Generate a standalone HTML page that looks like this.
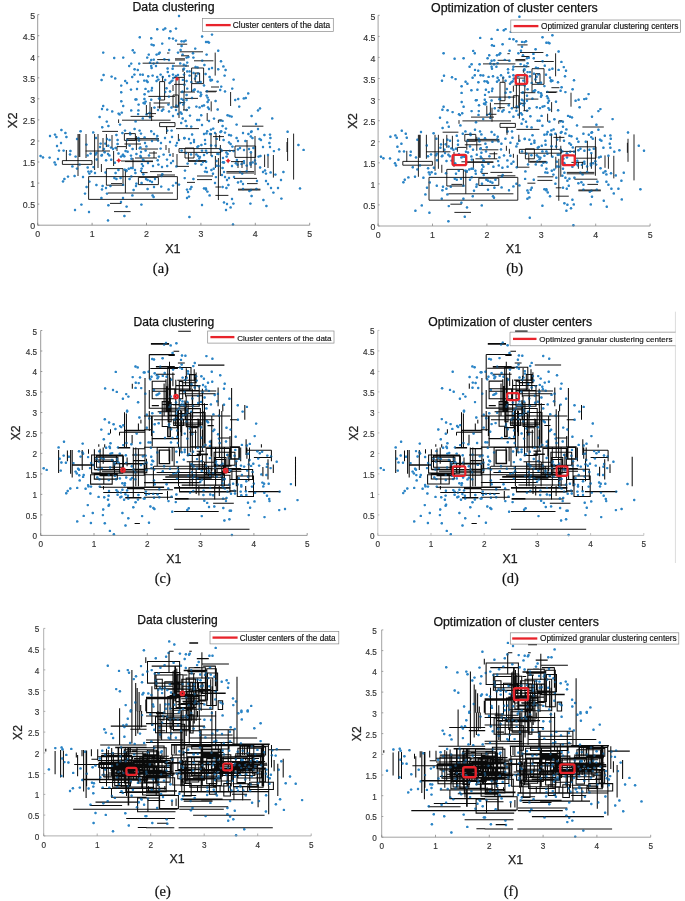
<!DOCTYPE html>
<html lang="en"><head><meta charset="utf-8"><title>Granular clustering figure</title>
<style>
html,body{margin:0;padding:0;background:#fff}
body{width:685px;height:901px;overflow:hidden}
svg{display:block}
.tk{font:8.8px "Liberation Sans",Arial,sans-serif;fill:#333;stroke:#333;stroke-width:.15}
.ti{font:12.3px "Liberation Sans",Arial,sans-serif;fill:#111;stroke:#111;stroke-width:.25}
.al{font:12.8px "Liberation Sans",Arial,sans-serif;fill:#222;stroke:#222;stroke-width:.25}
.lg{font:8.25px "Liberation Sans",Arial,sans-serif;fill:#111;stroke:#111;stroke-width:.15}
.cp{font:14.5px "Liberation Serif","Times New Roman",serif;fill:#111;stroke:#111;stroke-width:.2}
.ax{stroke:#8a8a8a;stroke-width:.8;fill:none}
.g{stroke:#0a0a0a;stroke-width:1.05;fill:none}
.d{fill:#2a84c6}
.r{stroke:#e8232b;fill:none}
</style></head><body>
<svg width="685" height="901" viewBox="0 0 685 901">
<rect width="685" height="901" fill="#fff"/>
<path d="M675.4 311.7V563" stroke="#dcdcdc" stroke-width="1" fill="none"/>
<g id="panel-a">
<g class="d" id="dots-a"><circle cx="157.2" cy="29.2" r="1.2"/><circle cx="163.4" cy="29.6" r="1.2"/><circle cx="165.2" cy="28.4" r="1.2"/><circle cx="170.4" cy="31.2" r="1.2"/><circle cx="139.8" cy="37.2" r="1.2"/><circle cx="151.2" cy="38.2" r="1.2"/><circle cx="169.2" cy="38.2" r="1.2"/><circle cx="173" cy="38.6" r="1.2"/><circle cx="151.6" cy="44.6" r="1.2"/><circle cx="153.6" cy="45.2" r="1.2"/><circle cx="162.2" cy="43.6" r="1.2"/><circle cx="132.8" cy="50.2" r="1.2"/><circle cx="134.4" cy="52.6" r="1.2"/><circle cx="103.2" cy="52.6" r="1.2"/><circle cx="169.2" cy="50" r="1.2"/><circle cx="159.8" cy="52.6" r="1.2"/><circle cx="156.6" cy="54.6" r="1.2"/><circle cx="158.8" cy="53.8" r="1.2"/><circle cx="148.8" cy="54.6" r="1.2"/><circle cx="147.2" cy="57.6" r="1.2"/><circle cx="114.2" cy="58" r="1.2"/><circle cx="123.2" cy="57.6" r="1.2"/><circle cx="151.2" cy="60" r="1.2"/><circle cx="153.8" cy="59.6" r="1.2"/><circle cx="164.4" cy="59.2" r="1.2"/><circle cx="169" cy="60" r="1.2"/><circle cx="131.2" cy="63.6" r="1.2"/><circle cx="129.2" cy="66" r="1.2"/><circle cx="139.2" cy="63.6" r="1.2"/><circle cx="150" cy="62.8" r="1.2"/><circle cx="153.6" cy="63.6" r="1.2"/><circle cx="157.2" cy="62.6" r="1.2"/><circle cx="151.2" cy="66" r="1.2"/><circle cx="156" cy="66" r="1.2"/><circle cx="151.6" cy="68" r="1.2"/><circle cx="173" cy="66" r="1.2"/><circle cx="134.6" cy="69.2" r="1.2"/><circle cx="137.8" cy="70" r="1.2"/><circle cx="103.6" cy="75" r="1.2"/><circle cx="101.6" cy="80" r="1.2"/><circle cx="111.6" cy="76.6" r="1.2"/><circle cx="115.2" cy="78.4" r="1.2"/><circle cx="134.4" cy="74.6" r="1.2"/><circle cx="132.2" cy="77" r="1.2"/><circle cx="140.2" cy="74.6" r="1.2"/><circle cx="142.8" cy="74.8" r="1.2"/><circle cx="148.2" cy="76.2" r="1.2"/><circle cx="152.6" cy="75.6" r="1.2"/><circle cx="157.2" cy="77" r="1.2"/><circle cx="160.6" cy="74.6" r="1.2"/><circle cx="162.8" cy="77" r="1.2"/><circle cx="167.8" cy="72" r="1.2"/><circle cx="169.2" cy="76" r="1.2"/><circle cx="173" cy="74.6" r="1.2"/><circle cx="125.2" cy="81" r="1.2"/><circle cx="127" cy="83" r="1.2"/><circle cx="138" cy="81.6" r="1.2"/><circle cx="144.2" cy="80.6" r="1.2"/><circle cx="147.6" cy="82" r="1.2"/><circle cx="156.6" cy="81" r="1.2"/><circle cx="158.4" cy="79.6" r="1.2"/><circle cx="165.2" cy="80" r="1.2"/><circle cx="169.6" cy="83" r="1.2"/><circle cx="171" cy="81.6" r="1.2"/><circle cx="121.2" cy="85.6" r="1.2"/><circle cx="131" cy="89.6" r="1.2"/><circle cx="137" cy="89" r="1.2"/><circle cx="152" cy="88" r="1.2"/><circle cx="151.6" cy="90.4" r="1.2"/><circle cx="148.4" cy="91.4" r="1.2"/><circle cx="144.6" cy="94.2" r="1.2"/><circle cx="165.2" cy="92" r="1.2"/><circle cx="170" cy="91.4" r="1.2"/><circle cx="121.2" cy="92.2" r="1.2"/><circle cx="136.4" cy="99.4" r="1.2"/><circle cx="144.4" cy="99" r="1.2"/><circle cx="145.6" cy="101.6" r="1.2"/><circle cx="143.6" cy="103" r="1.2"/><circle cx="103.2" cy="106" r="1.2"/><circle cx="102" cy="109" r="1.2"/><circle cx="107.2" cy="109.6" r="1.2"/><circle cx="112.2" cy="111.4" r="1.2"/><circle cx="123.2" cy="106" r="1.2"/><circle cx="131.2" cy="110.4" r="1.2"/><circle cx="138.6" cy="104.6" r="1.2"/><circle cx="138.4" cy="110.4" r="1.2"/><circle cx="154.4" cy="107.6" r="1.2"/><circle cx="158" cy="110" r="1.2"/><circle cx="163.2" cy="109.4" r="1.2"/><circle cx="168.4" cy="104.6" r="1.2"/><circle cx="169" cy="111.4" r="1.2"/><circle cx="99.6" cy="117" r="1.2"/><circle cx="118.6" cy="113.6" r="1.2"/><circle cx="121.8" cy="112.6" r="1.2"/><circle cx="119.6" cy="114.4" r="1.2"/><circle cx="146.6" cy="114.4" r="1.2"/><circle cx="149.6" cy="113" r="1.2"/><circle cx="142.8" cy="118.4" r="1.2"/><circle cx="150" cy="117.4" r="1.2"/><circle cx="173" cy="116" r="1.2"/><circle cx="106.8" cy="121.6" r="1.2"/><circle cx="135.6" cy="121.4" r="1.2"/><circle cx="120" cy="124.6" r="1.2"/><circle cx="102.2" cy="127.2" r="1.2"/><circle cx="108.4" cy="126" r="1.2"/><circle cx="61.4" cy="130" r="1.2"/><circle cx="80.6" cy="131.2" r="1.2"/><circle cx="125" cy="130.6" r="1.2"/><circle cx="134.6" cy="129" r="1.2"/><circle cx="139.6" cy="130.6" r="1.2"/><circle cx="151.2" cy="131.2" r="1.2"/><circle cx="167.2" cy="130.6" r="1.2"/><circle cx="171.6" cy="130.6" r="1.2"/><circle cx="179" cy="16" r="1.2"/><circle cx="176" cy="28.6" r="1.2"/><circle cx="212" cy="34.6" r="1.2"/><circle cx="176" cy="40.6" r="1.2"/><circle cx="181.6" cy="41.2" r="1.2"/><circle cx="184" cy="41.4" r="1.2"/><circle cx="185.6" cy="40.6" r="1.2"/><circle cx="206" cy="42" r="1.2"/><circle cx="208" cy="42" r="1.2"/><circle cx="209" cy="42.6" r="1.2"/><circle cx="181.6" cy="46" r="1.2"/><circle cx="195.2" cy="48.6" r="1.2"/><circle cx="180.6" cy="50" r="1.2"/><circle cx="218.2" cy="50.8" r="1.2"/><circle cx="178" cy="52.6" r="1.2"/><circle cx="182.6" cy="54.6" r="1.2"/><circle cx="193" cy="53.2" r="1.2"/><circle cx="206.6" cy="54.6" r="1.2"/><circle cx="186.6" cy="57.6" r="1.2"/><circle cx="188.4" cy="57" r="1.2"/><circle cx="193.4" cy="57.6" r="1.2"/><circle cx="202.2" cy="60.6" r="1.2"/><circle cx="221" cy="61.2" r="1.2"/><circle cx="187.2" cy="62.6" r="1.2"/><circle cx="186" cy="65.6" r="1.2"/><circle cx="204.4" cy="65" r="1.2"/><circle cx="223.4" cy="66.4" r="1.2"/><circle cx="195.6" cy="67" r="1.2"/><circle cx="197.6" cy="67.4" r="1.2"/><circle cx="225.6" cy="70" r="1.2"/><circle cx="184" cy="68.6" r="1.2"/><circle cx="187.2" cy="71.4" r="1.2"/><circle cx="189.6" cy="71.4" r="1.2"/><circle cx="209" cy="69" r="1.2"/><circle cx="212" cy="68" r="1.2"/><circle cx="218.2" cy="69.2" r="1.2"/><circle cx="193.6" cy="73" r="1.2"/><circle cx="198" cy="73.6" r="1.2"/><circle cx="205.6" cy="74" r="1.2"/><circle cx="209.6" cy="77" r="1.2"/><circle cx="224.6" cy="75.6" r="1.2"/><circle cx="233.6" cy="79.6" r="1.2"/><circle cx="178" cy="75" r="1.2"/><circle cx="176" cy="76" r="1.2"/><circle cx="184" cy="74.6" r="1.2"/><circle cx="189.6" cy="75.6" r="1.2"/><circle cx="186.6" cy="81" r="1.2"/><circle cx="196.2" cy="76" r="1.2"/><circle cx="210.6" cy="79.6" r="1.2"/><circle cx="212" cy="80" r="1.2"/><circle cx="217.6" cy="81.6" r="1.2"/><circle cx="198" cy="82.6" r="1.2"/><circle cx="200.6" cy="82" r="1.2"/><circle cx="204" cy="85.4" r="1.2"/><circle cx="207" cy="91.2" r="1.2"/><circle cx="221.2" cy="86.6" r="1.2"/><circle cx="232.2" cy="88.6" r="1.2"/><circle cx="220.2" cy="90" r="1.2"/><circle cx="225" cy="91.4" r="1.2"/><circle cx="187.2" cy="88.6" r="1.2"/><circle cx="193.2" cy="90.6" r="1.2"/><circle cx="198" cy="91.6" r="1.2"/><circle cx="200.6" cy="92.6" r="1.2"/><circle cx="201.2" cy="94.6" r="1.2"/><circle cx="200.6" cy="96" r="1.2"/><circle cx="206.6" cy="95.6" r="1.2"/><circle cx="207.6" cy="97.6" r="1.2"/><circle cx="215.6" cy="101" r="1.2"/><circle cx="248.2" cy="93.4" r="1.2"/><circle cx="182" cy="92" r="1.2"/><circle cx="186.6" cy="95" r="1.2"/><circle cx="186.6" cy="100" r="1.2"/><circle cx="192" cy="98" r="1.2"/><circle cx="208.6" cy="100" r="1.2"/><circle cx="207.6" cy="102" r="1.2"/><circle cx="235.2" cy="100" r="1.2"/><circle cx="238.2" cy="99" r="1.2"/><circle cx="243.8" cy="98.4" r="1.2"/><circle cx="245.8" cy="98" r="1.2"/><circle cx="184" cy="102.6" r="1.2"/><circle cx="180" cy="103" r="1.2"/><circle cx="183.2" cy="104.6" r="1.2"/><circle cx="196.4" cy="106.6" r="1.2"/><circle cx="199.6" cy="107.4" r="1.2"/><circle cx="202.2" cy="106" r="1.2"/><circle cx="204" cy="105.4" r="1.2"/><circle cx="208" cy="107.4" r="1.2"/><circle cx="209" cy="109" r="1.2"/><circle cx="239.2" cy="106.6" r="1.2"/><circle cx="176" cy="110" r="1.2"/><circle cx="189" cy="107.6" r="1.2"/><circle cx="186.6" cy="110" r="1.2"/><circle cx="260" cy="108.4" r="1.2"/><circle cx="258" cy="110.4" r="1.2"/><circle cx="178" cy="114" r="1.2"/><circle cx="190" cy="115.6" r="1.2"/><circle cx="201.2" cy="115.2" r="1.2"/><circle cx="227.6" cy="115.2" r="1.2"/><circle cx="229.6" cy="116" r="1.2"/><circle cx="231.6" cy="116.6" r="1.2"/><circle cx="251.6" cy="116" r="1.2"/><circle cx="272.2" cy="118.4" r="1.2"/><circle cx="197.2" cy="120" r="1.2"/><circle cx="199.2" cy="120" r="1.2"/><circle cx="185.6" cy="121" r="1.2"/><circle cx="181.2" cy="123" r="1.2"/><circle cx="214" cy="118.6" r="1.2"/><circle cx="220.2" cy="120.6" r="1.2"/><circle cx="209" cy="121" r="1.2"/><circle cx="202" cy="125" r="1.2"/><circle cx="186.6" cy="126" r="1.2"/><circle cx="191.2" cy="126.6" r="1.2"/><circle cx="222.6" cy="126" r="1.2"/><circle cx="236.6" cy="124.6" r="1.2"/><circle cx="256" cy="124" r="1.2"/><circle cx="258" cy="129" r="1.2"/><circle cx="251.6" cy="131.4" r="1.2"/><circle cx="226" cy="128.6" r="1.2"/><circle cx="213.2" cy="128.6" r="1.2"/><circle cx="211" cy="129.6" r="1.2"/><circle cx="221.2" cy="131.2" r="1.2"/><circle cx="207.2" cy="131.2" r="1.2"/><circle cx="50" cy="136" r="1.2"/><circle cx="55" cy="134.6" r="1.2"/><circle cx="56.4" cy="137" r="1.2"/><circle cx="65.4" cy="133" r="1.2"/><circle cx="66.4" cy="137" r="1.2"/><circle cx="77" cy="139" r="1.2"/><circle cx="61" cy="143" r="1.2"/><circle cx="57" cy="146" r="1.2"/><circle cx="86.4" cy="144.6" r="1.2"/><circle cx="100.6" cy="143.6" r="1.2"/><circle cx="96" cy="138" r="1.2"/><circle cx="59" cy="150.6" r="1.2"/><circle cx="63.6" cy="150.6" r="1.2"/><circle cx="70.4" cy="151" r="1.2"/><circle cx="75.6" cy="156.6" r="1.2"/><circle cx="70" cy="154.4" r="1.2"/><circle cx="58" cy="159" r="1.2"/><circle cx="49.6" cy="157.6" r="1.2"/><circle cx="40.6" cy="156" r="1.2"/><circle cx="43" cy="157.4" r="1.2"/><circle cx="54.6" cy="162.4" r="1.2"/><circle cx="55.6" cy="164.6" r="1.2"/><circle cx="72.4" cy="166.4" r="1.2"/><circle cx="79.6" cy="164.6" r="1.2"/><circle cx="77" cy="168.6" r="1.2"/><circle cx="68" cy="176.6" r="1.2"/><circle cx="64.4" cy="179" r="1.2"/><circle cx="63" cy="181.4" r="1.2"/><circle cx="74.6" cy="176" r="1.2"/><circle cx="83" cy="177" r="1.2"/><circle cx="88.4" cy="171.6" r="1.2"/><circle cx="89.4" cy="173.6" r="1.2"/><circle cx="95" cy="173" r="1.2"/><circle cx="86.6" cy="187" r="1.2"/><circle cx="85" cy="193.6" r="1.2"/><circle cx="96.4" cy="185" r="1.2"/><circle cx="102.6" cy="186" r="1.2"/><circle cx="102" cy="189.4" r="1.2"/><circle cx="106" cy="188" r="1.2"/><circle cx="110.4" cy="186" r="1.2"/><circle cx="107" cy="193.6" r="1.2"/><circle cx="101.4" cy="198" r="1.2"/><circle cx="89.4" cy="181.6" r="1.2"/><circle cx="81.4" cy="204.6" r="1.2"/><circle cx="75" cy="210" r="1.2"/><circle cx="89" cy="212" r="1.2"/><circle cx="108" cy="220.4" r="1.2"/><circle cx="124.4" cy="216" r="1.2"/><circle cx="126.6" cy="206.6" r="1.2"/><circle cx="141.4" cy="204.6" r="1.2"/><circle cx="121" cy="202" r="1.2"/><circle cx="123" cy="198" r="1.2"/><circle cx="132.4" cy="195.4" r="1.2"/><circle cx="133.6" cy="190" r="1.2"/><circle cx="136" cy="186" r="1.2"/><circle cx="136.4" cy="183.6" r="1.2"/><circle cx="141.6" cy="183" r="1.2"/><circle cx="153.6" cy="197" r="1.2"/><circle cx="152.6" cy="195.4" r="1.2"/><circle cx="147.6" cy="189" r="1.2"/><circle cx="154" cy="187" r="1.2"/><circle cx="161.2" cy="186.6" r="1.2"/><circle cx="168.6" cy="189.4" r="1.2"/><circle cx="161.6" cy="176" r="1.2"/><circle cx="173" cy="185.6" r="1.2"/><circle cx="146" cy="179" r="1.2"/><circle cx="147.6" cy="180" r="1.2"/><circle cx="150" cy="181" r="1.2"/><circle cx="155" cy="179" r="1.2"/><circle cx="152" cy="182" r="1.2"/><circle cx="114.4" cy="178" r="1.2"/><circle cx="116.4" cy="179" r="1.2"/><circle cx="120.6" cy="178" r="1.2"/><circle cx="129.6" cy="179" r="1.2"/><circle cx="115.6" cy="173" r="1.2"/><circle cx="118.4" cy="170" r="1.2"/><circle cx="126.4" cy="171" r="1.2"/><circle cx="131" cy="168" r="1.2"/><circle cx="135" cy="170" r="1.2"/><circle cx="135.4" cy="173" r="1.2"/><circle cx="141" cy="171" r="1.2"/><circle cx="143" cy="166" r="1.2"/><circle cx="141.6" cy="168.6" r="1.2"/><circle cx="148" cy="163" r="1.2"/><circle cx="153" cy="166" r="1.2"/><circle cx="158.4" cy="164.6" r="1.2"/><circle cx="162" cy="167" r="1.2"/><circle cx="167" cy="159.6" r="1.2"/><circle cx="171" cy="163" r="1.2"/><circle cx="173" cy="161" r="1.2"/><circle cx="121" cy="156.6" r="1.2"/><circle cx="123" cy="154.6" r="1.2"/><circle cx="125.6" cy="151" r="1.2"/><circle cx="131" cy="155.6" r="1.2"/><circle cx="136.4" cy="154" r="1.2"/><circle cx="140.4" cy="156" r="1.2"/><circle cx="141" cy="152" r="1.2"/><circle cx="145.6" cy="150.6" r="1.2"/><circle cx="149" cy="155.4" r="1.2"/><circle cx="159" cy="156.6" r="1.2"/><circle cx="163.6" cy="154.6" r="1.2"/><circle cx="160.6" cy="148.6" r="1.2"/><circle cx="170" cy="155" r="1.2"/><circle cx="107" cy="139" r="1.2"/><circle cx="109.6" cy="140" r="1.2"/><circle cx="116.4" cy="135" r="1.2"/><circle cx="117.6" cy="140" r="1.2"/><circle cx="117.6" cy="144" r="1.2"/><circle cx="111" cy="147.6" r="1.2"/><circle cx="113" cy="149" r="1.2"/><circle cx="115.6" cy="148" r="1.2"/><circle cx="108" cy="154" r="1.2"/><circle cx="109.4" cy="155.4" r="1.2"/><circle cx="102" cy="155" r="1.2"/><circle cx="96.4" cy="153" r="1.2"/><circle cx="90.6" cy="153.6" r="1.2"/><circle cx="87.6" cy="155.4" r="1.2"/><circle cx="100" cy="147" r="1.2"/><circle cx="104" cy="149" r="1.2"/><circle cx="122.4" cy="133" r="1.2"/><circle cx="130" cy="133" r="1.2"/><circle cx="141" cy="133.6" r="1.2"/><circle cx="154" cy="134" r="1.2"/><circle cx="138.4" cy="138" r="1.2"/><circle cx="145" cy="143" r="1.2"/><circle cx="146.4" cy="146.4" r="1.2"/><circle cx="152" cy="141" r="1.2"/><circle cx="158" cy="140.6" r="1.2"/><circle cx="161" cy="143" r="1.2"/><circle cx="165" cy="138" r="1.2"/><circle cx="170" cy="142" r="1.2"/><circle cx="172" cy="137" r="1.2"/><circle cx="140.4" cy="147.4" r="1.2"/><circle cx="132.6" cy="149" r="1.2"/><circle cx="129.6" cy="145.6" r="1.2"/><circle cx="298.4" cy="145" r="1.2"/><circle cx="279" cy="149.4" r="1.2"/><circle cx="283.4" cy="172" r="1.2"/><circle cx="281" cy="180" r="1.2"/><circle cx="278" cy="188" r="1.2"/><circle cx="300" cy="188.4" r="1.2"/><circle cx="281.4" cy="198.6" r="1.2"/><circle cx="273.4" cy="192.6" r="1.2"/><circle cx="271" cy="188" r="1.2"/><circle cx="268" cy="184" r="1.2"/><circle cx="266" cy="181" r="1.2"/><circle cx="275.4" cy="174.6" r="1.2"/><circle cx="270.6" cy="172.4" r="1.2"/><circle cx="266" cy="173.6" r="1.2"/><circle cx="263" cy="172" r="1.2"/><circle cx="265" cy="170.4" r="1.2"/><circle cx="263.4" cy="200" r="1.2"/><circle cx="266.4" cy="206" r="1.2"/><circle cx="250.4" cy="203.6" r="1.2"/><circle cx="251.6" cy="196" r="1.2"/><circle cx="249.4" cy="191" r="1.2"/><circle cx="243" cy="184" r="1.2"/><circle cx="241" cy="181.4" r="1.2"/><circle cx="238" cy="182.4" r="1.2"/><circle cx="234" cy="177" r="1.2"/><circle cx="229" cy="178" r="1.2"/><circle cx="227" cy="180" r="1.2"/><circle cx="228.4" cy="185" r="1.2"/><circle cx="226.4" cy="188" r="1.2"/><circle cx="222.6" cy="187" r="1.2"/><circle cx="222" cy="175" r="1.2"/><circle cx="224" cy="172" r="1.2"/><circle cx="222.6" cy="168" r="1.2"/><circle cx="225" cy="177" r="1.2"/><circle cx="232" cy="199" r="1.2"/><circle cx="233.4" cy="203.6" r="1.2"/><circle cx="230.6" cy="207.4" r="1.2"/><circle cx="227" cy="204" r="1.2"/><circle cx="224" cy="202.4" r="1.2"/><circle cx="226" cy="210" r="1.2"/><circle cx="202" cy="205" r="1.2"/><circle cx="189.4" cy="217" r="1.2"/><circle cx="233" cy="224.4" r="1.2"/><circle cx="209.6" cy="195.4" r="1.2"/><circle cx="207.4" cy="191.6" r="1.2"/><circle cx="206" cy="189.6" r="1.2"/><circle cx="204" cy="188.4" r="1.2"/><circle cx="191.4" cy="187" r="1.2"/><circle cx="190.4" cy="189" r="1.2"/><circle cx="188" cy="192" r="1.2"/><circle cx="189" cy="196.6" r="1.2"/><circle cx="187" cy="198" r="1.2"/><circle cx="187" cy="189.6" r="1.2"/><circle cx="176" cy="183" r="1.2"/><circle cx="179" cy="184.6" r="1.2"/><circle cx="193.4" cy="179" r="1.2"/><circle cx="215" cy="183" r="1.2"/><circle cx="185" cy="170.6" r="1.2"/><circle cx="176.4" cy="166.4" r="1.2"/><circle cx="201.4" cy="164.6" r="1.2"/><circle cx="195.4" cy="163.6" r="1.2"/><circle cx="206" cy="168" r="1.2"/><circle cx="207" cy="172" r="1.2"/><circle cx="211.4" cy="170" r="1.2"/><circle cx="205" cy="171.6" r="1.2"/><circle cx="177" cy="143" r="1.2"/><circle cx="179" cy="140" r="1.2"/><circle cx="184.4" cy="138" r="1.2"/><circle cx="189" cy="139" r="1.2"/><circle cx="194" cy="140" r="1.2"/><circle cx="194" cy="142" r="1.2"/><circle cx="197.4" cy="147" r="1.2"/><circle cx="201.4" cy="145" r="1.2"/><circle cx="204" cy="134" r="1.2"/><circle cx="206.4" cy="133.4" r="1.2"/><circle cx="210" cy="134" r="1.2"/><circle cx="205" cy="140" r="1.2"/><circle cx="176" cy="145.6" r="1.2"/><circle cx="181.6" cy="150.6" r="1.2"/><circle cx="186" cy="153" r="1.2"/><circle cx="191" cy="154.4" r="1.2"/><circle cx="198" cy="156" r="1.2"/><circle cx="200" cy="157" r="1.2"/><circle cx="196.4" cy="154.4" r="1.2"/><circle cx="204" cy="155" r="1.2"/><circle cx="207" cy="153" r="1.2"/><circle cx="212" cy="156" r="1.2"/><circle cx="202" cy="150.6" r="1.2"/><circle cx="206" cy="150.6" r="1.2"/><circle cx="215" cy="133" r="1.2"/><circle cx="220.4" cy="132" r="1.2"/><circle cx="225" cy="132.6" r="1.2"/><circle cx="229" cy="135" r="1.2"/><circle cx="231" cy="135.4" r="1.2"/><circle cx="223.6" cy="140" r="1.2"/><circle cx="229" cy="142.4" r="1.2"/><circle cx="230.6" cy="144" r="1.2"/><circle cx="232.4" cy="146.6" r="1.2"/><circle cx="236.6" cy="138" r="1.2"/><circle cx="238" cy="141" r="1.2"/><circle cx="243" cy="133" r="1.2"/><circle cx="248.4" cy="134" r="1.2"/><circle cx="251" cy="132" r="1.2"/><circle cx="252.4" cy="138" r="1.2"/><circle cx="245.4" cy="141" r="1.2"/><circle cx="240" cy="148" r="1.2"/><circle cx="238" cy="149.4" r="1.2"/><circle cx="244" cy="150" r="1.2"/><circle cx="249" cy="149" r="1.2"/><circle cx="253.4" cy="148" r="1.2"/><circle cx="259.6" cy="139" r="1.2"/><circle cx="261" cy="140" r="1.2"/><circle cx="264.4" cy="135" r="1.2"/><circle cx="270" cy="134.6" r="1.2"/><circle cx="270.4" cy="138" r="1.2"/><circle cx="269.4" cy="143" r="1.2"/><circle cx="270" cy="147" r="1.2"/><circle cx="263" cy="147" r="1.2"/><circle cx="260.4" cy="156" r="1.2"/><circle cx="258.6" cy="156.6" r="1.2"/><circle cx="268" cy="155" r="1.2"/><circle cx="255" cy="160.4" r="1.2"/><circle cx="250.6" cy="164.6" r="1.2"/><circle cx="244" cy="163" r="1.2"/><circle cx="232" cy="166" r="1.2"/><circle cx="226.6" cy="156.6" r="1.2"/><circle cx="223" cy="158" r="1.2"/><circle cx="224" cy="162.6" r="1.2"/><circle cx="222" cy="150.6" r="1.2"/><circle cx="226.4" cy="152.4" r="1.2"/><circle cx="233.6" cy="151" r="1.2"/><circle cx="218.4" cy="154" r="1.2"/><circle cx="216.4" cy="161" r="1.2"/><circle cx="257" cy="181" r="1.2"/><circle cx="256.4" cy="189" r="1.2"/><circle cx="251" cy="190" r="1.2"/><circle cx="243" cy="189" r="1.2"/><circle cx="139" cy="140.5" r="1.2"/><circle cx="105.6" cy="172.5" r="1.2"/><circle cx="130.2" cy="134.3" r="1.2"/><circle cx="131.3" cy="176.4" r="1.2"/><circle cx="106.1" cy="160.3" r="1.2"/><circle cx="143" cy="159.6" r="1.2"/><circle cx="114.9" cy="162.8" r="1.2"/><circle cx="126.3" cy="170.2" r="1.2"/><circle cx="122.7" cy="155.6" r="1.2"/><circle cx="157.7" cy="160.3" r="1.2"/><circle cx="143.3" cy="174.3" r="1.2"/><circle cx="141" cy="157.1" r="1.2"/><circle cx="111.2" cy="159.8" r="1.2"/><circle cx="141.9" cy="164.1" r="1.2"/><circle cx="144.6" cy="137.4" r="1.2"/><circle cx="157.3" cy="136" r="1.2"/><circle cx="95.6" cy="154.5" r="1.2"/><circle cx="108.2" cy="145.8" r="1.2"/><circle cx="124.3" cy="156.2" r="1.2"/><circle cx="132.6" cy="168" r="1.2"/><circle cx="124.8" cy="169.8" r="1.2"/><circle cx="167.2" cy="166" r="1.2"/><circle cx="123.1" cy="184.9" r="1.2"/><circle cx="91.2" cy="171.5" r="1.2"/><circle cx="139.8" cy="148.2" r="1.2"/><circle cx="128.8" cy="168.7" r="1.2"/><circle cx="162.3" cy="174.2" r="1.2"/><circle cx="104.6" cy="152.3" r="1.2"/><circle cx="101.5" cy="155.5" r="1.2"/><circle cx="143.5" cy="160.4" r="1.2"/><circle cx="131.5" cy="158.8" r="1.2"/><circle cx="108.4" cy="205.3" r="1.2"/><circle cx="96.7" cy="159.5" r="1.2"/><circle cx="87.7" cy="167.5" r="1.2"/><circle cx="127.2" cy="140" r="1.2"/><circle cx="93.5" cy="167.1" r="1.2"/><circle cx="127.6" cy="151.7" r="1.2"/><circle cx="93.2" cy="132.4" r="1.2"/><circle cx="105.3" cy="143.6" r="1.2"/><circle cx="118.5" cy="153.5" r="1.2"/><circle cx="236.9" cy="159.9" r="1.2"/><circle cx="303.6" cy="149.9" r="1.2"/><circle cx="229.8" cy="150.9" r="1.2"/><circle cx="213.7" cy="168.8" r="1.2"/><circle cx="237.5" cy="164.7" r="1.2"/><circle cx="243.9" cy="161.1" r="1.2"/><circle cx="184.7" cy="178.1" r="1.2"/><circle cx="205.9" cy="188.5" r="1.2"/><circle cx="223.6" cy="162.3" r="1.2"/><circle cx="246.7" cy="171.2" r="1.2"/><circle cx="220.1" cy="148.9" r="1.2"/><circle cx="242.2" cy="173.6" r="1.2"/><circle cx="260.1" cy="167.5" r="1.2"/><circle cx="252.7" cy="162.4" r="1.2"/><circle cx="215.9" cy="177.1" r="1.2"/><circle cx="222.5" cy="120.9" r="1.2"/><circle cx="210.9" cy="134.1" r="1.2"/><circle cx="255.7" cy="163.8" r="1.2"/><circle cx="250.8" cy="136.4" r="1.2"/><circle cx="218.5" cy="166" r="1.2"/><circle cx="250.9" cy="152.3" r="1.2"/><circle cx="273.9" cy="151.1" r="1.2"/><circle cx="199.2" cy="158.5" r="1.2"/><circle cx="198.4" cy="146.1" r="1.2"/><circle cx="241.5" cy="164.1" r="1.2"/><circle cx="205.2" cy="143.9" r="1.2"/><circle cx="216.8" cy="138.9" r="1.2"/><circle cx="203" cy="162" r="1.2"/><circle cx="213" cy="173.8" r="1.2"/><circle cx="287.6" cy="131.7" r="1.2"/><circle cx="211.1" cy="145.5" r="1.2"/><circle cx="184.3" cy="138.3" r="1.2"/><circle cx="250.3" cy="163" r="1.2"/><circle cx="217.4" cy="153.9" r="1.2"/><circle cx="235.9" cy="163.3" r="1.2"/><circle cx="206.1" cy="161.8" r="1.2"/><circle cx="215.7" cy="145.6" r="1.2"/><circle cx="227.6" cy="154" r="1.2"/><circle cx="187.6" cy="163.6" r="1.2"/><circle cx="216.6" cy="165.7" r="1.2"/><circle cx="222.9" cy="162.3" r="1.2"/><circle cx="190.8" cy="143.1" r="1.2"/><circle cx="246.7" cy="165.6" r="1.2"/><circle cx="240" cy="172" r="1.2"/><circle cx="196.9" cy="160.8" r="1.2"/><circle cx="217.7" cy="109.5" r="1.2"/><circle cx="182.6" cy="91.7" r="1.2"/><circle cx="159.7" cy="98.3" r="1.2"/><circle cx="166.5" cy="88.3" r="1.2"/><circle cx="183.8" cy="64.8" r="1.2"/><circle cx="180.2" cy="63.4" r="1.2"/><circle cx="184.4" cy="84.8" r="1.2"/><circle cx="171.5" cy="107.5" r="1.2"/><circle cx="145.5" cy="88.9" r="1.2"/><circle cx="172.3" cy="80.6" r="1.2"/><circle cx="181.6" cy="113.7" r="1.2"/><circle cx="161.9" cy="110.8" r="1.2"/><circle cx="194.2" cy="89.9" r="1.2"/><circle cx="177.6" cy="106.4" r="1.2"/><circle cx="151.2" cy="99.7" r="1.2"/><circle cx="173.3" cy="78" r="1.2"/><circle cx="146.6" cy="80.8" r="1.2"/><circle cx="159" cy="98.6" r="1.2"/><circle cx="168.9" cy="96.6" r="1.2"/><circle cx="183.7" cy="69.4" r="1.2"/><circle cx="181.5" cy="98.9" r="1.2"/><circle cx="182.9" cy="79.9" r="1.2"/><circle cx="191.3" cy="82.1" r="1.2"/><circle cx="144.8" cy="103.4" r="1.2"/><circle cx="167.6" cy="68.5" r="1.2"/><circle cx="172.6" cy="68.8" r="1.2"/><circle cx="180.6" cy="112.4" r="1.2"/><circle cx="175.9" cy="76.2" r="1.2"/><circle cx="182.7" cy="118.5" r="1.2"/><circle cx="183.1" cy="99.9" r="1.2"/><circle cx="135.5" cy="99.5" r="1.2"/><circle cx="138.1" cy="114.1" r="1.2"/><circle cx="202.1" cy="36.5" r="1.2"/><circle cx="195" cy="78.7" r="1.2"/><circle cx="210.7" cy="80.6" r="1.2"/><circle cx="156.7" cy="138.6" r="1.2"/><circle cx="192.1" cy="134.5" r="1.2"/><circle cx="121.3" cy="101.3" r="1.2"/><circle cx="176.3" cy="105.6" r="1.2"/><circle cx="194.7" cy="89.5" r="1.2"/></g>
<path class="g" style="stroke-width:0.9" d="M142.6 63.2L175 63.2M157.2 59.6L169.2 59.6M167 53L169.4 53M159.6 100H164.6V81.6H159.6ZM162.6 76L162.6 81.6M148.4 96.4L175 96.4M153.6 103L170 103M157.2 107L164.4 107M159.6 100L159.6 108.6M146.4 105L146.4 115M150 102L150 118M151.6 107L151.6 121M130.6 116.4L153.6 116.4M146 113.6L156 113.6M122 120.2L170.6 120.2M118.6 119.4L118.6 123M159.6 126.6H175V122.6H159.6ZM102.2 131.4L118 131.4M166.6 127L166.6 132M173 85L173 91M177 44.2L187.2 44.2M179.6 51.8L203 51.8M175 58.8L185 58.8M175 60L185 60M181 55.8L189 55.8M194 60.8L213.4 60.8M215.2 52.6L215.2 75.6M174 66L189 66M191.6 83.6H203.6V68H191.6ZM195.2 82H199.6V73H195.2ZM191.6 83.6L191.6 92M184.4 72L184.4 92M183 68.6L183 72M179 78L179 118M176 80L176 108M174 77.4L184 77.4M174 84.4L184 84.4M180 92L195 92M173 107H178.4V95H173ZM185 98.4L198 98.4M184 92L184 110M183 110L188 110M180 102.6L184 102.6M211 87L219 87M205.6 91.2L217 91.2M205.6 91.8L216 91.8M230.6 92L230.6 106M211.2 101.4L211.2 111.4M207.2 113L207.2 121M218.4 120L222 120M218.4 120L218.4 123M242 126.2L263.4 126.2M176 128.6L199 128.6M166.6 126.6L166.6 134M78 134L78 157M79 134L79 157M79.8 134L79.8 157M86 134L86 158M94.6 134L94.6 170M98 134L98 168M103 138L103 151M106.4 134L106.4 147M112 135L112 148M85.6 151L110 151M124.4 140.4H135.4V133.6H124.4ZM126.4 138.6L159 138.6M126.4 140L159 140M117 146.6L126 146.6M117 146.6L117 151M113.6 151L113.6 166M126.4 141L126.4 149M124.4 144L141 144M136.4 136L136.4 150M62.4 164.4H92V160.6H62.4ZM66.4 150L66.4 161M78 157L78 176M101.4 164L101.4 172M106.4 185.2H123V168.6H106.4ZM125.4 170L125.4 193M88.6 199.4H177.4V176.6H88.6ZM138.4 184.6H158.4V177.4H138.4ZM111 183.6L122 183.6M108 193L173 193M110 203.4L121.4 203.4M114 211.6L130.6 211.6M121 161L153 161M125 161.6L153 161.6M135 158L157 158M133 158L133 167M154 151L154 158M141 149L158 149M149 153L157 153M150 171.6L172 171.6M141 172.6L147.6 172.6M166 145L166 150M169 148L169 153M173 153L173 157M157 175L175 175M293.6 133.6L293.6 179.6M287.6 138L287.6 161M287 142L287 152M273.4 155L273.4 177.6M264.6 154.6L264.6 167M268 156L268 168M235 157.4H255.6V146H235ZM247 140L247 170M255 136L255 175M251 153L251 168M226.4 171.6L254 171.6M226.4 173L254 173M234 178.4L257 178.4M247 183.6L257.6 183.6M238 189.2L260.4 189.2M238 190L260.4 190M179 152.4H221V148.6H179ZM221 150.6L235 150.6M185 158H194V148H185ZM188.4 153L188.4 162M189 160.6L206 160.6M189 161.4L206 161.4M178.4 134L178.4 141M177 154L177 167M177 166.4L189 166.4M211 133L211 156M216 133L216 148M213 136.6L224 136.6M219.6 135L219.6 141M215.4 156L215.4 168M220.4 145L220.4 176M218.4 158L218.4 200M197 176L213 176M197 179.6L212 179.6M187 182.4L195 182.4M215.4 187L221 187M215.4 195.4L228.4 195.4M238 161L238 168M242 161L242 168M231 161.6L243 161.6"/>
<use href="#dots-a" opacity=".5"/>
<path fill="#e8232b" d="M118.8 157.9L119.7 159.6L121.4 160.5L119.7 161.5L118.8 163.1L117.8 161.5L116.2 160.5L117.8 159.6Z"/><path fill="#e8232b" d="M177 76.6L177.9 78.1L179.4 79L177.9 80L177 81.4L176.1 80L174.6 79L176.1 78.1Z"/><path fill="#e8232b" d="M228.1 158.2L229.1 159.8L230.7 160.8L229.1 161.7L228.1 163.4L227.1 161.7L225.5 160.8L227.1 159.8Z"/>
<path class="ax" style="stroke:#808080" d="M37.7 14.6V225.2H309.7M37.7 225.2v-2.4M92.1 225.2v-2.4M146.5 225.2v-2.4M200.9 225.2v-2.4M255.3 225.2v-2.4M309.7 225.2v-2.4M37.7 225.2h1.6M37.7 204.1h1.6M37.7 183.1h1.6M37.7 162h1.6M37.7 141h1.6M37.7 119.9h1.6M37.7 98.8h1.6M37.7 77.8h1.6M37.7 56.7h1.6M37.7 35.7h1.6M37.7 14.6h1.6"/>
<text class="tk" text-anchor="middle" style="font-size:8.8px" x="37.7" y="237.4">0</text><text class="tk" text-anchor="middle" style="font-size:8.8px" x="92.1" y="237.4">1</text><text class="tk" text-anchor="middle" style="font-size:8.8px" x="146.5" y="237.4">2</text><text class="tk" text-anchor="middle" style="font-size:8.8px" x="200.9" y="237.4">3</text><text class="tk" text-anchor="middle" style="font-size:8.8px" x="255.3" y="237.4">4</text><text class="tk" text-anchor="middle" style="font-size:8.8px" x="309.7" y="237.4">5</text><text class="tk" text-anchor="end" style="font-size:8.8px" x="35.1" y="229.4">0</text><text class="tk" text-anchor="end" style="font-size:8.8px" x="35.1" y="208.3">0.5</text><text class="tk" text-anchor="end" style="font-size:8.8px" x="35.1" y="187.2">1</text><text class="tk" text-anchor="end" style="font-size:8.8px" x="35.1" y="166.2">1.5</text><text class="tk" text-anchor="end" style="font-size:8.8px" x="35.1" y="145.1">2</text><text class="tk" text-anchor="end" style="font-size:8.8px" x="35.1" y="124.1">2.5</text><text class="tk" text-anchor="end" style="font-size:8.8px" x="35.1" y="103">3</text><text class="tk" text-anchor="end" style="font-size:8.8px" x="35.1" y="81.9">3.5</text><text class="tk" text-anchor="end" style="font-size:8.8px" x="35.1" y="60.9">4</text><text class="tk" text-anchor="end" style="font-size:8.8px" x="35.1" y="39.8">4.5</text><text class="tk" text-anchor="end" style="font-size:8.8px" x="35.1" y="18.8">5</text>
<text class="ti" text-anchor="middle" style="font-size:12.3px" x="173.5" y="10.9">Data clustering</text>
<text class="al" text-anchor="middle" style="font-size:12.6px" x="172.9" y="252.8">X1</text>
<text class="al" text-anchor="middle" style="font-size:12.8px" transform="translate(16.5 120.3) rotate(-90)">X2</text>
<text class="cp" text-anchor="middle" x="160.9" y="273.3">(a)</text>
<rect x="202.6" y="18.6" width="130.7" height="13" fill="#fff" stroke="#8a8a8a" stroke-width=".7"/><path d="M205.8 25.1H230.7" stroke="#e8232b" stroke-width="2.3"/><text class="lg" style="font-size:8.3px" x="232.8" y="28.4">Cluster centers of the data</text>
</g>
<g id="panel-b">
<g class="d" id="dots-b"><circle cx="497.6" cy="29.9" r="1.2"/><circle cx="503.8" cy="30.3" r="1.2"/><circle cx="505.6" cy="29.1" r="1.2"/><circle cx="510.8" cy="31.9" r="1.2"/><circle cx="480.2" cy="37.9" r="1.2"/><circle cx="491.6" cy="38.9" r="1.2"/><circle cx="509.6" cy="38.9" r="1.2"/><circle cx="513.4" cy="39.3" r="1.2"/><circle cx="492" cy="45.3" r="1.2"/><circle cx="494" cy="45.9" r="1.2"/><circle cx="502.6" cy="44.3" r="1.2"/><circle cx="473.2" cy="50.9" r="1.2"/><circle cx="474.8" cy="53.3" r="1.2"/><circle cx="443.6" cy="53.3" r="1.2"/><circle cx="509.6" cy="50.7" r="1.2"/><circle cx="500.2" cy="53.3" r="1.2"/><circle cx="497" cy="55.3" r="1.2"/><circle cx="499.2" cy="54.5" r="1.2"/><circle cx="489.2" cy="55.3" r="1.2"/><circle cx="487.6" cy="58.3" r="1.2"/><circle cx="454.6" cy="58.7" r="1.2"/><circle cx="463.6" cy="58.3" r="1.2"/><circle cx="491.6" cy="60.7" r="1.2"/><circle cx="494.2" cy="60.3" r="1.2"/><circle cx="504.8" cy="59.9" r="1.2"/><circle cx="509.4" cy="60.7" r="1.2"/><circle cx="471.6" cy="64.3" r="1.2"/><circle cx="469.6" cy="66.7" r="1.2"/><circle cx="479.6" cy="64.3" r="1.2"/><circle cx="490.4" cy="63.5" r="1.2"/><circle cx="494" cy="64.3" r="1.2"/><circle cx="497.6" cy="63.3" r="1.2"/><circle cx="491.6" cy="66.7" r="1.2"/><circle cx="496.4" cy="66.7" r="1.2"/><circle cx="492" cy="68.7" r="1.2"/><circle cx="513.4" cy="66.7" r="1.2"/><circle cx="475" cy="69.9" r="1.2"/><circle cx="478.2" cy="70.7" r="1.2"/><circle cx="444" cy="75.7" r="1.2"/><circle cx="442" cy="80.7" r="1.2"/><circle cx="452" cy="77.3" r="1.2"/><circle cx="455.6" cy="79.1" r="1.2"/><circle cx="474.8" cy="75.3" r="1.2"/><circle cx="472.6" cy="77.7" r="1.2"/><circle cx="480.6" cy="75.3" r="1.2"/><circle cx="483.2" cy="75.5" r="1.2"/><circle cx="488.6" cy="76.9" r="1.2"/><circle cx="493" cy="76.3" r="1.2"/><circle cx="497.6" cy="77.7" r="1.2"/><circle cx="501" cy="75.3" r="1.2"/><circle cx="503.2" cy="77.7" r="1.2"/><circle cx="508.2" cy="72.7" r="1.2"/><circle cx="509.6" cy="76.7" r="1.2"/><circle cx="513.4" cy="75.3" r="1.2"/><circle cx="465.6" cy="81.7" r="1.2"/><circle cx="467.4" cy="83.7" r="1.2"/><circle cx="478.4" cy="82.3" r="1.2"/><circle cx="484.6" cy="81.3" r="1.2"/><circle cx="488" cy="82.7" r="1.2"/><circle cx="497" cy="81.7" r="1.2"/><circle cx="498.8" cy="80.3" r="1.2"/><circle cx="505.6" cy="80.7" r="1.2"/><circle cx="510" cy="83.7" r="1.2"/><circle cx="511.4" cy="82.3" r="1.2"/><circle cx="461.6" cy="86.3" r="1.2"/><circle cx="471.4" cy="90.3" r="1.2"/><circle cx="477.4" cy="89.7" r="1.2"/><circle cx="492.4" cy="88.7" r="1.2"/><circle cx="492" cy="91.1" r="1.2"/><circle cx="488.8" cy="92.1" r="1.2"/><circle cx="485" cy="94.9" r="1.2"/><circle cx="505.6" cy="92.7" r="1.2"/><circle cx="510.4" cy="92.1" r="1.2"/><circle cx="461.6" cy="92.9" r="1.2"/><circle cx="476.8" cy="100.1" r="1.2"/><circle cx="484.8" cy="99.7" r="1.2"/><circle cx="486" cy="102.3" r="1.2"/><circle cx="484" cy="103.7" r="1.2"/><circle cx="443.6" cy="106.7" r="1.2"/><circle cx="442.4" cy="109.7" r="1.2"/><circle cx="447.6" cy="110.3" r="1.2"/><circle cx="452.6" cy="112.1" r="1.2"/><circle cx="463.6" cy="106.7" r="1.2"/><circle cx="471.6" cy="111.1" r="1.2"/><circle cx="479" cy="105.3" r="1.2"/><circle cx="478.8" cy="111.1" r="1.2"/><circle cx="494.8" cy="108.3" r="1.2"/><circle cx="498.4" cy="110.7" r="1.2"/><circle cx="503.6" cy="110.1" r="1.2"/><circle cx="508.8" cy="105.3" r="1.2"/><circle cx="509.4" cy="112.1" r="1.2"/><circle cx="440" cy="117.7" r="1.2"/><circle cx="459" cy="114.3" r="1.2"/><circle cx="462.2" cy="113.3" r="1.2"/><circle cx="460" cy="115.1" r="1.2"/><circle cx="487" cy="115.1" r="1.2"/><circle cx="490" cy="113.7" r="1.2"/><circle cx="483.2" cy="119.1" r="1.2"/><circle cx="490.4" cy="118.1" r="1.2"/><circle cx="513.4" cy="116.7" r="1.2"/><circle cx="447.2" cy="122.4" r="1.2"/><circle cx="476" cy="122.2" r="1.2"/><circle cx="460.4" cy="125.4" r="1.2"/><circle cx="442.6" cy="128" r="1.2"/><circle cx="448.8" cy="126.8" r="1.2"/><circle cx="401.8" cy="130.8" r="1.2"/><circle cx="421" cy="132" r="1.2"/><circle cx="465.4" cy="131.4" r="1.2"/><circle cx="475" cy="129.8" r="1.2"/><circle cx="480" cy="131.4" r="1.2"/><circle cx="491.6" cy="132" r="1.2"/><circle cx="507.6" cy="131.4" r="1.2"/><circle cx="512" cy="131.4" r="1.2"/><circle cx="519.4" cy="16.7" r="1.2"/><circle cx="516.4" cy="29.3" r="1.2"/><circle cx="552.4" cy="35.3" r="1.2"/><circle cx="516.4" cy="41.3" r="1.2"/><circle cx="522" cy="41.9" r="1.2"/><circle cx="524.4" cy="42.1" r="1.2"/><circle cx="526" cy="41.3" r="1.2"/><circle cx="546.4" cy="42.7" r="1.2"/><circle cx="548.4" cy="42.7" r="1.2"/><circle cx="549.4" cy="43.3" r="1.2"/><circle cx="522" cy="46.7" r="1.2"/><circle cx="535.6" cy="49.3" r="1.2"/><circle cx="521" cy="50.7" r="1.2"/><circle cx="558.6" cy="51.5" r="1.2"/><circle cx="518.4" cy="53.3" r="1.2"/><circle cx="523" cy="55.3" r="1.2"/><circle cx="533.4" cy="53.9" r="1.2"/><circle cx="547" cy="55.3" r="1.2"/><circle cx="527" cy="58.3" r="1.2"/><circle cx="528.8" cy="57.7" r="1.2"/><circle cx="533.8" cy="58.3" r="1.2"/><circle cx="542.6" cy="61.3" r="1.2"/><circle cx="561.4" cy="61.9" r="1.2"/><circle cx="527.6" cy="63.3" r="1.2"/><circle cx="526.4" cy="66.3" r="1.2"/><circle cx="544.8" cy="65.7" r="1.2"/><circle cx="563.8" cy="67.1" r="1.2"/><circle cx="536" cy="67.7" r="1.2"/><circle cx="538" cy="68.1" r="1.2"/><circle cx="566" cy="70.7" r="1.2"/><circle cx="524.4" cy="69.3" r="1.2"/><circle cx="527.6" cy="72.1" r="1.2"/><circle cx="530" cy="72.1" r="1.2"/><circle cx="549.4" cy="69.7" r="1.2"/><circle cx="552.4" cy="68.7" r="1.2"/><circle cx="558.6" cy="69.9" r="1.2"/><circle cx="534" cy="73.7" r="1.2"/><circle cx="538.4" cy="74.3" r="1.2"/><circle cx="546" cy="74.7" r="1.2"/><circle cx="550" cy="77.7" r="1.2"/><circle cx="565" cy="76.3" r="1.2"/><circle cx="574" cy="80.3" r="1.2"/><circle cx="518.4" cy="75.7" r="1.2"/><circle cx="516.4" cy="76.7" r="1.2"/><circle cx="524.4" cy="75.3" r="1.2"/><circle cx="530" cy="76.3" r="1.2"/><circle cx="527" cy="81.7" r="1.2"/><circle cx="536.6" cy="76.7" r="1.2"/><circle cx="551" cy="80.3" r="1.2"/><circle cx="552.4" cy="80.7" r="1.2"/><circle cx="558" cy="82.3" r="1.2"/><circle cx="538.4" cy="83.3" r="1.2"/><circle cx="541" cy="82.7" r="1.2"/><circle cx="544.4" cy="86.1" r="1.2"/><circle cx="547.4" cy="91.9" r="1.2"/><circle cx="561.6" cy="87.3" r="1.2"/><circle cx="572.6" cy="89.3" r="1.2"/><circle cx="560.6" cy="90.7" r="1.2"/><circle cx="565.4" cy="92.1" r="1.2"/><circle cx="527.6" cy="89.3" r="1.2"/><circle cx="533.6" cy="91.3" r="1.2"/><circle cx="538.4" cy="92.3" r="1.2"/><circle cx="541" cy="93.3" r="1.2"/><circle cx="541.6" cy="95.3" r="1.2"/><circle cx="541" cy="96.7" r="1.2"/><circle cx="547" cy="96.3" r="1.2"/><circle cx="548" cy="98.3" r="1.2"/><circle cx="556" cy="101.7" r="1.2"/><circle cx="588.6" cy="94.1" r="1.2"/><circle cx="522.4" cy="92.7" r="1.2"/><circle cx="527" cy="95.7" r="1.2"/><circle cx="527" cy="100.7" r="1.2"/><circle cx="532.4" cy="98.7" r="1.2"/><circle cx="549" cy="100.7" r="1.2"/><circle cx="548" cy="102.7" r="1.2"/><circle cx="575.6" cy="100.7" r="1.2"/><circle cx="578.6" cy="99.7" r="1.2"/><circle cx="584.2" cy="99.1" r="1.2"/><circle cx="586.2" cy="98.7" r="1.2"/><circle cx="524.4" cy="103.3" r="1.2"/><circle cx="520.4" cy="103.7" r="1.2"/><circle cx="523.6" cy="105.3" r="1.2"/><circle cx="536.8" cy="107.3" r="1.2"/><circle cx="540" cy="108.1" r="1.2"/><circle cx="542.6" cy="106.7" r="1.2"/><circle cx="544.4" cy="106.1" r="1.2"/><circle cx="548.4" cy="108.1" r="1.2"/><circle cx="549.4" cy="109.7" r="1.2"/><circle cx="579.6" cy="107.3" r="1.2"/><circle cx="516.4" cy="110.7" r="1.2"/><circle cx="529.4" cy="108.3" r="1.2"/><circle cx="527" cy="110.7" r="1.2"/><circle cx="600.4" cy="109.1" r="1.2"/><circle cx="598.4" cy="111.1" r="1.2"/><circle cx="518.4" cy="114.7" r="1.2"/><circle cx="530.4" cy="116.3" r="1.2"/><circle cx="541.6" cy="115.9" r="1.2"/><circle cx="568" cy="115.9" r="1.2"/><circle cx="570" cy="116.7" r="1.2"/><circle cx="572" cy="117.4" r="1.2"/><circle cx="592" cy="116.7" r="1.2"/><circle cx="612.6" cy="119.1" r="1.2"/><circle cx="537.6" cy="120.8" r="1.2"/><circle cx="539.6" cy="120.8" r="1.2"/><circle cx="526" cy="121.7" r="1.2"/><circle cx="521.6" cy="123.8" r="1.2"/><circle cx="554.4" cy="119.3" r="1.2"/><circle cx="560.6" cy="121.3" r="1.2"/><circle cx="549.4" cy="121.7" r="1.2"/><circle cx="542.4" cy="125.8" r="1.2"/><circle cx="527" cy="126.8" r="1.2"/><circle cx="531.6" cy="127.4" r="1.2"/><circle cx="563" cy="126.8" r="1.2"/><circle cx="577" cy="125.4" r="1.2"/><circle cx="596.4" cy="124.8" r="1.2"/><circle cx="598.4" cy="129.8" r="1.2"/><circle cx="592" cy="132.2" r="1.2"/><circle cx="566.4" cy="129.4" r="1.2"/><circle cx="553.6" cy="129.4" r="1.2"/><circle cx="551.4" cy="130.4" r="1.2"/><circle cx="561.6" cy="132" r="1.2"/><circle cx="547.6" cy="132" r="1.2"/><circle cx="390.4" cy="136.8" r="1.2"/><circle cx="395.4" cy="135.4" r="1.2"/><circle cx="396.8" cy="137.8" r="1.2"/><circle cx="405.8" cy="133.8" r="1.2"/><circle cx="406.8" cy="137.8" r="1.2"/><circle cx="417.4" cy="139.8" r="1.2"/><circle cx="401.4" cy="143.8" r="1.2"/><circle cx="397.4" cy="146.8" r="1.2"/><circle cx="426.8" cy="145.4" r="1.2"/><circle cx="441" cy="144.4" r="1.2"/><circle cx="436.4" cy="138.8" r="1.2"/><circle cx="399.4" cy="151.4" r="1.2"/><circle cx="404" cy="151.4" r="1.2"/><circle cx="410.8" cy="151.8" r="1.2"/><circle cx="416" cy="157.4" r="1.2"/><circle cx="410.4" cy="155.2" r="1.2"/><circle cx="398.4" cy="159.8" r="1.2"/><circle cx="390" cy="158.4" r="1.2"/><circle cx="381" cy="156.8" r="1.2"/><circle cx="383.4" cy="158.2" r="1.2"/><circle cx="395" cy="163.2" r="1.2"/><circle cx="396" cy="165.4" r="1.2"/><circle cx="412.8" cy="167.2" r="1.2"/><circle cx="420" cy="165.4" r="1.2"/><circle cx="417.4" cy="169.4" r="1.2"/><circle cx="408.4" cy="177.4" r="1.2"/><circle cx="404.8" cy="179.8" r="1.2"/><circle cx="403.4" cy="182.2" r="1.2"/><circle cx="415" cy="176.8" r="1.2"/><circle cx="423.4" cy="177.8" r="1.2"/><circle cx="428.8" cy="172.4" r="1.2"/><circle cx="429.8" cy="174.4" r="1.2"/><circle cx="435.4" cy="173.8" r="1.2"/><circle cx="427" cy="187.8" r="1.2"/><circle cx="425.4" cy="194.4" r="1.2"/><circle cx="436.8" cy="185.8" r="1.2"/><circle cx="443" cy="186.8" r="1.2"/><circle cx="442.4" cy="190.2" r="1.2"/><circle cx="446.4" cy="188.8" r="1.2"/><circle cx="450.8" cy="186.8" r="1.2"/><circle cx="447.4" cy="194.4" r="1.2"/><circle cx="441.8" cy="198.8" r="1.2"/><circle cx="429.8" cy="182.4" r="1.2"/><circle cx="421.8" cy="205.4" r="1.2"/><circle cx="415.4" cy="210.8" r="1.2"/><circle cx="429.4" cy="212.8" r="1.2"/><circle cx="448.4" cy="221.2" r="1.2"/><circle cx="464.8" cy="216.8" r="1.2"/><circle cx="467" cy="207.4" r="1.2"/><circle cx="481.8" cy="205.4" r="1.2"/><circle cx="461.4" cy="202.8" r="1.2"/><circle cx="463.4" cy="198.8" r="1.2"/><circle cx="472.8" cy="196.2" r="1.2"/><circle cx="474" cy="190.8" r="1.2"/><circle cx="476.4" cy="186.8" r="1.2"/><circle cx="476.8" cy="184.4" r="1.2"/><circle cx="482" cy="183.8" r="1.2"/><circle cx="494" cy="197.8" r="1.2"/><circle cx="493" cy="196.2" r="1.2"/><circle cx="488" cy="189.8" r="1.2"/><circle cx="494.4" cy="187.8" r="1.2"/><circle cx="501.6" cy="187.4" r="1.2"/><circle cx="509" cy="190.2" r="1.2"/><circle cx="502" cy="176.8" r="1.2"/><circle cx="513.4" cy="186.4" r="1.2"/><circle cx="486.4" cy="179.8" r="1.2"/><circle cx="488" cy="180.8" r="1.2"/><circle cx="490.4" cy="181.8" r="1.2"/><circle cx="495.4" cy="179.8" r="1.2"/><circle cx="492.4" cy="182.8" r="1.2"/><circle cx="454.8" cy="178.8" r="1.2"/><circle cx="456.8" cy="179.8" r="1.2"/><circle cx="461" cy="178.8" r="1.2"/><circle cx="470" cy="179.8" r="1.2"/><circle cx="456" cy="173.8" r="1.2"/><circle cx="458.8" cy="170.8" r="1.2"/><circle cx="466.8" cy="171.8" r="1.2"/><circle cx="471.4" cy="168.8" r="1.2"/><circle cx="475.4" cy="170.8" r="1.2"/><circle cx="475.8" cy="173.8" r="1.2"/><circle cx="481.4" cy="171.8" r="1.2"/><circle cx="483.4" cy="166.8" r="1.2"/><circle cx="482" cy="169.4" r="1.2"/><circle cx="488.4" cy="163.8" r="1.2"/><circle cx="493.4" cy="166.8" r="1.2"/><circle cx="498.8" cy="165.4" r="1.2"/><circle cx="502.4" cy="167.8" r="1.2"/><circle cx="507.4" cy="160.4" r="1.2"/><circle cx="511.4" cy="163.8" r="1.2"/><circle cx="513.4" cy="161.8" r="1.2"/><circle cx="461.4" cy="157.4" r="1.2"/><circle cx="463.4" cy="155.4" r="1.2"/><circle cx="466" cy="151.8" r="1.2"/><circle cx="471.4" cy="156.4" r="1.2"/><circle cx="476.8" cy="154.8" r="1.2"/><circle cx="480.8" cy="156.8" r="1.2"/><circle cx="481.4" cy="152.8" r="1.2"/><circle cx="486" cy="151.4" r="1.2"/><circle cx="489.4" cy="156.2" r="1.2"/><circle cx="499.4" cy="157.4" r="1.2"/><circle cx="504" cy="155.4" r="1.2"/><circle cx="501" cy="149.4" r="1.2"/><circle cx="510.4" cy="155.8" r="1.2"/><circle cx="447.4" cy="139.8" r="1.2"/><circle cx="450" cy="140.8" r="1.2"/><circle cx="456.8" cy="135.8" r="1.2"/><circle cx="458" cy="140.8" r="1.2"/><circle cx="458" cy="144.8" r="1.2"/><circle cx="451.4" cy="148.4" r="1.2"/><circle cx="453.4" cy="149.8" r="1.2"/><circle cx="456" cy="148.8" r="1.2"/><circle cx="448.4" cy="154.8" r="1.2"/><circle cx="449.8" cy="156.2" r="1.2"/><circle cx="442.4" cy="155.8" r="1.2"/><circle cx="436.8" cy="153.8" r="1.2"/><circle cx="431" cy="154.4" r="1.2"/><circle cx="428" cy="156.2" r="1.2"/><circle cx="440.4" cy="147.8" r="1.2"/><circle cx="444.4" cy="149.8" r="1.2"/><circle cx="462.8" cy="133.8" r="1.2"/><circle cx="470.4" cy="133.8" r="1.2"/><circle cx="481.4" cy="134.4" r="1.2"/><circle cx="494.4" cy="134.8" r="1.2"/><circle cx="478.8" cy="138.8" r="1.2"/><circle cx="485.4" cy="143.8" r="1.2"/><circle cx="486.8" cy="147.2" r="1.2"/><circle cx="492.4" cy="141.8" r="1.2"/><circle cx="498.4" cy="141.4" r="1.2"/><circle cx="501.4" cy="143.8" r="1.2"/><circle cx="505.4" cy="138.8" r="1.2"/><circle cx="510.4" cy="142.8" r="1.2"/><circle cx="512.4" cy="137.8" r="1.2"/><circle cx="480.8" cy="148.2" r="1.2"/><circle cx="473" cy="149.8" r="1.2"/><circle cx="470" cy="146.4" r="1.2"/><circle cx="638.8" cy="145.8" r="1.2"/><circle cx="619.4" cy="150.2" r="1.2"/><circle cx="623.8" cy="172.8" r="1.2"/><circle cx="621.4" cy="180.8" r="1.2"/><circle cx="618.4" cy="188.8" r="1.2"/><circle cx="640.4" cy="189.2" r="1.2"/><circle cx="621.8" cy="199.4" r="1.2"/><circle cx="613.8" cy="193.4" r="1.2"/><circle cx="611.4" cy="188.8" r="1.2"/><circle cx="608.4" cy="184.8" r="1.2"/><circle cx="606.4" cy="181.8" r="1.2"/><circle cx="615.8" cy="175.4" r="1.2"/><circle cx="611" cy="173.2" r="1.2"/><circle cx="606.4" cy="174.4" r="1.2"/><circle cx="603.4" cy="172.8" r="1.2"/><circle cx="605.4" cy="171.2" r="1.2"/><circle cx="603.8" cy="200.8" r="1.2"/><circle cx="606.8" cy="206.8" r="1.2"/><circle cx="590.8" cy="204.4" r="1.2"/><circle cx="592" cy="196.8" r="1.2"/><circle cx="589.8" cy="191.8" r="1.2"/><circle cx="583.4" cy="184.8" r="1.2"/><circle cx="581.4" cy="182.2" r="1.2"/><circle cx="578.4" cy="183.2" r="1.2"/><circle cx="574.4" cy="177.8" r="1.2"/><circle cx="569.4" cy="178.8" r="1.2"/><circle cx="567.4" cy="180.8" r="1.2"/><circle cx="568.8" cy="185.8" r="1.2"/><circle cx="566.8" cy="188.8" r="1.2"/><circle cx="563" cy="187.8" r="1.2"/><circle cx="562.4" cy="175.8" r="1.2"/><circle cx="564.4" cy="172.8" r="1.2"/><circle cx="563" cy="168.8" r="1.2"/><circle cx="565.4" cy="177.8" r="1.2"/><circle cx="572.4" cy="199.8" r="1.2"/><circle cx="573.8" cy="204.4" r="1.2"/><circle cx="571" cy="208.2" r="1.2"/><circle cx="567.4" cy="204.8" r="1.2"/><circle cx="564.4" cy="203.2" r="1.2"/><circle cx="566.4" cy="210.8" r="1.2"/><circle cx="542.4" cy="205.8" r="1.2"/><circle cx="529.8" cy="217.8" r="1.2"/><circle cx="573.4" cy="225.2" r="1.2"/><circle cx="550" cy="196.2" r="1.2"/><circle cx="547.8" cy="192.4" r="1.2"/><circle cx="546.4" cy="190.4" r="1.2"/><circle cx="544.4" cy="189.2" r="1.2"/><circle cx="531.8" cy="187.8" r="1.2"/><circle cx="530.8" cy="189.8" r="1.2"/><circle cx="528.4" cy="192.8" r="1.2"/><circle cx="529.4" cy="197.4" r="1.2"/><circle cx="527.4" cy="198.8" r="1.2"/><circle cx="527.4" cy="190.4" r="1.2"/><circle cx="516.4" cy="183.8" r="1.2"/><circle cx="519.4" cy="185.4" r="1.2"/><circle cx="533.8" cy="179.8" r="1.2"/><circle cx="555.4" cy="183.8" r="1.2"/><circle cx="525.4" cy="171.4" r="1.2"/><circle cx="516.8" cy="167.2" r="1.2"/><circle cx="541.8" cy="165.4" r="1.2"/><circle cx="535.8" cy="164.4" r="1.2"/><circle cx="546.4" cy="168.8" r="1.2"/><circle cx="547.4" cy="172.8" r="1.2"/><circle cx="551.8" cy="170.8" r="1.2"/><circle cx="545.4" cy="172.4" r="1.2"/><circle cx="517.4" cy="143.8" r="1.2"/><circle cx="519.4" cy="140.8" r="1.2"/><circle cx="524.8" cy="138.8" r="1.2"/><circle cx="529.4" cy="139.8" r="1.2"/><circle cx="534.4" cy="140.8" r="1.2"/><circle cx="534.4" cy="142.8" r="1.2"/><circle cx="537.8" cy="147.8" r="1.2"/><circle cx="541.8" cy="145.8" r="1.2"/><circle cx="544.4" cy="134.8" r="1.2"/><circle cx="546.8" cy="134.2" r="1.2"/><circle cx="550.4" cy="134.8" r="1.2"/><circle cx="545.4" cy="140.8" r="1.2"/><circle cx="516.4" cy="146.4" r="1.2"/><circle cx="522" cy="151.4" r="1.2"/><circle cx="526.4" cy="153.8" r="1.2"/><circle cx="531.4" cy="155.2" r="1.2"/><circle cx="538.4" cy="156.8" r="1.2"/><circle cx="540.4" cy="157.8" r="1.2"/><circle cx="536.8" cy="155.2" r="1.2"/><circle cx="544.4" cy="155.8" r="1.2"/><circle cx="547.4" cy="153.8" r="1.2"/><circle cx="552.4" cy="156.8" r="1.2"/><circle cx="542.4" cy="151.4" r="1.2"/><circle cx="546.4" cy="151.4" r="1.2"/><circle cx="555.4" cy="133.8" r="1.2"/><circle cx="560.8" cy="132.8" r="1.2"/><circle cx="565.4" cy="133.4" r="1.2"/><circle cx="569.4" cy="135.8" r="1.2"/><circle cx="571.4" cy="136.2" r="1.2"/><circle cx="564" cy="140.8" r="1.2"/><circle cx="569.4" cy="143.2" r="1.2"/><circle cx="571" cy="144.8" r="1.2"/><circle cx="572.8" cy="147.4" r="1.2"/><circle cx="577" cy="138.8" r="1.2"/><circle cx="578.4" cy="141.8" r="1.2"/><circle cx="583.4" cy="133.8" r="1.2"/><circle cx="588.8" cy="134.8" r="1.2"/><circle cx="591.4" cy="132.8" r="1.2"/><circle cx="592.8" cy="138.8" r="1.2"/><circle cx="585.8" cy="141.8" r="1.2"/><circle cx="580.4" cy="148.8" r="1.2"/><circle cx="578.4" cy="150.2" r="1.2"/><circle cx="584.4" cy="150.8" r="1.2"/><circle cx="589.4" cy="149.8" r="1.2"/><circle cx="593.8" cy="148.8" r="1.2"/><circle cx="600" cy="139.8" r="1.2"/><circle cx="601.4" cy="140.8" r="1.2"/><circle cx="604.8" cy="135.8" r="1.2"/><circle cx="610.4" cy="135.4" r="1.2"/><circle cx="610.8" cy="138.8" r="1.2"/><circle cx="609.8" cy="143.8" r="1.2"/><circle cx="610.4" cy="147.8" r="1.2"/><circle cx="603.4" cy="147.8" r="1.2"/><circle cx="600.8" cy="156.8" r="1.2"/><circle cx="599" cy="157.4" r="1.2"/><circle cx="608.4" cy="155.8" r="1.2"/><circle cx="595.4" cy="161.2" r="1.2"/><circle cx="591" cy="165.4" r="1.2"/><circle cx="584.4" cy="163.8" r="1.2"/><circle cx="572.4" cy="166.8" r="1.2"/><circle cx="567" cy="157.4" r="1.2"/><circle cx="563.4" cy="158.8" r="1.2"/><circle cx="564.4" cy="163.4" r="1.2"/><circle cx="562.4" cy="151.4" r="1.2"/><circle cx="566.8" cy="153.2" r="1.2"/><circle cx="574" cy="151.8" r="1.2"/><circle cx="558.8" cy="154.8" r="1.2"/><circle cx="556.8" cy="161.8" r="1.2"/><circle cx="597.4" cy="181.8" r="1.2"/><circle cx="596.8" cy="189.8" r="1.2"/><circle cx="591.4" cy="190.8" r="1.2"/><circle cx="583.4" cy="189.8" r="1.2"/><circle cx="479.4" cy="141.3" r="1.2"/><circle cx="446" cy="173.3" r="1.2"/><circle cx="470.6" cy="135.1" r="1.2"/><circle cx="471.7" cy="177.2" r="1.2"/><circle cx="446.5" cy="161" r="1.2"/><circle cx="483.4" cy="160.4" r="1.2"/><circle cx="455.3" cy="163.5" r="1.2"/><circle cx="466.7" cy="171" r="1.2"/><circle cx="463.1" cy="156.4" r="1.2"/><circle cx="498.1" cy="161.1" r="1.2"/><circle cx="483.7" cy="175.1" r="1.2"/><circle cx="481.4" cy="157.9" r="1.2"/><circle cx="451.6" cy="160.6" r="1.2"/><circle cx="482.3" cy="164.9" r="1.2"/><circle cx="485" cy="138.2" r="1.2"/><circle cx="497.7" cy="136.8" r="1.2"/><circle cx="436" cy="155.2" r="1.2"/><circle cx="448.6" cy="146.5" r="1.2"/><circle cx="464.7" cy="156.9" r="1.2"/><circle cx="473" cy="168.7" r="1.2"/><circle cx="465.2" cy="170.6" r="1.2"/><circle cx="507.6" cy="166.8" r="1.2"/><circle cx="463.5" cy="185.7" r="1.2"/><circle cx="431.6" cy="172.3" r="1.2"/><circle cx="480.2" cy="149" r="1.2"/><circle cx="469.2" cy="169.4" r="1.2"/><circle cx="502.7" cy="175" r="1.2"/><circle cx="445" cy="153.1" r="1.2"/><circle cx="441.9" cy="156.3" r="1.2"/><circle cx="483.9" cy="161.1" r="1.2"/><circle cx="471.9" cy="159.6" r="1.2"/><circle cx="448.8" cy="206.1" r="1.2"/><circle cx="437.1" cy="160.3" r="1.2"/><circle cx="428.1" cy="168.3" r="1.2"/><circle cx="467.6" cy="140.8" r="1.2"/><circle cx="433.9" cy="167.8" r="1.2"/><circle cx="468" cy="152.5" r="1.2"/><circle cx="433.6" cy="133.2" r="1.2"/><circle cx="445.7" cy="144.3" r="1.2"/><circle cx="458.9" cy="154.2" r="1.2"/><circle cx="577.3" cy="160.7" r="1.2"/><circle cx="644" cy="150.7" r="1.2"/><circle cx="570.2" cy="151.7" r="1.2"/><circle cx="554.1" cy="169.6" r="1.2"/><circle cx="577.9" cy="165.4" r="1.2"/><circle cx="584.3" cy="161.8" r="1.2"/><circle cx="525.1" cy="178.9" r="1.2"/><circle cx="546.3" cy="189.3" r="1.2"/><circle cx="564" cy="163" r="1.2"/><circle cx="587.1" cy="171.9" r="1.2"/><circle cx="560.5" cy="149.7" r="1.2"/><circle cx="582.6" cy="174.4" r="1.2"/><circle cx="600.5" cy="168.2" r="1.2"/><circle cx="593.1" cy="163.2" r="1.2"/><circle cx="556.3" cy="177.8" r="1.2"/><circle cx="562.9" cy="121.7" r="1.2"/><circle cx="551.3" cy="134.8" r="1.2"/><circle cx="596.1" cy="164.6" r="1.2"/><circle cx="591.2" cy="137.1" r="1.2"/><circle cx="558.9" cy="166.8" r="1.2"/><circle cx="591.3" cy="153.1" r="1.2"/><circle cx="614.3" cy="151.8" r="1.2"/><circle cx="539.6" cy="159.3" r="1.2"/><circle cx="538.8" cy="146.9" r="1.2"/><circle cx="581.9" cy="164.9" r="1.2"/><circle cx="545.6" cy="144.7" r="1.2"/><circle cx="557.2" cy="139.6" r="1.2"/><circle cx="543.4" cy="162.8" r="1.2"/><circle cx="553.4" cy="174.6" r="1.2"/><circle cx="628" cy="132.5" r="1.2"/><circle cx="551.5" cy="146.2" r="1.2"/><circle cx="524.7" cy="139.1" r="1.2"/><circle cx="590.7" cy="163.8" r="1.2"/><circle cx="557.8" cy="154.7" r="1.2"/><circle cx="576.3" cy="164.1" r="1.2"/><circle cx="546.5" cy="162.5" r="1.2"/><circle cx="556.1" cy="146.4" r="1.2"/><circle cx="568" cy="154.8" r="1.2"/><circle cx="528" cy="164.4" r="1.2"/><circle cx="557" cy="166.5" r="1.2"/><circle cx="563.3" cy="163.1" r="1.2"/><circle cx="531.2" cy="143.9" r="1.2"/><circle cx="587.1" cy="166.4" r="1.2"/><circle cx="580.4" cy="172.8" r="1.2"/><circle cx="537.3" cy="161.5" r="1.2"/><circle cx="558.1" cy="110.3" r="1.2"/><circle cx="523" cy="92.5" r="1.2"/><circle cx="500.1" cy="99" r="1.2"/><circle cx="506.9" cy="89" r="1.2"/><circle cx="524.2" cy="65.6" r="1.2"/><circle cx="520.6" cy="64.1" r="1.2"/><circle cx="524.8" cy="85.5" r="1.2"/><circle cx="511.9" cy="108.3" r="1.2"/><circle cx="485.9" cy="89.7" r="1.2"/><circle cx="512.7" cy="81.3" r="1.2"/><circle cx="522" cy="114.5" r="1.2"/><circle cx="502.3" cy="111.5" r="1.2"/><circle cx="534.6" cy="90.6" r="1.2"/><circle cx="518" cy="107.1" r="1.2"/><circle cx="491.6" cy="100.5" r="1.2"/><circle cx="513.7" cy="78.7" r="1.2"/><circle cx="487" cy="81.5" r="1.2"/><circle cx="499.4" cy="99.3" r="1.2"/><circle cx="509.3" cy="97.3" r="1.2"/><circle cx="524.1" cy="70.2" r="1.2"/><circle cx="521.9" cy="99.7" r="1.2"/><circle cx="523.3" cy="80.6" r="1.2"/><circle cx="531.7" cy="82.9" r="1.2"/><circle cx="485.2" cy="104.2" r="1.2"/><circle cx="508" cy="69.2" r="1.2"/><circle cx="513" cy="69.5" r="1.2"/><circle cx="521" cy="113.1" r="1.2"/><circle cx="516.3" cy="76.9" r="1.2"/><circle cx="523.1" cy="119.2" r="1.2"/><circle cx="523.5" cy="100.6" r="1.2"/><circle cx="475.9" cy="100.3" r="1.2"/><circle cx="478.5" cy="114.9" r="1.2"/><circle cx="542.5" cy="37.3" r="1.2"/><circle cx="535.4" cy="79.4" r="1.2"/><circle cx="551.1" cy="81.3" r="1.2"/><circle cx="497.1" cy="139.4" r="1.2"/><circle cx="532.5" cy="135.3" r="1.2"/><circle cx="461.7" cy="102" r="1.2"/><circle cx="516.7" cy="106.4" r="1.2"/><circle cx="535.1" cy="90.2" r="1.2"/></g>
<path class="g" style="stroke-width:0.9" d="M483 63.9L515.4 63.9M497.6 60.3L509.6 60.3M507.4 53.7L509.8 53.7M500 100.7H505V82.3H500ZM503 76.7L503 82.3M488.8 97.1L515.4 97.1M494 103.7L510.4 103.7M497.6 107.7L504.8 107.7M500 100.7L500 109.3M486.8 105.7L486.8 115.7M490.4 102.7L490.4 118.7M492 107.7L492 121.7M471 117.1L494 117.1M486.4 114.3L496.4 114.3M462.4 120.9L511 120.9M459 120.1L459 123.8M500 127.4H515.4V123.4H500ZM442.6 132.2L458.4 132.2M507 127.8L507 132.8M513.4 85.7L513.4 91.7M517.4 44.9L527.6 44.9M520 52.5L543.4 52.5M515.4 59.5L525.4 59.5M515.4 60.7L525.4 60.7M521.4 56.5L529.4 56.5M534.4 61.5L553.8 61.5M555.6 53.3L555.6 76.3M514.4 66.7L529.4 66.7M532 84.3H544V68.7H532ZM535.6 82.7H540V73.7H535.6ZM532 84.3L532 92.7M524.8 72.7L524.8 92.7M523.4 69.3L523.4 72.7M519.4 78.7L519.4 118.7M516.4 80.7L516.4 108.7M514.4 78.1L524.4 78.1M514.4 85.1L524.4 85.1M520.4 92.7L535.4 92.7M513.4 107.7H518.8V95.7H513.4ZM525.4 99.1L538.4 99.1M524.4 92.7L524.4 110.7M523.4 110.7L528.4 110.7M520.4 103.3L524.4 103.3M551.4 87.7L559.4 87.7M546 91.9L557.4 91.9M546 92.5L556.4 92.5M571 92.7L571 106.7M551.6 102.1L551.6 112.1M547.6 113.7L547.6 121.7M558.8 120.8L562.4 120.8M558.8 120.8L558.8 123.8M582.4 127L603.8 127M516.4 129.4L539.4 129.4M507 127.4L507 134.8M418.4 134.8L418.4 157.8M419.4 134.8L419.4 157.8M420.2 134.8L420.2 157.8M426.4 134.8L426.4 158.8M435 134.8L435 170.8M438.4 134.8L438.4 168.8M443.4 138.8L443.4 151.8M446.8 134.8L446.8 147.8M452.4 135.8L452.4 148.8M426 151.8L450.4 151.8M464.8 141.2H475.8V134.4H464.8ZM466.8 139.4L499.4 139.4M466.8 140.8L499.4 140.8M457.4 147.4L466.4 147.4M457.4 147.4L457.4 151.8M454 151.8L454 166.8M466.8 141.8L466.8 149.8M464.8 144.8L481.4 144.8M476.8 136.8L476.8 150.8M402.8 165.2H432.4V161.4H402.8ZM406.8 150.8L406.8 161.8M418.4 157.8L418.4 176.8M441.8 164.8L441.8 172.8M446.8 186H463.4V169.4H446.8ZM465.8 170.8L465.8 193.8M429 200.2H517.8V177.4H429ZM478.8 185.4H498.8V178.2H478.8ZM451.4 184.4L462.4 184.4M448.4 193.8L513.4 193.8M450.4 204.2L461.8 204.2M454.4 212.4L471 212.4M461.4 161.8L493.4 161.8M465.4 162.4L493.4 162.4M475.4 158.8L497.4 158.8M473.4 158.8L473.4 167.8M494.4 151.8L494.4 158.8M481.4 149.8L498.4 149.8M489.4 153.8L497.4 153.8M490.4 172.4L512.4 172.4M481.4 173.4L488 173.4M506.4 145.8L506.4 150.8M509.4 148.8L509.4 153.8M513.4 153.8L513.4 157.8M497.4 175.8L515.4 175.8M634 134.4L634 180.4M628 138.8L628 161.8M627.4 142.8L627.4 152.8M613.8 155.8L613.8 178.4M605 155.4L605 167.8M608.4 156.8L608.4 168.8M575.4 158.2H596V146.8H575.4ZM587.4 140.8L587.4 170.8M595.4 136.8L595.4 175.8M591.4 153.8L591.4 168.8M566.8 172.4L594.4 172.4M566.8 173.8L594.4 173.8M574.4 179.2L597.4 179.2M587.4 184.4L598 184.4M578.4 190L600.8 190M578.4 190.8L600.8 190.8M519.4 153.2H561.4V149.4H519.4ZM561.4 151.4L575.4 151.4M525.4 158.8H534.4V148.8H525.4ZM528.8 153.8L528.8 162.8M529.4 161.4L546.4 161.4M529.4 162.2L546.4 162.2M518.8 134.8L518.8 141.8M517.4 154.8L517.4 167.8M517.4 167.2L529.4 167.2M551.4 133.8L551.4 156.8M556.4 133.8L556.4 148.8M553.4 137.4L564.4 137.4M560 135.8L560 141.8M555.8 156.8L555.8 168.8M560.8 145.8L560.8 176.8M558.8 158.8L558.8 200.8M537.4 176.8L553.4 176.8M537.4 180.4L552.4 180.4M527.4 183.2L535.4 183.2M555.8 187.8L561.4 187.8M555.8 196.2L568.8 196.2M578.4 161.8L578.4 168.8M582.4 161.8L582.4 168.8M571.4 162.4L583.4 162.4"/>
<use href="#dots-b" opacity=".5"/>
<rect x="515.7" y="75.1" width="11.4" height="8.8" rx="1.6" class="r" stroke-width="2.4"/><rect x="452.6" y="154.9" width="13.6" height="10.2" rx="1.6" class="r" stroke-width="2.4"/><rect x="562.5" y="155.4" width="12.3" height="9.7" rx="1.6" class="r" stroke-width="2.4"/>
<path class="ax" d="M378.1 15.3V226H650.1M378.1 226v-2.4M432.5 226v-2.4M486.9 226v-2.4M541.3 226v-2.4M595.7 226v-2.4M650.1 226v-2.4M378.1 226h1.6M378.1 204.9h1.6M378.1 183.9h1.6M378.1 162.8h1.6M378.1 141.7h1.6M378.1 120.7h1.6M378.1 99.6h1.6M378.1 78.5h1.6M378.1 57.4h1.6M378.1 36.4h1.6M378.1 15.3h1.6"/>
<text class="tk" text-anchor="middle" style="font-size:8.8px" x="378.1" y="238.2">0</text><text class="tk" text-anchor="middle" style="font-size:8.8px" x="432.5" y="238.2">1</text><text class="tk" text-anchor="middle" style="font-size:8.8px" x="486.9" y="238.2">2</text><text class="tk" text-anchor="middle" style="font-size:8.8px" x="541.3" y="238.2">3</text><text class="tk" text-anchor="middle" style="font-size:8.8px" x="595.7" y="238.2">4</text><text class="tk" text-anchor="middle" style="font-size:8.8px" x="650.1" y="238.2">5</text><text class="tk" text-anchor="end" style="font-size:8.8px" x="375.5" y="230.2">0</text><text class="tk" text-anchor="end" style="font-size:8.8px" x="375.5" y="209.1">0.5</text><text class="tk" text-anchor="end" style="font-size:8.8px" x="375.5" y="188">1</text><text class="tk" text-anchor="end" style="font-size:8.8px" x="375.5" y="167">1.5</text><text class="tk" text-anchor="end" style="font-size:8.8px" x="375.5" y="145.9">2</text><text class="tk" text-anchor="end" style="font-size:8.8px" x="375.5" y="124.8">2.5</text><text class="tk" text-anchor="end" style="font-size:8.8px" x="375.5" y="103.7">3</text><text class="tk" text-anchor="end" style="font-size:8.8px" x="375.5" y="82.7">3.5</text><text class="tk" text-anchor="end" style="font-size:8.8px" x="375.5" y="61.6">4</text><text class="tk" text-anchor="end" style="font-size:8.8px" x="375.5" y="40.5">4.5</text><text class="tk" text-anchor="end" style="font-size:8.8px" x="375.5" y="19.5">5</text>
<text class="ti" text-anchor="middle" style="font-size:12.4px" x="514.4" y="11.7">Optimization of cluster centers</text>
<text class="al" text-anchor="middle" style="font-size:12.6px" x="513.5" y="253.4">X1</text>
<text class="al" text-anchor="middle" style="font-size:12.8px" transform="translate(356.5 121) rotate(-90)">X2</text>
<text class="cp" text-anchor="middle" x="514.6" y="272.8">(b)</text>
<rect x="510.8" y="20" width="169.7" height="12.3" fill="#fff" stroke="#8a8a8a" stroke-width=".7"/><path d="M513.7 26.1H538.4" stroke="#e8232b" stroke-width="2.3"/><text class="lg" style="font-size:8.3px" x="541" y="28.9">Optimized granular clustering centers</text>
</g>
<g id="panel-c">
<g class="d" id="dots-c"><circle cx="166" cy="342.9" r="1.2"/><circle cx="164.1" cy="344.5" r="1.2"/><circle cx="170.7" cy="345.4" r="1.2"/><circle cx="176.4" cy="343.2" r="1.2"/><circle cx="172.6" cy="352.9" r="1.2"/><circle cx="182" cy="355.5" r="1.2"/><circle cx="185.4" cy="355.8" r="1.2"/><circle cx="162.6" cy="358.2" r="1.2"/><circle cx="152.2" cy="359" r="1.2"/><circle cx="154" cy="359.5" r="1.2"/><circle cx="181" cy="359.9" r="1.2"/><circle cx="181.7" cy="364.6" r="1.2"/><circle cx="160.3" cy="366.8" r="1.2"/><circle cx="180" cy="367.4" r="1.2"/><circle cx="182" cy="368.9" r="1.2"/><circle cx="173.1" cy="369.6" r="1.2"/><circle cx="148.6" cy="371.8" r="1.2"/><circle cx="144.6" cy="372.4" r="1.2"/><circle cx="154.7" cy="373.3" r="1.2"/><circle cx="164.7" cy="373" r="1.2"/><circle cx="158.4" cy="376.8" r="1.2"/><circle cx="162.8" cy="375.9" r="1.2"/><circle cx="166.6" cy="376.8" r="1.2"/><circle cx="151.5" cy="376.8" r="1.2"/><circle cx="150.3" cy="379.3" r="1.2"/><circle cx="187.9" cy="371.2" r="1.2"/><circle cx="188.2" cy="373.7" r="1.2"/><circle cx="186.7" cy="377.7" r="1.2"/><circle cx="185.4" cy="379.9" r="1.2"/><circle cx="206.4" cy="356.1" r="1.2"/><circle cx="212.4" cy="358.8" r="1.2"/><circle cx="194.8" cy="363" r="1.2"/><circle cx="193.3" cy="366.1" r="1.2"/><circle cx="211.8" cy="371.8" r="1.2"/><circle cx="220.2" cy="375.3" r="1.2"/><circle cx="201.4" cy="376.2" r="1.2"/><circle cx="203.9" cy="378.7" r="1.2"/><circle cx="196.1" cy="376.2" r="1.2"/><circle cx="196.7" cy="380.6" r="1.2"/><circle cx="208" cy="382.7" r="1.2"/><circle cx="212.2" cy="381.8" r="1.2"/><circle cx="224.7" cy="383.7" r="1.2"/><circle cx="224" cy="388.7" r="1.2"/><circle cx="203" cy="385" r="1.2"/><circle cx="205.5" cy="386.8" r="1.2"/><circle cx="206.1" cy="389.4" r="1.2"/><circle cx="208.9" cy="390.9" r="1.2"/><circle cx="198.9" cy="386.2" r="1.2"/><circle cx="194.8" cy="387.5" r="1.2"/><circle cx="184.6" cy="391.6" r="1.2"/><circle cx="154" cy="390" r="1.2"/><circle cx="157.8" cy="394.4" r="1.2"/><circle cx="156.6" cy="395" r="1.2"/><circle cx="170.7" cy="396.5" r="1.2"/><circle cx="145.3" cy="393.8" r="1.2"/><circle cx="198" cy="395.9" r="1.2"/><circle cx="204.6" cy="397.5" r="1.2"/><circle cx="214.7" cy="395" r="1.2"/><circle cx="217.2" cy="401.3" r="1.2"/><circle cx="201.1" cy="401.9" r="1.2"/><circle cx="187.3" cy="401.9" r="1.2"/><circle cx="176" cy="402.5" r="1.2"/><circle cx="181.7" cy="404.4" r="1.2"/><circle cx="184.8" cy="405.7" r="1.2"/><circle cx="170.4" cy="405.1" r="1.2"/><circle cx="179.2" cy="408.2" r="1.2"/><circle cx="210.9" cy="404.4" r="1.2"/><circle cx="206.4" cy="408.4" r="1.2"/><circle cx="224" cy="404.7" r="1.2"/><circle cx="229.4" cy="398.8" r="1.2"/><circle cx="135.5" cy="366.5" r="1.2"/><circle cx="137.7" cy="367.4" r="1.2"/><circle cx="115.8" cy="371.9" r="1.2"/><circle cx="143.8" cy="372.4" r="1.2"/><circle cx="132.7" cy="377.1" r="1.2"/><circle cx="140" cy="377.4" r="1.2"/><circle cx="135.8" cy="382.7" r="1.2"/><circle cx="138.7" cy="383.1" r="1.2"/><circle cx="135.6" cy="387.9" r="1.2"/><circle cx="141.2" cy="388.1" r="1.2"/><circle cx="105.1" cy="388.4" r="1.2"/><circle cx="113" cy="390" r="1.2"/><circle cx="116.8" cy="391.9" r="1.2"/><circle cx="126.2" cy="394.1" r="1.2"/><circle cx="128.4" cy="396.6" r="1.2"/><circle cx="122.9" cy="398.8" r="1.2"/><circle cx="138.1" cy="402.2" r="1.2"/><circle cx="127.1" cy="410.7" r="1.2"/><circle cx="237.8" cy="405.3" r="1.2"/><circle cx="246.9" cy="406.9" r="1.2"/><circle cx="127.1" cy="411.6" r="1.2"/><circle cx="139.4" cy="417.5" r="1.2"/><circle cx="104.8" cy="419.2" r="1.2"/><circle cx="109.1" cy="422.5" r="1.2"/><circle cx="113.6" cy="424.2" r="1.2"/><circle cx="120.1" cy="426.1" r="1.2"/><circle cx="121.2" cy="427.1" r="1.2"/><circle cx="123.3" cy="425.2" r="1.2"/><circle cx="101.3" cy="429.6" r="1.2"/><circle cx="115.4" cy="429" r="1.2"/><circle cx="108.8" cy="433.9" r="1.2"/><circle cx="136.7" cy="433.6" r="1.2"/><circle cx="103.8" cy="439.2" r="1.2"/><circle cx="64" cy="441.8" r="1.2"/><circle cx="82.7" cy="443.6" r="1.2"/><circle cx="58.6" cy="447.4" r="1.2"/><circle cx="126.4" cy="443" r="1.2"/><circle cx="131.4" cy="444.3" r="1.2"/><circle cx="140.2" cy="443" r="1.2"/><circle cx="123.3" cy="445.1" r="1.2"/><circle cx="106.1" cy="447.8" r="1.2"/><circle cx="109.5" cy="446.8" r="1.2"/><circle cx="118" cy="447.4" r="1.2"/><circle cx="79" cy="451.2" r="1.2"/><circle cx="82.5" cy="452.4" r="1.2"/><circle cx="83.1" cy="453.7" r="1.2"/><circle cx="99.4" cy="451.2" r="1.2"/><circle cx="110.5" cy="453.7" r="1.2"/><circle cx="112.2" cy="453.1" r="1.2"/><circle cx="119.8" cy="453.7" r="1.2"/><circle cx="125.8" cy="455.3" r="1.2"/><circle cx="63.7" cy="455.6" r="1.2"/><circle cx="68.9" cy="456.8" r="1.2"/><circle cx="80.6" cy="456.6" r="1.2"/><circle cx="88.1" cy="457.1" r="1.2"/><circle cx="59.6" cy="458.7" r="1.2"/><circle cx="61.4" cy="462.5" r="1.2"/><circle cx="65.9" cy="462.7" r="1.2"/><circle cx="73.4" cy="463.1" r="1.2"/><circle cx="96.7" cy="458.7" r="1.2"/><circle cx="101.3" cy="458.1" r="1.2"/><circle cx="103.8" cy="459" r="1.2"/><circle cx="98.8" cy="461.6" r="1.2"/><circle cx="112" cy="460" r="1.2"/><circle cx="117" cy="459" r="1.2"/><circle cx="114.2" cy="462.5" r="1.2"/><circle cx="117.4" cy="461.8" r="1.2"/><circle cx="126.2" cy="462.9" r="1.2"/><circle cx="114.5" cy="464.6" r="1.2"/><circle cx="93.2" cy="465" r="1.2"/><circle cx="90" cy="468.1" r="1.2"/><circle cx="78.1" cy="468.8" r="1.2"/><circle cx="75.6" cy="471.6" r="1.2"/><circle cx="76.8" cy="473.4" r="1.2"/><circle cx="79" cy="469.8" r="1.2"/><circle cx="60.8" cy="470.6" r="1.2"/><circle cx="83.7" cy="475" r="1.2"/><circle cx="83.1" cy="476.9" r="1.2"/><circle cx="79.7" cy="480.4" r="1.2"/><circle cx="97.3" cy="477.5" r="1.2"/><circle cx="99.4" cy="479.2" r="1.2"/><circle cx="108.8" cy="480.1" r="1.2"/><circle cx="115.1" cy="475.9" r="1.2"/><circle cx="116.1" cy="479.2" r="1.2"/><circle cx="119.9" cy="478.4" r="1.2"/><circle cx="126.2" cy="477.5" r="1.2"/><circle cx="130.6" cy="479.4" r="1.2"/><circle cx="122.4" cy="483.2" r="1.2"/><circle cx="124.9" cy="483.2" r="1.2"/><circle cx="88.1" cy="485.1" r="1.2"/><circle cx="140.9" cy="465" r="1.2"/><circle cx="110.1" cy="467.5" r="1.2"/><circle cx="101.9" cy="468.1" r="1.2"/><circle cx="160.3" cy="412.9" r="1.2"/><circle cx="146.8" cy="414.8" r="1.2"/><circle cx="176.4" cy="413.5" r="1.2"/><circle cx="187.3" cy="412.9" r="1.2"/><circle cx="213.4" cy="414.4" r="1.2"/><circle cx="219" cy="415.6" r="1.2"/><circle cx="174.5" cy="419.8" r="1.2"/><circle cx="181.7" cy="419.2" r="1.2"/><circle cx="154.7" cy="424.2" r="1.2"/><circle cx="158.7" cy="423.2" r="1.2"/><circle cx="169.1" cy="424.2" r="1.2"/><circle cx="206.8" cy="421" r="1.2"/><circle cx="208" cy="422.3" r="1.2"/><circle cx="146.8" cy="427.7" r="1.2"/><circle cx="171" cy="429.2" r="1.2"/><circle cx="177.3" cy="430.5" r="1.2"/><circle cx="226.5" cy="427.7" r="1.2"/><circle cx="214.3" cy="429.8" r="1.2"/><circle cx="213.1" cy="431.1" r="1.2"/><circle cx="184.8" cy="433.6" r="1.2"/><circle cx="189.8" cy="428.6" r="1.2"/><circle cx="201.1" cy="427.3" r="1.2"/><circle cx="218.1" cy="434.2" r="1.2"/><circle cx="165" cy="438" r="1.2"/><circle cx="172.5" cy="438" r="1.2"/><circle cx="177.3" cy="436.7" r="1.2"/><circle cx="187.3" cy="438.6" r="1.2"/><circle cx="201.4" cy="437.7" r="1.2"/><circle cx="219" cy="438.6" r="1.2"/><circle cx="226" cy="441.5" r="1.2"/><circle cx="219.7" cy="443" r="1.2"/><circle cx="209.9" cy="441.8" r="1.2"/><circle cx="171" cy="442.4" r="1.2"/><circle cx="177.9" cy="443" r="1.2"/><circle cx="148.6" cy="442.4" r="1.2"/><circle cx="205.5" cy="444.9" r="1.2"/><circle cx="203" cy="446.8" r="1.2"/><circle cx="209.9" cy="445.9" r="1.2"/><circle cx="150.9" cy="447.8" r="1.2"/><circle cx="179.8" cy="448.3" r="1.2"/><circle cx="184.8" cy="449.7" r="1.2"/><circle cx="176.3" cy="451.6" r="1.2"/><circle cx="193" cy="451.8" r="1.2"/><circle cx="157.2" cy="452.4" r="1.2"/><circle cx="189.2" cy="454.3" r="1.2"/><circle cx="187.9" cy="455.2" r="1.2"/><circle cx="151.2" cy="456.8" r="1.2"/><circle cx="145.6" cy="455.6" r="1.2"/><circle cx="197" cy="459.1" r="1.2"/><circle cx="209.9" cy="458.1" r="1.2"/><circle cx="227.2" cy="454.9" r="1.2"/><circle cx="229.4" cy="458.1" r="1.2"/><circle cx="146.5" cy="462.5" r="1.2"/><circle cx="177" cy="462.1" r="1.2"/><circle cx="151.5" cy="464.6" r="1.2"/><circle cx="215.6" cy="462.9" r="1.2"/><circle cx="217.2" cy="465" r="1.2"/><circle cx="222.5" cy="463.7" r="1.2"/><circle cx="164.1" cy="466.2" r="1.2"/><circle cx="193.3" cy="466.2" r="1.2"/><circle cx="206.1" cy="465.9" r="1.2"/><circle cx="146.5" cy="470" r="1.2"/><circle cx="151.5" cy="468.1" r="1.2"/><circle cx="154" cy="469.6" r="1.2"/><circle cx="170" cy="468.8" r="1.2"/><circle cx="177.9" cy="468.1" r="1.2"/><circle cx="162.8" cy="471.3" r="1.2"/><circle cx="178.3" cy="471.3" r="1.2"/><circle cx="176.3" cy="472.9" r="1.2"/><circle cx="173.5" cy="473.8" r="1.2"/><circle cx="197.1" cy="468.8" r="1.2"/><circle cx="208.9" cy="472.5" r="1.2"/><circle cx="213.1" cy="473.1" r="1.2"/><circle cx="188.3" cy="475.9" r="1.2"/><circle cx="194.2" cy="475.4" r="1.2"/><circle cx="216.6" cy="476.7" r="1.2"/><circle cx="221.5" cy="475.7" r="1.2"/><circle cx="177" cy="478.8" r="1.2"/><circle cx="154" cy="480.4" r="1.2"/><circle cx="154.7" cy="484.2" r="1.2"/><circle cx="166.6" cy="484.2" r="1.2"/><circle cx="222.5" cy="483.2" r="1.2"/><circle cx="242.6" cy="411.6" r="1.2"/><circle cx="237.9" cy="419.8" r="1.2"/><circle cx="256.1" cy="423.6" r="1.2"/><circle cx="230.6" cy="429.6" r="1.2"/><circle cx="235.7" cy="436.7" r="1.2"/><circle cx="254.7" cy="436.1" r="1.2"/><circle cx="241.9" cy="444.9" r="1.2"/><circle cx="246.9" cy="445.5" r="1.2"/><circle cx="249.8" cy="443.9" r="1.2"/><circle cx="235.3" cy="449.9" r="1.2"/><circle cx="257.4" cy="451.2" r="1.2"/><circle cx="259.8" cy="453.3" r="1.2"/><circle cx="248.6" cy="453.7" r="1.2"/><circle cx="267.3" cy="455.6" r="1.2"/><circle cx="271.1" cy="456.4" r="1.2"/><circle cx="234.6" cy="455.8" r="1.2"/><circle cx="258.2" cy="458.5" r="1.2"/><circle cx="276.7" cy="461.8" r="1.2"/><circle cx="236.3" cy="461.2" r="1.2"/><circle cx="249.5" cy="460" r="1.2"/><circle cx="235.7" cy="465.6" r="1.2"/><circle cx="241" cy="465.6" r="1.2"/><circle cx="244.1" cy="466.6" r="1.2"/><circle cx="248.8" cy="464.4" r="1.2"/><circle cx="251.1" cy="465.9" r="1.2"/><circle cx="259.1" cy="465.6" r="1.2"/><circle cx="266.8" cy="466.9" r="1.2"/><circle cx="270.6" cy="468.1" r="1.2"/><circle cx="230.6" cy="470.6" r="1.2"/><circle cx="252.6" cy="471.9" r="1.2"/><circle cx="247.2" cy="470.6" r="1.2"/><circle cx="261.4" cy="474.4" r="1.2"/><circle cx="241.9" cy="475" r="1.2"/><circle cx="266.4" cy="475" r="1.2"/><circle cx="248" cy="476.7" r="1.2"/><circle cx="238.8" cy="478.2" r="1.2"/><circle cx="233.1" cy="483.8" r="1.2"/><circle cx="241.3" cy="485.1" r="1.2"/><circle cx="246.3" cy="481.3" r="1.2"/><circle cx="253.9" cy="483.6" r="1.2"/><circle cx="262.4" cy="482.6" r="1.2"/><circle cx="264.1" cy="483.8" r="1.2"/><circle cx="268.7" cy="483.8" r="1.2"/><circle cx="290.9" cy="484.1" r="1.2"/><circle cx="70.3" cy="488.5" r="1.2"/><circle cx="67.7" cy="491" r="1.2"/><circle cx="66.2" cy="493.2" r="1.2"/><circle cx="77.2" cy="487.9" r="1.2"/><circle cx="85.6" cy="488.8" r="1.2"/><circle cx="88.5" cy="486.4" r="1.2"/><circle cx="91" cy="486.6" r="1.2"/><circle cx="99.8" cy="486.6" r="1.2"/><circle cx="90.4" cy="493.5" r="1.2"/><circle cx="98.6" cy="496.9" r="1.2"/><circle cx="104.2" cy="497.3" r="1.2"/><circle cx="108.6" cy="495.7" r="1.2"/><circle cx="108" cy="499.8" r="1.2"/><circle cx="87.8" cy="505.1" r="1.2"/><circle cx="109.1" cy="504.8" r="1.2"/><circle cx="108.6" cy="505.7" r="1.2"/><circle cx="103.2" cy="509.5" r="1.2"/><circle cx="92.8" cy="513" r="1.2"/><circle cx="83.7" cy="515.9" r="1.2"/><circle cx="102.9" cy="515.1" r="1.2"/><circle cx="77.2" cy="521.4" r="1.2"/><circle cx="90.9" cy="523" r="1.2"/><circle cx="104.8" cy="523.3" r="1.2"/><circle cx="109.9" cy="530.9" r="1.2"/><circle cx="113.9" cy="534.3" r="1.2"/><circle cx="122.4" cy="513" r="1.2"/><circle cx="128.3" cy="518.3" r="1.2"/><circle cx="125.5" cy="525.5" r="1.2"/><circle cx="133.3" cy="507.3" r="1.2"/><circle cx="135.6" cy="502.3" r="1.2"/><circle cx="138" cy="499.6" r="1.2"/><circle cx="128.3" cy="498.6" r="1.2"/><circle cx="127.9" cy="495.8" r="1.2"/><circle cx="125.4" cy="494.2" r="1.2"/><circle cx="121.4" cy="496.7" r="1.2"/><circle cx="120.4" cy="497.3" r="1.2"/><circle cx="116.4" cy="490.1" r="1.2"/><circle cx="117.6" cy="491.6" r="1.2"/><circle cx="122.4" cy="489.8" r="1.2"/><circle cx="127.1" cy="490.4" r="1.2"/><circle cx="138.4" cy="495" r="1.2"/><circle cx="142.1" cy="516.1" r="1.2"/><circle cx="143.8" cy="498.6" r="1.2"/><circle cx="145.9" cy="491.6" r="1.2"/><circle cx="146.1" cy="494.8" r="1.2"/><circle cx="149" cy="493.9" r="1.2"/><circle cx="153.2" cy="493.9" r="1.2"/><circle cx="157.6" cy="494.2" r="1.2"/><circle cx="144.6" cy="498.6" r="1.2"/><circle cx="154" cy="497.7" r="1.2"/><circle cx="159.3" cy="497.3" r="1.2"/><circle cx="168.2" cy="488.5" r="1.2"/><circle cx="171.6" cy="496.7" r="1.2"/><circle cx="168.5" cy="501.1" r="1.2"/><circle cx="176.4" cy="494.5" r="1.2"/><circle cx="175.8" cy="502.1" r="1.2"/><circle cx="190.1" cy="492.5" r="1.2"/><circle cx="193.3" cy="491" r="1.2"/><circle cx="203.6" cy="490.8" r="1.2"/><circle cx="203.4" cy="495" r="1.2"/><circle cx="210.2" cy="494.5" r="1.2"/><circle cx="213.1" cy="495.2" r="1.2"/><circle cx="210.2" cy="487.9" r="1.2"/><circle cx="222.7" cy="487" r="1.2"/><circle cx="227.5" cy="491.6" r="1.2"/><circle cx="223.1" cy="498.6" r="1.2"/><circle cx="226.5" cy="497.9" r="1.2"/><circle cx="226" cy="501.1" r="1.2"/><circle cx="204.3" cy="500.8" r="1.2"/><circle cx="207.2" cy="502.9" r="1.2"/><circle cx="209" cy="507" r="1.2"/><circle cx="214.3" cy="506.5" r="1.2"/><circle cx="223.3" cy="508" r="1.2"/><circle cx="229.7" cy="510.7" r="1.2"/><circle cx="188.8" cy="508.3" r="1.2"/><circle cx="187.3" cy="509.9" r="1.2"/><circle cx="172.2" cy="511.7" r="1.2"/><circle cx="153.4" cy="508" r="1.2"/><circle cx="154.4" cy="509" r="1.2"/><circle cx="201.8" cy="516.1" r="1.2"/><circle cx="149" cy="522.8" r="1.2"/><circle cx="224.4" cy="520.5" r="1.2"/><circle cx="229.4" cy="519.3" r="1.2"/><circle cx="241.3" cy="486.6" r="1.2"/><circle cx="252" cy="486.6" r="1.2"/><circle cx="263.3" cy="486.4" r="1.2"/><circle cx="234.4" cy="490.6" r="1.2"/><circle cx="240.7" cy="491.6" r="1.2"/><circle cx="245.9" cy="491.3" r="1.2"/><circle cx="241.3" cy="495.2" r="1.2"/><circle cx="246.3" cy="495" r="1.2"/><circle cx="235" cy="493.5" r="1.2"/><circle cx="231" cy="493.8" r="1.2"/><circle cx="255.1" cy="492.7" r="1.2"/><circle cx="264.3" cy="492.7" r="1.2"/><circle cx="267" cy="495.8" r="1.2"/><circle cx="269.2" cy="498.9" r="1.2"/><circle cx="269.5" cy="501.1" r="1.2"/><circle cx="254.5" cy="501.4" r="1.2"/><circle cx="248" cy="502.7" r="1.2"/><circle cx="250.1" cy="507.7" r="1.2"/><circle cx="231" cy="510.7" r="1.2"/><circle cx="248.8" cy="515.1" r="1.2"/><circle cx="264.5" cy="517.1" r="1.2"/><circle cx="279.2" cy="510.1" r="1.2"/><circle cx="285" cy="509" r="1.2"/><circle cx="297.5" cy="500.1" r="1.2"/><circle cx="231.9" cy="535" r="1.2"/><circle cx="279.6" cy="491.6" r="1.2"/><circle cx="43.7" cy="468.2" r="1.2"/><circle cx="46.7" cy="469.9" r="1.2"/><circle cx="117.6" cy="494.7" r="1.2"/><circle cx="153.3" cy="431.9" r="1.2"/><circle cx="135.6" cy="454.7" r="1.2"/><circle cx="152.3" cy="460.6" r="1.2"/><circle cx="143" cy="456.2" r="1.2"/><circle cx="120.9" cy="492.6" r="1.2"/><circle cx="91.1" cy="463" r="1.2"/><circle cx="135.2" cy="472.3" r="1.2"/><circle cx="79.2" cy="475.2" r="1.2"/><circle cx="124.6" cy="485.2" r="1.2"/><circle cx="110.5" cy="443.2" r="1.2"/><circle cx="153.1" cy="461.3" r="1.2"/><circle cx="132" cy="477.9" r="1.2"/><circle cx="118.6" cy="462.6" r="1.2"/><circle cx="108.8" cy="475" r="1.2"/><circle cx="159.3" cy="489.2" r="1.2"/><circle cx="110" cy="448" r="1.2"/><circle cx="133.6" cy="469.5" r="1.2"/><circle cx="109" cy="490.9" r="1.2"/><circle cx="150.4" cy="506.5" r="1.2"/><circle cx="135.3" cy="479.3" r="1.2"/><circle cx="124.1" cy="499.8" r="1.2"/><circle cx="144.1" cy="463.9" r="1.2"/><circle cx="131.8" cy="466.3" r="1.2"/><circle cx="98.4" cy="469.5" r="1.2"/><circle cx="181.7" cy="452.3" r="1.2"/><circle cx="224.8" cy="479" r="1.2"/><circle cx="237.6" cy="484.5" r="1.2"/><circle cx="267.4" cy="463.9" r="1.2"/><circle cx="216" cy="461.4" r="1.2"/><circle cx="191.3" cy="464.3" r="1.2"/><circle cx="239.7" cy="458.7" r="1.2"/><circle cx="229.2" cy="484.7" r="1.2"/><circle cx="224.8" cy="488.4" r="1.2"/><circle cx="222.7" cy="478.8" r="1.2"/><circle cx="201.5" cy="461.1" r="1.2"/><circle cx="262.1" cy="451.8" r="1.2"/><circle cx="210.2" cy="476.1" r="1.2"/><circle cx="197.5" cy="478.2" r="1.2"/><circle cx="221.3" cy="465.1" r="1.2"/><circle cx="208.7" cy="470.7" r="1.2"/><circle cx="192.9" cy="477.6" r="1.2"/><circle cx="246.9" cy="453.9" r="1.2"/><circle cx="229.3" cy="470" r="1.2"/><circle cx="222.8" cy="479.8" r="1.2"/><circle cx="192.3" cy="464.7" r="1.2"/><circle cx="193.7" cy="466.2" r="1.2"/><circle cx="192.1" cy="472.3" r="1.2"/><circle cx="253.3" cy="463.8" r="1.2"/><circle cx="215.2" cy="468.1" r="1.2"/><circle cx="183.8" cy="459.6" r="1.2"/><circle cx="200.3" cy="481.7" r="1.2"/><circle cx="201.7" cy="470.7" r="1.2"/><circle cx="202" cy="479.6" r="1.2"/><circle cx="226.9" cy="469.3" r="1.2"/><circle cx="176.5" cy="418.1" r="1.2"/><circle cx="182.6" cy="377.6" r="1.2"/><circle cx="202.6" cy="391.9" r="1.2"/><circle cx="177" cy="410.2" r="1.2"/><circle cx="168.9" cy="426.4" r="1.2"/><circle cx="150.5" cy="442.5" r="1.2"/><circle cx="193" cy="406" r="1.2"/><circle cx="192.3" cy="434.1" r="1.2"/><circle cx="180.4" cy="405.1" r="1.2"/><circle cx="187.1" cy="409.8" r="1.2"/><circle cx="191.4" cy="384.2" r="1.2"/><circle cx="197.8" cy="447.8" r="1.2"/><circle cx="156.9" cy="375.3" r="1.2"/><circle cx="217.9" cy="393.9" r="1.2"/><circle cx="171.2" cy="379.6" r="1.2"/><circle cx="180" cy="400" r="1.2"/><circle cx="198.3" cy="402.9" r="1.2"/><circle cx="149.3" cy="418.4" r="1.2"/><circle cx="186.6" cy="421.6" r="1.2"/><circle cx="182.7" cy="415.5" r="1.2"/><circle cx="185.5" cy="414.8" r="1.2"/><circle cx="191.3" cy="411.7" r="1.2"/><circle cx="159.2" cy="393.4" r="1.2"/><circle cx="182.5" cy="401.4" r="1.2"/><circle cx="152.3" cy="413.3" r="1.2"/><circle cx="192.3" cy="398.4" r="1.2"/><circle cx="157.5" cy="378.2" r="1.2"/><circle cx="183.6" cy="404.8" r="1.2"/><circle cx="169.4" cy="406.9" r="1.2"/><circle cx="184.7" cy="452.1" r="1.2"/></g>
<path class="g" style="stroke-width:1.05" d="M150.9 343.5L169.1 343.5M150.9 344.2L169.1 344.2M173.5 351.3L179.2 351.3M149.3 354.6L174.8 354.6M149.3 354.6L149.3 379.3M168.5 355.5L174.8 355.5M169.5 361.7L169.5 411.3M177.9 363L184.8 363M198 365.1L224.4 365.1M155.9 366.5L174.8 366.5M155.9 367L174.8 367M150.3 368.4L177.9 368.4M155.9 374.3L174.8 374.3M194.2 369.3L194.2 381.2M196.1 372.4L196.1 382.5M152.2 391.2H166V381.2H152.2ZM152.2 398.8H174.8V388.7H152.2ZM166 379.3L166 411.3M167.9 383.7L167.9 411.3M167 386.2L167 411.3M170.4 377.4L170.4 411.3M172.9 372.4L172.9 386.2M177.3 380.2L196.7 380.2M181.7 382.7L196.7 382.7M175.4 385.6L200.5 385.6M179.2 391L216.2 391M179.2 393.8L215.6 393.8M202.4 388.7L202.4 406.3M199.2 386.2L199.2 406.3M192.3 388.7L192.3 406.3M218.1 387.5L218.1 406.3M222.8 404.4L222.8 411.3M162.2 404.4L208 404.4M149 408.2L185.4 408.2M149.3 390L149.3 408.8M145 378.1L145 411.3M179.2 406.3H199.2V390.6H179.2ZM132.3 383.7L132.3 388.7M231.6 388.1L231.6 411.3M244.8 405.1L244.8 411.3M124.5 412.3L124.5 447.4M126.4 413.5L126.4 447.4M124.5 430.2L144.6 430.2M124.5 430.8L144.6 430.8M119.5 432.3L144.6 432.3M119.5 432.3L119.5 435.5M110.5 429.2L110.5 433.6M132.1 434.9L132.1 443.6M118 447.5L130.2 447.5M118 448L130.2 448M138.4 423.6L138.4 430.5M140.9 419.8L140.9 423.6M58.6 449.9L58.6 473.1M67.4 450.5L67.4 461.2M70.6 449.9L70.6 473.8M72.2 449.9L72.2 477.5M72.2 464.7L94.4 464.7M72.2 465.2L94.4 465.2M82.2 449.9L82.2 470M88.5 449.3L88.5 453.7M94.4 449.3L94.4 463.7M98.8 444.3L98.8 446.8M100.1 448.7L100.1 472.5M103.2 447.4L103.2 463.7M104.7 444.3L104.7 447.4M91.6 473.1H122.7V454.9H91.6ZM94.4 469.4H113.2V460H94.4ZM94.4 469.6L144.6 469.6M101.9 471.3L144.6 471.3M90.6 484.1H112.2V474.8H90.6ZM103.8 473.1L103.8 484.1M127.1 457.5L127.1 466.2M116.4 455.6L116.4 463.7M133.3 447.4L133.3 486.3M135.8 447.4L135.8 486.3M138.4 448.7L138.4 486.3M133.3 448.7L144.6 448.7M132.1 454.9L144.6 454.9M133.3 460.6L144.6 460.6M145 411L145 486.3M149.3 411L149.3 431.1M152.2 416L152.2 446.2M151.5 416L151.5 436.1M144 416L230.6 416M154 419.8L214.3 419.8M172.9 422.9L203 422.9M144 429.8L152.2 429.8M167.6 436.7H170.4V427.3H167.6ZM168 436.4H170V427.7H168ZM151.5 438.6L179.2 438.6M178.5 411L178.5 447.4M177.6 411L177.6 436.1M175.4 411L175.4 426.1M181.7 411L181.7 436.1M192.3 411L192.3 486.3M195.5 429.8L195.5 448.7M189.2 432.3L196.7 432.3M198 418.5L198 447.4M203 411L203 447.4M211.8 416L211.8 471.3M215.6 447.4L215.6 486.3M221.8 411L221.8 486.3M224.4 447.4L224.4 486.3M219.3 438L230.6 438M144 447.2L230.6 447.2M157.2 466.2H174.1V447.4H157.2ZM159.1 463.7H169.7V449.9H159.1ZM159.4 463.4H169.4V450.3H159.4ZM169.1 447.4L169.1 461.2M172.2 447.4L172.2 461.2M179.5 447.4L179.5 456.2M196.7 454.1L208 454.1M196.7 454.6L208 454.6M196.7 451.2L204.3 451.2M199.2 451.2L199.2 470M202.4 454.9L202.4 470M186.7 461.8L204.3 461.8M154 466.2L219.3 466.2M144 468.8L230.6 468.8M156.6 472.5L230.6 472.5M144 474.8L214.3 474.8M169.1 475.3L230.6 475.3M165.3 476.7L214.3 476.7M165.3 477.2L214.3 477.2M162.8 479.4L219.3 479.4M144 482.6L200.5 482.6M181.7 485.1L230.6 485.1M153.4 466.2L153.4 486.3M178.5 466.2L178.5 486.3M189.8 461.2L189.8 486.3M204.3 466.2L204.3 486.3M231.6 411L231.6 447.4M230 419.8L237.5 419.8M244.8 411L244.8 419.8M246.1 439.2L246.1 454.9M261.4 444.3L261.4 447.4M230.6 459.3H239.4V446.8H230.6ZM231.3 458.7H238.8V447.4H231.3ZM240.7 447.4L240.7 461.2M245.7 450.3L271.4 450.3M271.4 450.3L271.4 461.2M253.9 457.5L271.4 457.5M246.9 447.4L246.9 458.7M249.5 447.4L249.5 461.2M268 459.3L268 479.4M273.3 464.4L273.3 473.1M262.9 466.9L262.9 476.3M295.5 456.8L295.5 486.3M231.9 479.4H252.6V469.4H231.9ZM236.3 461.2L236.3 486.3M248.8 458.7L248.8 481.3M230 471.3L241.3 471.3M230 479.4L253.2 479.4M230 436.1L230 447.4M99.4 487.3L144.6 487.3M103.5 486L103.5 489.5M103.2 492.5L144.6 492.5M133.3 486L133.3 497.9M125.2 497.4L141.5 497.4M125.2 497.9L141.5 497.9M134.6 523.4L139.9 523.4M127.1 488.3L144.6 488.3M127.1 488.8L144.6 488.8M174.1 487.6L230.6 487.6M174.1 488.1L230.6 488.1M144 487L164.1 487M144 487.5L164.1 487.5M144 489.8L172.9 489.8M179.2 491.4L230.6 491.4M179.2 491.9L230.6 491.9M179.5 486L179.5 491.6M198.9 486L198.9 495.4M214.7 486L214.7 499.8M219.3 486L219.3 496M167.5 491L167.5 499.8M144 497.3L172.9 497.3M144 493.5L162.8 493.5M174.8 498.6L188.6 498.6M174.8 498.9L226.9 498.9M174.8 499.3L188.6 499.3M213.1 503.3L230.6 503.3M174.1 511.5L218.7 511.5M174.1 529.3L230.6 529.3M237.3 496.4H253.5V476H237.3ZM248.2 491.6L280.2 491.6M230 490.8L236.3 490.8M230 491.3L236.3 491.3M245.7 486L245.7 491M230 503.3L233.8 503.3M230 529.3L249.5 529.3M178.2 331.2L190.8 331.2M151.8 405.6L158.9 405.6M178.5 416.4L178.5 409.7M161.9 409.9L188.1 409.9M168.1 421.8H171.1V402.6H168.1ZM179.3 398.8H182.7V381.4H179.3ZM178.2 425L196.2 425M164.1 416.2L164.1 383.6M168.9 427.7H177V415.3H168.9ZM178.3 432.5L178.3 417.3M173 404.8L180.8 404.8M192.6 417.9L192.6 395.7M175.8 411.5L175.8 379.7M185.5 396.8L185.5 390.9M185.6 385.5L185.6 375.9M189.5 390.8H195V374.6H189.5ZM178.8 413.6L190.9 413.6M173.7 425.5H183.5V419.3H173.7ZM157.7 411.8L174.8 411.8M186.2 424.7H202.6V395.8H186.2ZM186.3 377.9L186.3 368.2M186.3 426.6H199.1V419.5H186.3ZM188.1 413.5L188.1 402.1M162.2 426.4H169.1V401.6H162.2ZM167.8 389.1H191V367.4H167.8ZM133.5 469.2L146.1 469.2M94.3 479.1H117.3V474.3H94.3ZM146.5 468.4L146.5 458.8M114.5 475.2H144.2V463.7H114.5ZM122.1 464L144 464M119.7 472.8H146.8V463.4H119.7ZM99.5 475.7L115.1 475.7M94.6 461.4H117.9V457.3H94.6ZM96.5 467.3H123.4V456H96.5ZM206.1 466.2H229.6V448.5H206.1ZM214.7 473H226V457.5H214.7ZM208.4 475.9L208.4 465.9M217.1 473.1L217.1 468.3M229.9 491.6L229.9 475.7M222.6 481.4L222.6 470.4M196.2 478.2H211.2V468.2H196.2ZM199.3 479.5L224.5 479.5M204.5 473.9H215.3V462.2H204.5ZM190.2 469.3H206.1V464.8H190.2ZM215 468.2H225.6V459.5H215ZM196.2 494L196.2 478.7M214.4 468.6L241.2 468.6M228.1 471.9L228.1 453.5M214.1 465.3H234.9V452.3H214.1ZM210.6 477.2L223.8 477.2M224.4 466L231.6 466M206.4 474.6H223.5V466.3H206.4ZM185.2 420.3L185.2 402.5M211.1 456.5L211.1 439.7M181 452.5L181 410.7M190.4 446.8H205.1V412.6H190.4ZM190.8 435.9L190.8 413.9M180.7 432.3L180.7 410.6M204.5 443.5L204.5 403.2M190.3 452.3L190.3 432.6M207.5 425.6L213.8 425.6M202.4 451.3L202.4 429.8M187.7 455.4H200.4V408.6H187.7ZM219.4 457.3L219.4 409.3M189.5 427.7L197.4 427.7M184.9 416L184.9 400.4"/>
<use href="#dots-c" opacity=".5"/>
<circle cx="176.1" cy="396.5" r="1.7" class="r" stroke-width="2.3"/><circle cx="123" cy="470" r="1.7" class="r" stroke-width="2.3"/><circle cx="225.7" cy="470.7" r="1.7" class="r" stroke-width="2.3"/>
<path class="ax" style="stroke:#808080" d="M40.7 330.5V535.4H307.2M40.7 535.4v-2.4M94 535.4v-2.4M147.3 535.4v-2.4M200.6 535.4v-2.4M253.9 535.4v-2.4M307.2 535.4v-2.4M40.7 535.4h1.6M40.7 514.9h1.6M40.7 494.4h1.6M40.7 473.9h1.6M40.7 453.4h1.6M40.7 432.9h1.6M40.7 412.5h1.6M40.7 392h1.6M40.7 371.5h1.6M40.7 351h1.6M40.7 330.5h1.6"/>
<text class="tk" text-anchor="middle" style="font-size:8.2px" x="40.7" y="547.4">0</text><text class="tk" text-anchor="middle" style="font-size:8.2px" x="94" y="547.4">1</text><text class="tk" text-anchor="middle" style="font-size:8.2px" x="147.3" y="547.4">2</text><text class="tk" text-anchor="middle" style="font-size:8.2px" x="200.6" y="547.4">3</text><text class="tk" text-anchor="middle" style="font-size:8.2px" x="253.9" y="547.4">4</text><text class="tk" text-anchor="middle" style="font-size:8.2px" x="307.2" y="547.4">5</text><text class="tk" text-anchor="end" style="font-size:8.2px" x="37.1" y="539.4">0</text><text class="tk" text-anchor="end" style="font-size:8.2px" x="37.1" y="518.9">0.5</text><text class="tk" text-anchor="end" style="font-size:8.2px" x="37.1" y="498.4">1</text><text class="tk" text-anchor="end" style="font-size:8.2px" x="37.1" y="477.9">1.5</text><text class="tk" text-anchor="end" style="font-size:8.2px" x="37.1" y="457.4">2</text><text class="tk" text-anchor="end" style="font-size:8.2px" x="37.1" y="436.9">2.5</text><text class="tk" text-anchor="end" style="font-size:8.2px" x="37.1" y="416.4">3</text><text class="tk" text-anchor="end" style="font-size:8.2px" x="37.1" y="395.9">3.5</text><text class="tk" text-anchor="end" style="font-size:8.2px" x="37.1" y="375.4">4</text><text class="tk" text-anchor="end" style="font-size:8.2px" x="37.1" y="354.9">4.5</text><text class="tk" text-anchor="end" style="font-size:8.2px" x="37.1" y="334.5">5</text>
<text class="ti" text-anchor="middle" style="font-size:12.1px" x="173.8" y="325.8">Data clustering</text>
<text class="al" text-anchor="middle" style="font-size:12.4px" x="173.8" y="563">X1</text>
<text class="al" text-anchor="middle" style="font-size:12.1px" transform="translate(19.8 432.9) rotate(-90)">X2</text>
<text class="cp" text-anchor="middle" x="162.8" y="583.4">(c)</text>
<rect x="207.7" y="331" width="126.3" height="12.1" fill="#fff" stroke="#8a8a8a" stroke-width=".7"/><path d="M210.4 337.1H234.4" stroke="#e8232b" stroke-width="2.3"/><text class="lg" style="font-size:8.05px" x="237.2" y="340.6">Cluster centers of the data</text>
</g>
<g id="panel-d">
<g class="d" id="dots-d"><circle cx="502.8" cy="342.8" r="1.2"/><circle cx="501" cy="344.4" r="1.2"/><circle cx="507.6" cy="345.3" r="1.2"/><circle cx="513.2" cy="343.1" r="1.2"/><circle cx="509.5" cy="352.9" r="1.2"/><circle cx="518.9" cy="355.4" r="1.2"/><circle cx="522.3" cy="355.8" r="1.2"/><circle cx="499.5" cy="358.1" r="1.2"/><circle cx="489.1" cy="358.9" r="1.2"/><circle cx="490.9" cy="359.4" r="1.2"/><circle cx="517.9" cy="359.8" r="1.2"/><circle cx="518.5" cy="364.5" r="1.2"/><circle cx="497.2" cy="366.7" r="1.2"/><circle cx="516.9" cy="367.3" r="1.2"/><circle cx="518.9" cy="368.8" r="1.2"/><circle cx="510" cy="369.6" r="1.2"/><circle cx="485.5" cy="371.7" r="1.2"/><circle cx="481.5" cy="372.3" r="1.2"/><circle cx="491.6" cy="373.2" r="1.2"/><circle cx="501.6" cy="373" r="1.2"/><circle cx="495.3" cy="376.7" r="1.2"/><circle cx="499.7" cy="375.8" r="1.2"/><circle cx="503.5" cy="376.7" r="1.2"/><circle cx="488.4" cy="376.7" r="1.2"/><circle cx="487.2" cy="379.2" r="1.2"/><circle cx="524.8" cy="371.1" r="1.2"/><circle cx="525" cy="373.6" r="1.2"/><circle cx="523.5" cy="377.6" r="1.2"/><circle cx="522.3" cy="379.9" r="1.2"/><circle cx="543.2" cy="356" r="1.2"/><circle cx="549.2" cy="358.8" r="1.2"/><circle cx="531.7" cy="362.9" r="1.2"/><circle cx="530.2" cy="366" r="1.2"/><circle cx="548.6" cy="371.7" r="1.2"/><circle cx="557" cy="375.2" r="1.2"/><circle cx="538.2" cy="376.1" r="1.2"/><circle cx="540.7" cy="378.6" r="1.2"/><circle cx="532.9" cy="376.1" r="1.2"/><circle cx="533.5" cy="380.5" r="1.2"/><circle cx="544.8" cy="382.6" r="1.2"/><circle cx="548.9" cy="381.7" r="1.2"/><circle cx="561.5" cy="383.6" r="1.2"/><circle cx="560.7" cy="388.7" r="1.2"/><circle cx="539.8" cy="384.9" r="1.2"/><circle cx="542.3" cy="386.8" r="1.2"/><circle cx="542.9" cy="389.3" r="1.2"/><circle cx="545.7" cy="390.8" r="1.2"/><circle cx="535.7" cy="386.1" r="1.2"/><circle cx="531.7" cy="387.4" r="1.2"/><circle cx="521.4" cy="391.5" r="1.2"/><circle cx="490.9" cy="389.9" r="1.2"/><circle cx="494.7" cy="394.3" r="1.2"/><circle cx="493.4" cy="394.9" r="1.2"/><circle cx="507.6" cy="396.4" r="1.2"/><circle cx="482.2" cy="393.7" r="1.2"/><circle cx="534.8" cy="395.8" r="1.2"/><circle cx="541.4" cy="397.5" r="1.2"/><circle cx="551.5" cy="394.9" r="1.2"/><circle cx="554" cy="401.2" r="1.2"/><circle cx="537.9" cy="401.8" r="1.2"/><circle cx="524.1" cy="401.8" r="1.2"/><circle cx="512.9" cy="402.5" r="1.2"/><circle cx="518.5" cy="404.4" r="1.2"/><circle cx="521.6" cy="405.6" r="1.2"/><circle cx="507.2" cy="405" r="1.2"/><circle cx="516" cy="408.1" r="1.2"/><circle cx="547.7" cy="404.4" r="1.2"/><circle cx="543.2" cy="408.4" r="1.2"/><circle cx="560.7" cy="404.6" r="1.2"/><circle cx="566.1" cy="398.7" r="1.2"/><circle cx="472.4" cy="366.4" r="1.2"/><circle cx="474.6" cy="367.3" r="1.2"/><circle cx="452.7" cy="371.8" r="1.2"/><circle cx="480.7" cy="372.3" r="1.2"/><circle cx="469.6" cy="377" r="1.2"/><circle cx="476.9" cy="377.4" r="1.2"/><circle cx="472.8" cy="382.6" r="1.2"/><circle cx="475.6" cy="383" r="1.2"/><circle cx="472.5" cy="387.8" r="1.2"/><circle cx="478.2" cy="388" r="1.2"/><circle cx="442.1" cy="388.3" r="1.2"/><circle cx="450" cy="389.9" r="1.2"/><circle cx="453.7" cy="391.8" r="1.2"/><circle cx="463.1" cy="394.1" r="1.2"/><circle cx="465.4" cy="396.6" r="1.2"/><circle cx="459.9" cy="398.7" r="1.2"/><circle cx="475" cy="402.1" r="1.2"/><circle cx="464" cy="410.6" r="1.2"/><circle cx="574.5" cy="405.2" r="1.2"/><circle cx="583.7" cy="406.9" r="1.2"/><circle cx="464" cy="411.6" r="1.2"/><circle cx="476.3" cy="417.5" r="1.2"/><circle cx="441.8" cy="419.1" r="1.2"/><circle cx="446.1" cy="422.5" r="1.2"/><circle cx="450.6" cy="424.1" r="1.2"/><circle cx="457.1" cy="426" r="1.2"/><circle cx="458.1" cy="427" r="1.2"/><circle cx="460.2" cy="425.1" r="1.2"/><circle cx="438.3" cy="429.5" r="1.2"/><circle cx="452.3" cy="428.9" r="1.2"/><circle cx="445.8" cy="433.8" r="1.2"/><circle cx="473.6" cy="433.5" r="1.2"/><circle cx="440.8" cy="439.2" r="1.2"/><circle cx="401.1" cy="441.7" r="1.2"/><circle cx="419.8" cy="443.6" r="1.2"/><circle cx="395.7" cy="447.4" r="1.2"/><circle cx="463.4" cy="443" r="1.2"/><circle cx="468.4" cy="444.2" r="1.2"/><circle cx="477.1" cy="443" r="1.2"/><circle cx="460.2" cy="445.1" r="1.2"/><circle cx="443.1" cy="447.7" r="1.2"/><circle cx="446.4" cy="446.7" r="1.2"/><circle cx="455" cy="447.4" r="1.2"/><circle cx="416" cy="451.1" r="1.2"/><circle cx="419.5" cy="452.4" r="1.2"/><circle cx="420.1" cy="453.6" r="1.2"/><circle cx="436.4" cy="451.1" r="1.2"/><circle cx="447.4" cy="453.6" r="1.2"/><circle cx="449.2" cy="453" r="1.2"/><circle cx="456.7" cy="453.6" r="1.2"/><circle cx="462.7" cy="455.3" r="1.2"/><circle cx="400.7" cy="455.5" r="1.2"/><circle cx="406" cy="456.8" r="1.2"/><circle cx="417.6" cy="456.5" r="1.2"/><circle cx="425.1" cy="457" r="1.2"/><circle cx="396.7" cy="458.7" r="1.2"/><circle cx="398.5" cy="462.4" r="1.2"/><circle cx="403" cy="462.7" r="1.2"/><circle cx="410.5" cy="463.1" r="1.2"/><circle cx="433.7" cy="458.7" r="1.2"/><circle cx="438.3" cy="458" r="1.2"/><circle cx="440.8" cy="458.9" r="1.2"/><circle cx="435.8" cy="461.6" r="1.2"/><circle cx="448.9" cy="459.9" r="1.2"/><circle cx="454" cy="458.9" r="1.2"/><circle cx="451.2" cy="462.4" r="1.2"/><circle cx="454.3" cy="461.8" r="1.2"/><circle cx="463.1" cy="462.8" r="1.2"/><circle cx="451.5" cy="464.6" r="1.2"/><circle cx="430.2" cy="464.9" r="1.2"/><circle cx="427" cy="468.1" r="1.2"/><circle cx="415.1" cy="468.7" r="1.2"/><circle cx="412.6" cy="471.6" r="1.2"/><circle cx="413.9" cy="473.4" r="1.2"/><circle cx="416" cy="469.7" r="1.2"/><circle cx="397.8" cy="470.6" r="1.2"/><circle cx="420.8" cy="475" r="1.2"/><circle cx="420.1" cy="476.9" r="1.2"/><circle cx="416.7" cy="480.4" r="1.2"/><circle cx="434.3" cy="477.5" r="1.2"/><circle cx="436.4" cy="479.1" r="1.2"/><circle cx="445.8" cy="480" r="1.2"/><circle cx="452.1" cy="475.9" r="1.2"/><circle cx="453.1" cy="479.1" r="1.2"/><circle cx="456.8" cy="478.4" r="1.2"/><circle cx="463.1" cy="477.5" r="1.2"/><circle cx="467.5" cy="479.4" r="1.2"/><circle cx="459.4" cy="483.2" r="1.2"/><circle cx="461.9" cy="483.2" r="1.2"/><circle cx="425.1" cy="485" r="1.2"/><circle cx="477.8" cy="464.9" r="1.2"/><circle cx="447.1" cy="467.5" r="1.2"/><circle cx="438.9" cy="468.1" r="1.2"/><circle cx="497.2" cy="412.8" r="1.2"/><circle cx="483.7" cy="414.7" r="1.2"/><circle cx="513.2" cy="413.4" r="1.2"/><circle cx="524.1" cy="412.8" r="1.2"/><circle cx="550.2" cy="414.3" r="1.2"/><circle cx="555.7" cy="415.6" r="1.2"/><circle cx="511.4" cy="419.7" r="1.2"/><circle cx="518.5" cy="419.1" r="1.2"/><circle cx="491.6" cy="424.1" r="1.2"/><circle cx="495.6" cy="423.1" r="1.2"/><circle cx="506" cy="424.1" r="1.2"/><circle cx="543.6" cy="421" r="1.2"/><circle cx="544.8" cy="422.2" r="1.2"/><circle cx="483.7" cy="427.6" r="1.2"/><circle cx="507.8" cy="429.2" r="1.2"/><circle cx="514.1" cy="430.4" r="1.2"/><circle cx="563.2" cy="427.6" r="1.2"/><circle cx="551.1" cy="429.8" r="1.2"/><circle cx="549.8" cy="431" r="1.2"/><circle cx="521.6" cy="433.5" r="1.2"/><circle cx="526.6" cy="428.5" r="1.2"/><circle cx="537.9" cy="427.3" r="1.2"/><circle cx="554.8" cy="434.2" r="1.2"/><circle cx="501.8" cy="437.9" r="1.2"/><circle cx="509.4" cy="437.9" r="1.2"/><circle cx="514.1" cy="436.7" r="1.2"/><circle cx="524.1" cy="438.6" r="1.2"/><circle cx="538.2" cy="437.7" r="1.2"/><circle cx="555.7" cy="438.6" r="1.2"/><circle cx="562.7" cy="441.5" r="1.2"/><circle cx="556.5" cy="443" r="1.2"/><circle cx="546.7" cy="441.7" r="1.2"/><circle cx="507.8" cy="442.3" r="1.2"/><circle cx="514.7" cy="443" r="1.2"/><circle cx="485.5" cy="442.3" r="1.2"/><circle cx="542.3" cy="444.9" r="1.2"/><circle cx="539.8" cy="446.7" r="1.2"/><circle cx="546.7" cy="445.9" r="1.2"/><circle cx="487.8" cy="447.7" r="1.2"/><circle cx="516.6" cy="448.2" r="1.2"/><circle cx="521.6" cy="449.6" r="1.2"/><circle cx="513.1" cy="451.5" r="1.2"/><circle cx="529.8" cy="451.8" r="1.2"/><circle cx="494.1" cy="452.4" r="1.2"/><circle cx="526" cy="454.3" r="1.2"/><circle cx="524.8" cy="455.2" r="1.2"/><circle cx="488" cy="456.8" r="1.2"/><circle cx="482.5" cy="455.5" r="1.2"/><circle cx="533.8" cy="459" r="1.2"/><circle cx="546.7" cy="458" r="1.2"/><circle cx="564" cy="454.9" r="1.2"/><circle cx="566.1" cy="458" r="1.2"/><circle cx="483.4" cy="462.4" r="1.2"/><circle cx="513.9" cy="462.1" r="1.2"/><circle cx="488.4" cy="464.6" r="1.2"/><circle cx="552.3" cy="462.8" r="1.2"/><circle cx="554" cy="464.9" r="1.2"/><circle cx="559.2" cy="463.7" r="1.2"/><circle cx="501" cy="466.2" r="1.2"/><circle cx="530.2" cy="466.2" r="1.2"/><circle cx="542.9" cy="465.8" r="1.2"/><circle cx="483.4" cy="470" r="1.2"/><circle cx="488.4" cy="468.1" r="1.2"/><circle cx="490.9" cy="469.6" r="1.2"/><circle cx="506.8" cy="468.7" r="1.2"/><circle cx="514.7" cy="468.1" r="1.2"/><circle cx="499.7" cy="471.2" r="1.2"/><circle cx="515.1" cy="471.2" r="1.2"/><circle cx="513.1" cy="472.9" r="1.2"/><circle cx="510.4" cy="473.7" r="1.2"/><circle cx="533.9" cy="468.7" r="1.2"/><circle cx="545.7" cy="472.5" r="1.2"/><circle cx="549.8" cy="473.1" r="1.2"/><circle cx="525.1" cy="475.9" r="1.2"/><circle cx="531" cy="475.4" r="1.2"/><circle cx="553.3" cy="476.6" r="1.2"/><circle cx="558.2" cy="475.6" r="1.2"/><circle cx="513.9" cy="478.8" r="1.2"/><circle cx="490.9" cy="480.4" r="1.2"/><circle cx="491.6" cy="484.2" r="1.2"/><circle cx="503.5" cy="484.2" r="1.2"/><circle cx="559.2" cy="483.2" r="1.2"/><circle cx="579.3" cy="411.6" r="1.2"/><circle cx="574.6" cy="419.7" r="1.2"/><circle cx="592.8" cy="423.5" r="1.2"/><circle cx="567.4" cy="429.5" r="1.2"/><circle cx="572.4" cy="436.7" r="1.2"/><circle cx="591.4" cy="436.1" r="1.2"/><circle cx="578.7" cy="444.9" r="1.2"/><circle cx="583.7" cy="445.5" r="1.2"/><circle cx="586.5" cy="443.8" r="1.2"/><circle cx="572" cy="449.9" r="1.2"/><circle cx="594.1" cy="451.1" r="1.2"/><circle cx="596.4" cy="453.3" r="1.2"/><circle cx="585.3" cy="453.6" r="1.2"/><circle cx="604" cy="455.5" r="1.2"/><circle cx="607.7" cy="456.4" r="1.2"/><circle cx="571.4" cy="455.8" r="1.2"/><circle cx="594.9" cy="458.4" r="1.2"/><circle cx="613.4" cy="461.8" r="1.2"/><circle cx="573" cy="461.2" r="1.2"/><circle cx="586.2" cy="459.9" r="1.2"/><circle cx="572.4" cy="465.6" r="1.2"/><circle cx="577.8" cy="465.6" r="1.2"/><circle cx="580.8" cy="466.6" r="1.2"/><circle cx="585.5" cy="464.3" r="1.2"/><circle cx="587.8" cy="465.8" r="1.2"/><circle cx="595.8" cy="465.6" r="1.2"/><circle cx="603.5" cy="466.8" r="1.2"/><circle cx="607.2" cy="468.1" r="1.2"/><circle cx="567.4" cy="470.6" r="1.2"/><circle cx="589.3" cy="471.9" r="1.2"/><circle cx="583.9" cy="470.6" r="1.2"/><circle cx="598.1" cy="474.4" r="1.2"/><circle cx="578.7" cy="475" r="1.2"/><circle cx="603.1" cy="475" r="1.2"/><circle cx="584.7" cy="476.6" r="1.2"/><circle cx="575.5" cy="478.1" r="1.2"/><circle cx="569.9" cy="483.8" r="1.2"/><circle cx="578" cy="485" r="1.2"/><circle cx="583" cy="481.3" r="1.2"/><circle cx="590.6" cy="483.5" r="1.2"/><circle cx="599.1" cy="482.5" r="1.2"/><circle cx="600.8" cy="483.8" r="1.2"/><circle cx="605.3" cy="483.8" r="1.2"/><circle cx="627.5" cy="484" r="1.2"/><circle cx="407.3" cy="488.5" r="1.2"/><circle cx="404.7" cy="491" r="1.2"/><circle cx="403.2" cy="493.1" r="1.2"/><circle cx="414.2" cy="487.9" r="1.2"/><circle cx="422.6" cy="488.7" r="1.2"/><circle cx="425.5" cy="486.4" r="1.2"/><circle cx="428" cy="486.6" r="1.2"/><circle cx="436.8" cy="486.6" r="1.2"/><circle cx="427.4" cy="493.5" r="1.2"/><circle cx="435.5" cy="496.9" r="1.2"/><circle cx="441.2" cy="497.3" r="1.2"/><circle cx="445.6" cy="495.6" r="1.2"/><circle cx="444.9" cy="499.8" r="1.2"/><circle cx="424.8" cy="505.1" r="1.2"/><circle cx="446.1" cy="504.8" r="1.2"/><circle cx="445.6" cy="505.7" r="1.2"/><circle cx="440.2" cy="509.5" r="1.2"/><circle cx="429.8" cy="513" r="1.2"/><circle cx="420.8" cy="515.9" r="1.2"/><circle cx="439.9" cy="515.1" r="1.2"/><circle cx="414.2" cy="521.4" r="1.2"/><circle cx="427.9" cy="523" r="1.2"/><circle cx="441.8" cy="523.3" r="1.2"/><circle cx="446.8" cy="530.9" r="1.2"/><circle cx="450.8" cy="534.3" r="1.2"/><circle cx="459.4" cy="513" r="1.2"/><circle cx="465.2" cy="518.3" r="1.2"/><circle cx="462.5" cy="525.5" r="1.2"/><circle cx="470.3" cy="507.3" r="1.2"/><circle cx="472.5" cy="502.3" r="1.2"/><circle cx="474.9" cy="499.5" r="1.2"/><circle cx="465.2" cy="498.5" r="1.2"/><circle cx="464.9" cy="495.8" r="1.2"/><circle cx="462.4" cy="494.1" r="1.2"/><circle cx="458.4" cy="496.7" r="1.2"/><circle cx="457.3" cy="497.3" r="1.2"/><circle cx="453.3" cy="490.1" r="1.2"/><circle cx="454.6" cy="491.6" r="1.2"/><circle cx="459.4" cy="489.7" r="1.2"/><circle cx="464" cy="490.4" r="1.2"/><circle cx="475.3" cy="495" r="1.2"/><circle cx="479" cy="516.1" r="1.2"/><circle cx="480.7" cy="498.5" r="1.2"/><circle cx="482.8" cy="491.6" r="1.2"/><circle cx="483" cy="494.8" r="1.2"/><circle cx="485.9" cy="493.9" r="1.2"/><circle cx="490.1" cy="493.9" r="1.2"/><circle cx="494.4" cy="494.1" r="1.2"/><circle cx="481.5" cy="498.5" r="1.2"/><circle cx="490.9" cy="497.7" r="1.2"/><circle cx="496.2" cy="497.3" r="1.2"/><circle cx="505.1" cy="488.5" r="1.2"/><circle cx="508.5" cy="496.7" r="1.2"/><circle cx="505.3" cy="501.1" r="1.2"/><circle cx="513.2" cy="494.5" r="1.2"/><circle cx="512.6" cy="502.1" r="1.2"/><circle cx="526.9" cy="492.5" r="1.2"/><circle cx="530.2" cy="491" r="1.2"/><circle cx="540.4" cy="490.8" r="1.2"/><circle cx="540.2" cy="495" r="1.2"/><circle cx="546.9" cy="494.5" r="1.2"/><circle cx="549.8" cy="495.1" r="1.2"/><circle cx="546.9" cy="487.9" r="1.2"/><circle cx="559.5" cy="487" r="1.2"/><circle cx="564.2" cy="491.6" r="1.2"/><circle cx="559.9" cy="498.5" r="1.2"/><circle cx="563.2" cy="497.9" r="1.2"/><circle cx="562.7" cy="501.1" r="1.2"/><circle cx="541.1" cy="500.8" r="1.2"/><circle cx="543.9" cy="502.9" r="1.2"/><circle cx="545.8" cy="507" r="1.2"/><circle cx="551.1" cy="506.4" r="1.2"/><circle cx="560.1" cy="508" r="1.2"/><circle cx="566.5" cy="510.7" r="1.2"/><circle cx="525.6" cy="508.3" r="1.2"/><circle cx="524.1" cy="509.8" r="1.2"/><circle cx="509.1" cy="511.7" r="1.2"/><circle cx="490.3" cy="508" r="1.2"/><circle cx="491.3" cy="509" r="1.2"/><circle cx="538.5" cy="516.1" r="1.2"/><circle cx="485.9" cy="522.8" r="1.2"/><circle cx="561.1" cy="520.5" r="1.2"/><circle cx="566.1" cy="519.3" r="1.2"/><circle cx="578" cy="486.6" r="1.2"/><circle cx="588.7" cy="486.6" r="1.2"/><circle cx="600" cy="486.4" r="1.2"/><circle cx="571.1" cy="490.6" r="1.2"/><circle cx="577.4" cy="491.6" r="1.2"/><circle cx="582.7" cy="491.3" r="1.2"/><circle cx="578" cy="495.1" r="1.2"/><circle cx="583" cy="495" r="1.2"/><circle cx="571.8" cy="493.5" r="1.2"/><circle cx="567.7" cy="493.8" r="1.2"/><circle cx="591.8" cy="492.6" r="1.2"/><circle cx="601" cy="492.6" r="1.2"/><circle cx="603.7" cy="495.8" r="1.2"/><circle cx="605.8" cy="498.9" r="1.2"/><circle cx="606.2" cy="501.1" r="1.2"/><circle cx="591.2" cy="501.4" r="1.2"/><circle cx="584.7" cy="502.7" r="1.2"/><circle cx="586.8" cy="507.7" r="1.2"/><circle cx="567.7" cy="510.7" r="1.2"/><circle cx="585.5" cy="515.1" r="1.2"/><circle cx="601.2" cy="517.1" r="1.2"/><circle cx="615.9" cy="510.1" r="1.2"/><circle cx="621.6" cy="509" r="1.2"/><circle cx="634.2" cy="500" r="1.2"/><circle cx="568.6" cy="535" r="1.2"/><circle cx="616.2" cy="491.6" r="1.2"/><circle cx="380.8" cy="468.1" r="1.2"/><circle cx="383.8" cy="469.9" r="1.2"/><circle cx="454.6" cy="494.7" r="1.2"/><circle cx="490.2" cy="431.8" r="1.2"/><circle cx="472.5" cy="454.6" r="1.2"/><circle cx="489.2" cy="460.6" r="1.2"/><circle cx="479.9" cy="456.2" r="1.2"/><circle cx="457.9" cy="492.6" r="1.2"/><circle cx="428.1" cy="463" r="1.2"/><circle cx="472.1" cy="472.3" r="1.2"/><circle cx="416.3" cy="475.1" r="1.2"/><circle cx="461.5" cy="485.1" r="1.2"/><circle cx="447.4" cy="443.2" r="1.2"/><circle cx="490" cy="461.2" r="1.2"/><circle cx="468.9" cy="477.8" r="1.2"/><circle cx="455.5" cy="462.5" r="1.2"/><circle cx="445.7" cy="474.9" r="1.2"/><circle cx="496.2" cy="489.2" r="1.2"/><circle cx="447" cy="448" r="1.2"/><circle cx="470.5" cy="469.5" r="1.2"/><circle cx="445.9" cy="490.8" r="1.2"/><circle cx="487.3" cy="506.5" r="1.2"/><circle cx="472.2" cy="479.3" r="1.2"/><circle cx="461" cy="499.8" r="1.2"/><circle cx="481" cy="463.9" r="1.2"/><circle cx="468.8" cy="466.2" r="1.2"/><circle cx="435.4" cy="469.5" r="1.2"/><circle cx="518.5" cy="452.2" r="1.2"/><circle cx="561.6" cy="478.9" r="1.2"/><circle cx="574.3" cy="484.5" r="1.2"/><circle cx="604.1" cy="463.9" r="1.2"/><circle cx="552.7" cy="461.4" r="1.2"/><circle cx="528.1" cy="464.3" r="1.2"/><circle cx="576.4" cy="458.6" r="1.2"/><circle cx="566" cy="484.7" r="1.2"/><circle cx="561.6" cy="488.4" r="1.2"/><circle cx="559.4" cy="478.8" r="1.2"/><circle cx="538.3" cy="461.1" r="1.2"/><circle cx="598.8" cy="451.8" r="1.2"/><circle cx="547" cy="476.1" r="1.2"/><circle cx="534.3" cy="478.2" r="1.2"/><circle cx="558" cy="465.1" r="1.2"/><circle cx="545.5" cy="470.7" r="1.2"/><circle cx="529.7" cy="477.5" r="1.2"/><circle cx="583.6" cy="453.9" r="1.2"/><circle cx="566" cy="470" r="1.2"/><circle cx="559.5" cy="479.8" r="1.2"/><circle cx="529.2" cy="464.6" r="1.2"/><circle cx="530.5" cy="466.2" r="1.2"/><circle cx="528.9" cy="472.3" r="1.2"/><circle cx="590" cy="463.8" r="1.2"/><circle cx="552" cy="468.1" r="1.2"/><circle cx="520.6" cy="459.5" r="1.2"/><circle cx="537.1" cy="481.7" r="1.2"/><circle cx="538.5" cy="470.7" r="1.2"/><circle cx="538.8" cy="479.6" r="1.2"/><circle cx="563.7" cy="469.3" r="1.2"/><circle cx="513.3" cy="418" r="1.2"/><circle cx="519.5" cy="377.5" r="1.2"/><circle cx="539.4" cy="391.8" r="1.2"/><circle cx="513.9" cy="410.1" r="1.2"/><circle cx="505.8" cy="426.3" r="1.2"/><circle cx="487.4" cy="442.4" r="1.2"/><circle cx="529.8" cy="406" r="1.2"/><circle cx="529.1" cy="434.1" r="1.2"/><circle cx="517.2" cy="405.1" r="1.2"/><circle cx="523.9" cy="409.7" r="1.2"/><circle cx="528.2" cy="384.1" r="1.2"/><circle cx="534.6" cy="447.8" r="1.2"/><circle cx="493.8" cy="375.3" r="1.2"/><circle cx="554.6" cy="393.8" r="1.2"/><circle cx="508.1" cy="379.5" r="1.2"/><circle cx="516.9" cy="399.9" r="1.2"/><circle cx="535.1" cy="402.8" r="1.2"/><circle cx="486.2" cy="418.3" r="1.2"/><circle cx="523.4" cy="421.5" r="1.2"/><circle cx="519.6" cy="415.4" r="1.2"/><circle cx="522.3" cy="414.8" r="1.2"/><circle cx="528.1" cy="411.7" r="1.2"/><circle cx="496.1" cy="393.4" r="1.2"/><circle cx="519.3" cy="401.3" r="1.2"/><circle cx="489.2" cy="413.2" r="1.2"/><circle cx="529.2" cy="398.4" r="1.2"/><circle cx="494.4" cy="378.2" r="1.2"/><circle cx="520.4" cy="404.7" r="1.2"/><circle cx="506.3" cy="406.8" r="1.2"/><circle cx="521.5" cy="452" r="1.2"/></g>
<path class="g" style="stroke-width:1.05" d="M487.8 343.4L506 343.4M487.8 344.1L506 344.1M510.4 351.2L516 351.2M486.2 354.5L511.6 354.5M486.2 354.5L486.2 379.2M505.3 355.4L511.6 355.4M506.3 361.7L506.3 411.3M514.7 362.9L521.6 362.9M534.8 365L561.1 365M492.8 366.4L511.6 366.4M492.8 366.9L511.6 366.9M487.2 368.3L514.7 368.3M492.8 374.2L511.6 374.2M531 369.2L531 381.1M532.9 372.3L532.9 382.4M489.1 391.2H502.8V381.1H489.1ZM489.1 398.7H511.6V388.7H489.1ZM502.8 379.2L502.8 411.3M504.7 383.6L504.7 411.3M503.8 386.1L503.8 411.3M507.2 377.4L507.2 411.3M509.7 372.3L509.7 386.1M514.1 380.1L533.5 380.1M518.5 382.6L533.5 382.6M512.2 385.5L537.3 385.5M516 390.9L553 390.9M516 393.7L552.3 393.7M539.2 388.7L539.2 406.2M536 386.1L536 406.2M529.1 388.7L529.1 406.2M554.8 387.4L554.8 406.2M559.6 404.4L559.6 411.3M499.1 404.4L544.8 404.4M485.9 408.1L522.3 408.1M486.2 389.9L486.2 408.8M481.9 378L481.9 411.3M516 406.2H536V390.5H516ZM469.3 383.6L469.3 388.7M568.4 388L568.4 411.3M581.5 405L581.5 411.3M461.5 412.2L461.5 447.4M463.4 413.4L463.4 447.4M461.5 430.2L481.5 430.2M461.5 430.8L481.5 430.8M456.5 432.3L481.5 432.3M456.5 432.3L456.5 435.4M447.4 429.2L447.4 433.5M469 434.8L469 443.6M455 447.5L467.1 447.5M455 448L467.1 448M475.3 423.5L475.3 430.4M477.8 419.7L477.8 423.5M395.7 449.9L395.7 473.1M404.5 450.5L404.5 461.2M407.6 449.9L407.6 473.7M409.2 449.9L409.2 477.5M409.2 464.7L431.4 464.7M409.2 465.2L431.4 465.2M419.3 449.9L419.3 470M425.5 449.3L425.5 453.6M431.4 449.3L431.4 463.7M435.8 444.2L435.8 446.7M437 448.6L437 472.5M440.2 447.4L440.2 463.7M441.7 444.2L441.7 447.4M428.6 473.1H459.6V454.9H428.6ZM431.4 469.3H450.2V459.9H431.4ZM431.4 469.6L481.5 469.6M438.9 471.2L481.5 471.2M427.6 484H449.2V474.7H427.6ZM440.8 473.1L440.8 484M464 457.4L464 466.2M453.3 455.5L453.3 463.7M470.3 447.4L470.3 486.3M472.8 447.4L472.8 486.3M475.3 448.6L475.3 486.3M470.3 448.6L481.5 448.6M469 454.9L481.5 454.9M470.3 460.6L481.5 460.6M481.9 410.9L481.9 486.3M486.2 410.9L486.2 431M489.1 416L489.1 446.1M488.4 416L488.4 436.1M480.9 416L567.4 416M490.9 419.7L551.1 419.7M509.7 422.9L539.8 422.9M480.9 429.8L489.1 429.8M504.5 436.7H507.2V427.3H504.5ZM504.8 436.3H506.8V427.6H504.8ZM488.4 438.6L516 438.6M515.4 410.9L515.4 447.4M514.5 410.9L514.5 436.1M512.2 410.9L512.2 426M518.5 410.9L518.5 436.1M529.1 410.9L529.1 486.3M532.3 429.8L532.3 448.6M526 432.3L533.5 432.3M534.8 418.5L534.8 447.4M539.8 410.9L539.8 447.4M548.6 416L548.6 471.2M552.3 447.4L552.3 486.3M558.6 410.9L558.6 486.3M561.1 447.4L561.1 486.3M556.1 437.9L567.4 437.9M480.9 447.1L567.4 447.1M494.1 466.2H511V447.4H494.1ZM495.9 463.7H506.6V449.9H495.9ZM496.3 463.3H506.2V450.3H496.3ZM506 447.4L506 461.2M509.1 447.4L509.1 461.2M516.4 447.4L516.4 456.2M533.5 454L544.8 454M533.5 454.5L544.8 454.5M533.5 451.1L541.1 451.1M536 451.1L536 470M539.2 454.9L539.2 470M523.5 461.8L541.1 461.8M490.9 466.2L556.1 466.2M480.9 468.7L567.4 468.7M493.4 472.5L567.4 472.5M480.9 474.7L551.1 474.7M506 475.3L567.4 475.3M502.2 476.6L551.1 476.6M502.2 477.1L551.1 477.1M499.7 479.4L556.1 479.4M480.9 482.5L537.3 482.5M518.5 485L567.4 485M490.3 466.2L490.3 486.3M515.4 466.2L515.4 486.3M526.6 461.2L526.6 486.3M541.1 466.2L541.1 486.3M568.4 410.9L568.4 447.4M566.7 419.7L574.3 419.7M581.5 410.9L581.5 419.7M582.8 439.2L582.8 454.9M598.1 444.2L598.1 447.4M567.4 459.3H576.1V446.7H567.4ZM568 458.7H575.5V447.4H568ZM577.4 447.4L577.4 461.2M582.4 450.3L608.1 450.3M608.1 450.3L608.1 461.2M590.6 457.4L608.1 457.4M583.7 447.4L583.7 458.7M586.2 447.4L586.2 461.2M604.7 459.3L604.7 479.4M610 464.3L610 473.1M599.6 466.8L599.6 476.3M632.2 456.8L632.2 486.3M568.6 479.4H589.3V469.3H568.6ZM573 461.2L573 486.3M585.5 458.7L585.5 481.3M566.7 471.2L578 471.2M566.7 479.4L589.9 479.4M566.7 436.1L566.7 447.4M436.4 487.2L481.5 487.2M440.4 486L440.4 489.5M440.2 492.5L481.5 492.5M470.3 486L470.3 497.9M462.1 497.4L478.4 497.4M462.1 497.9L478.4 497.9M471.5 523.4L476.8 523.4M464 488.2L481.5 488.2M464 488.7L481.5 488.7M511 487.6L567.4 487.6M511 488.1L567.4 488.1M480.9 487L501 487M480.9 487.5L501 487.5M480.9 489.7L509.7 489.7M516 491.4L567.4 491.4M516 491.9L567.4 491.9M516.4 486L516.4 491.6M535.7 486L535.7 495.4M551.5 486L551.5 499.8M556.1 486L556.1 496M504.3 491L504.3 499.8M480.9 497.3L509.7 497.3M480.9 493.5L499.7 493.5M511.6 498.5L525.4 498.5M511.6 498.9L563.6 498.9M511.6 499.3L525.4 499.3M549.8 503.3L567.4 503.3M511 511.5L555.5 511.5M511 529.3L567.4 529.3M574 496.4H590.2V475.9H574ZM584.9 491.6L616.9 491.6M566.7 490.8L573 490.8M566.7 491.3L573 491.3M582.4 486L582.4 491M566.7 503.3L570.5 503.3M566.7 529.3L586.2 529.3M515.1 331.1L527.6 331.1M488.7 405.6L495.8 405.6M515.4 416.3L515.4 409.7M498.7 409.8L524.9 409.8M504.9 421.8H508V402.5H504.9ZM516.1 398.7H519.5V381.3H516.1ZM515.1 424.9L533 424.9M501 416.2L501 383.5M505.7 427.6H513.9V415.2H505.7ZM515.1 432.4L515.1 417.2M509.9 404.8L517.6 404.8M529.4 417.8L529.4 395.7M512.6 411.4L512.6 379.6M522.3 396.7L522.3 390.9M522.5 385.4L522.5 375.8M526.3 390.7H531.8V374.5H526.3ZM515.6 413.5L527.7 413.5M510.6 425.4H520.4V419.2H510.6ZM494.6 411.8L511.7 411.8M523 424.7H539.4V395.7H523ZM523.1 377.8L523.1 368.1M523.1 426.5H535.9V419.5H523.1ZM524.9 413.5L524.9 402M499.1 426.3H506V401.5H499.1ZM504.7 389.1H527.8V367.3H504.7ZM470.4 469.2L483 469.2M431.3 479H454.2V474.3H431.3ZM483.4 468.4L483.4 458.8M451.4 475.1H481.1V463.7H451.4ZM459.1 463.9L480.9 463.9M456.6 472.8H483.7V463.3H456.6ZM436.5 475.6L452.1 475.6M431.6 461.4H454.9V457.3H431.6ZM433.5 467.3H460.4V456H433.5ZM542.9 466.2H566.4V448.5H542.9ZM551.4 473H562.8V457.4H551.4ZM545.2 475.9L545.2 465.9M553.9 473L553.9 468.3M566.6 491.5L566.6 475.7M559.4 481.4L559.4 470.4M533 478.2H548V468.2H533ZM536.1 479.5L561.3 479.5M541.3 473.9H552V462.2H541.3ZM527 469.2H542.9V464.8H527ZM551.8 468.2H562.4V459.4H551.8ZM533 494L533 478.7M551.1 468.6L577.9 468.6M564.9 471.8L564.9 453.4M550.9 465.2H571.7V452.3H550.9ZM547.4 477.2L560.6 477.2M561.1 466L568.3 466M543.2 474.6H560.2V466.2H543.2ZM522.1 420.2L522.1 402.4M547.9 456.4L547.9 439.6M517.9 452.4L517.9 410.6M527.2 446.8H541.9V412.5H527.2ZM527.7 435.8L527.7 413.8M517.5 432.3L517.5 410.6M541.3 443.4L541.3 403.2M527.1 452.3L527.1 432.6M544.3 425.5L550.5 425.5M539.2 451.2L539.2 429.8M524.5 455.4H537.2V408.5H524.5ZM556.2 457.3L556.2 409.2M526.3 427.7L534.2 427.7M521.8 416L521.8 400.3"/>
<use href="#dots-d" opacity=".5"/>
<rect x="507.1" y="393.1" width="11.7" height="7" rx="1.6" class="r" stroke-width="2.2"/><rect x="452.8" y="466.3" width="12.5" height="9.6" rx="1.6" class="r" stroke-width="2.2"/><rect x="556.6" y="466.3" width="10.9" height="9.6" rx="1.6" class="r" stroke-width="2.2"/>
<path class="ax" style="stroke:#b4b4b4" d="M377.8 330.4V535.4H643.8M377.8 535.4v-2.4M431 535.4v-2.4M484.2 535.4v-2.4M537.4 535.4v-2.4M590.6 535.4v-2.4M643.8 535.4v-2.4M377.8 535.4h1.6M377.8 514.9h1.6M377.8 494.4h1.6M377.8 473.9h1.6M377.8 453.4h1.6M377.8 432.9h1.6M377.8 412.4h1.6M377.8 391.9h1.6M377.8 371.4h1.6M377.8 350.9h1.6M377.8 330.4h1.6"/>
<text class="tk" text-anchor="middle" style="font-size:8.2px" x="377.8" y="547.4">0</text><text class="tk" text-anchor="middle" style="font-size:8.2px" x="431" y="547.4">1</text><text class="tk" text-anchor="middle" style="font-size:8.2px" x="484.2" y="547.4">2</text><text class="tk" text-anchor="middle" style="font-size:8.2px" x="537.4" y="547.4">3</text><text class="tk" text-anchor="middle" style="font-size:8.2px" x="590.6" y="547.4">4</text><text class="tk" text-anchor="middle" style="font-size:8.2px" x="643.8" y="547.4">5</text><text class="tk" text-anchor="end" style="font-size:8.2px" x="374.5" y="539.4">0</text><text class="tk" text-anchor="end" style="font-size:8.2px" x="374.5" y="518.9">0.5</text><text class="tk" text-anchor="end" style="font-size:8.2px" x="374.5" y="498.4">1</text><text class="tk" text-anchor="end" style="font-size:8.2px" x="374.5" y="477.9">1.5</text><text class="tk" text-anchor="end" style="font-size:8.2px" x="374.5" y="457.4">2</text><text class="tk" text-anchor="end" style="font-size:8.2px" x="374.5" y="436.9">2.5</text><text class="tk" text-anchor="end" style="font-size:8.2px" x="374.5" y="416.4">3</text><text class="tk" text-anchor="end" style="font-size:8.2px" x="374.5" y="395.9">3.5</text><text class="tk" text-anchor="end" style="font-size:8.2px" x="374.5" y="375.4">4</text><text class="tk" text-anchor="end" style="font-size:8.2px" x="374.5" y="354.9">4.5</text><text class="tk" text-anchor="end" style="font-size:8.2px" x="374.5" y="334.4">5</text>
<text class="ti" text-anchor="middle" style="font-size:12.2px" x="510.2" y="326.3">Optimization of cluster centers</text>
<text class="al" text-anchor="middle" style="font-size:12.4px" x="510" y="563">X1</text>
<text class="al" text-anchor="middle" style="font-size:12.1px" transform="translate(358 433.1) rotate(-90)">X2</text>
<text class="cp" text-anchor="middle" x="510.5" y="583.2">(d)</text>
<path d="M675.6 332.2H510V345.7H675.6" fill="#fff" stroke="#8a8a8a" stroke-width=".7"/><path d="M513 338.9H536.5" stroke="#e8232b" stroke-width="2.3"/><text class="lg" style="font-size:8.06px" x="539.2" y="341.9">Optimized granular clustering centers</text>
</g>
<g id="panel-e">
<g class="d" id="dots-e"><circle cx="143.9" cy="650.2" r="1.2"/><circle cx="107.8" cy="665.8" r="1.2"/><circle cx="141" cy="666.1" r="1.2"/><circle cx="119" cy="670.9" r="1.2"/><circle cx="127.8" cy="670.1" r="1.2"/><circle cx="129" cy="672.8" r="1.2"/><circle cx="136" cy="676.2" r="1.2"/><circle cx="133.8" cy="679.1" r="1.2"/><circle cx="142" cy="682.2" r="1.2"/><circle cx="116.2" cy="689.1" r="1.2"/><circle cx="119.9" cy="691.2" r="1.2"/><circle cx="142.5" cy="694.4" r="1.2"/><circle cx="125.7" cy="705.1" r="1.2"/><circle cx="135.3" cy="702.5" r="1.2"/><circle cx="130.9" cy="710.3" r="1.2"/><circle cx="169.2" cy="641.4" r="1.2"/><circle cx="174.3" cy="644.5" r="1.2"/><circle cx="215.7" cy="647.9" r="1.2"/><circle cx="168.6" cy="652.9" r="1.2"/><circle cx="166.1" cy="656.7" r="1.2"/><circle cx="179.9" cy="653.6" r="1.2"/><circle cx="185.9" cy="654.2" r="1.2"/><circle cx="189.1" cy="654.8" r="1.2"/><circle cx="189.7" cy="653.6" r="1.2"/><circle cx="209.4" cy="655.7" r="1.2"/><circle cx="212.5" cy="655.7" r="1.2"/><circle cx="155.8" cy="658.2" r="1.2"/><circle cx="184.7" cy="659" r="1.2"/><circle cx="198.7" cy="662" r="1.2"/><circle cx="173.6" cy="662.7" r="1.2"/><circle cx="164.6" cy="665.3" r="1.2"/><circle cx="180.9" cy="665.8" r="1.2"/><circle cx="197.1" cy="665.1" r="1.2"/><circle cx="160.4" cy="667.8" r="1.2"/><circle cx="151.7" cy="670.1" r="1.2"/><circle cx="147.3" cy="671.5" r="1.2"/><circle cx="185.8" cy="668" r="1.2"/><circle cx="210" cy="667.4" r="1.2"/><circle cx="191.2" cy="670.1" r="1.2"/><circle cx="191.6" cy="673.3" r="1.2"/><circle cx="206" cy="673" r="1.2"/><circle cx="205" cy="674.9" r="1.2"/><circle cx="200.2" cy="674.5" r="1.2"/><circle cx="214.4" cy="676.8" r="1.2"/><circle cx="208.1" cy="678.1" r="1.2"/><circle cx="158.6" cy="673.3" r="1.2"/><circle cx="154.8" cy="673.7" r="1.2"/><circle cx="155.7" cy="680.3" r="1.2"/><circle cx="197.5" cy="679.6" r="1.2"/><circle cx="200.6" cy="680.2" r="1.2"/><circle cx="216.1" cy="680.6" r="1.2"/><circle cx="221.7" cy="681.8" r="1.2"/><circle cx="226.7" cy="680.2" r="1.2"/><circle cx="228.5" cy="683.1" r="1.2"/><circle cx="228" cy="687.7" r="1.2"/><circle cx="194.1" cy="684.3" r="1.2"/><circle cx="200.9" cy="686.2" r="1.2"/><circle cx="202.7" cy="685.8" r="1.2"/><circle cx="209.4" cy="686.2" r="1.2"/><circle cx="169.9" cy="684.3" r="1.2"/><circle cx="164.8" cy="687.9" r="1.2"/><circle cx="158.2" cy="689.7" r="1.2"/><circle cx="161.9" cy="689.4" r="1.2"/><circle cx="167.3" cy="690" r="1.2"/><circle cx="171.1" cy="692.5" r="1.2"/><circle cx="162.1" cy="693.1" r="1.2"/><circle cx="148.3" cy="693.4" r="1.2"/><circle cx="151.4" cy="695" r="1.2"/><circle cx="215.9" cy="691.6" r="1.2"/><circle cx="186.2" cy="697.5" r="1.2"/><circle cx="215.4" cy="699.4" r="1.2"/><circle cx="220.7" cy="702.5" r="1.2"/><circle cx="222.6" cy="703.8" r="1.2"/><circle cx="198.5" cy="703.8" r="1.2"/><circle cx="204.4" cy="704.4" r="1.2"/><circle cx="152.9" cy="704.4" r="1.2"/><circle cx="174.3" cy="704.8" r="1.2"/><circle cx="188.7" cy="705.1" r="1.2"/><circle cx="210.4" cy="707.9" r="1.2"/><circle cx="199.7" cy="708.8" r="1.2"/><circle cx="183" cy="708.8" r="1.2"/><circle cx="179.9" cy="710.1" r="1.2"/><circle cx="195.3" cy="701.3" r="1.2"/><circle cx="193.7" cy="687.5" r="1.2"/><circle cx="233" cy="698.4" r="1.2"/><circle cx="236" cy="701.5" r="1.2"/><circle cx="233.3" cy="705.1" r="1.2"/><circle cx="251.2" cy="705.9" r="1.2"/><circle cx="247.7" cy="710.4" r="1.2"/><circle cx="241.4" cy="710.7" r="1.2"/><circle cx="130.7" cy="711.4" r="1.2"/><circle cx="142" cy="715.1" r="1.2"/><circle cx="127.8" cy="718.8" r="1.2"/><circle cx="123.2" cy="725.4" r="1.2"/><circle cx="126.5" cy="724.8" r="1.2"/><circle cx="124.4" cy="727.1" r="1.2"/><circle cx="104.3" cy="729.2" r="1.2"/><circle cx="105.8" cy="732.6" r="1.2"/><circle cx="111.5" cy="733.9" r="1.2"/><circle cx="113.1" cy="738" r="1.2"/><circle cx="124.4" cy="736.7" r="1.2"/><circle cx="140" cy="733.6" r="1.2"/><circle cx="130.1" cy="743" r="1.2"/><circle cx="134.7" cy="743.9" r="1.2"/><circle cx="144.1" cy="743" r="1.2"/><circle cx="61.6" cy="747.4" r="1.2"/><circle cx="62.5" cy="749.3" r="1.2"/><circle cx="71.3" cy="748.9" r="1.2"/><circle cx="108.7" cy="747.7" r="1.2"/><circle cx="121.1" cy="747.4" r="1.2"/><circle cx="85.1" cy="751.8" r="1.2"/><circle cx="102.3" cy="750.8" r="1.2"/><circle cx="105.2" cy="754.9" r="1.2"/><circle cx="112.7" cy="753.3" r="1.2"/><circle cx="66.3" cy="754.9" r="1.2"/><circle cx="62.3" cy="758.5" r="1.2"/><circle cx="64.4" cy="762.1" r="1.2"/><circle cx="68.4" cy="762.5" r="1.2"/><circle cx="99.8" cy="758.5" r="1.2"/><circle cx="95.5" cy="765.6" r="1.2"/><circle cx="92.6" cy="767.2" r="1.2"/><circle cx="80.5" cy="768.4" r="1.2"/><circle cx="73.2" cy="772.9" r="1.2"/><circle cx="61.3" cy="775.9" r="1.2"/><circle cx="86.7" cy="773.8" r="1.2"/><circle cx="105.2" cy="769.6" r="1.2"/><circle cx="103.6" cy="774.8" r="1.2"/><circle cx="100.2" cy="777.2" r="1.2"/><circle cx="118.4" cy="771.9" r="1.2"/><circle cx="82.3" cy="780" r="1.2"/><circle cx="92" cy="782.8" r="1.2"/><circle cx="93.9" cy="783.2" r="1.2"/><circle cx="119" cy="784.1" r="1.2"/><circle cx="140" cy="781.1" r="1.2"/><circle cx="112.1" cy="765.9" r="1.2"/><circle cx="117.1" cy="764.4" r="1.2"/><circle cx="120.3" cy="761.2" r="1.2"/><circle cx="150.4" cy="714.5" r="1.2"/><circle cx="164" cy="712.6" r="1.2"/><circle cx="163" cy="716" r="1.2"/><circle cx="179" cy="712.3" r="1.2"/><circle cx="183" cy="716.6" r="1.2"/><circle cx="186.2" cy="715.4" r="1.2"/><circle cx="191.2" cy="712.9" r="1.2"/><circle cx="211.9" cy="712.9" r="1.2"/><circle cx="222.6" cy="715.4" r="1.2"/><circle cx="162.1" cy="722.7" r="1.2"/><circle cx="177.8" cy="719.8" r="1.2"/><circle cx="204.4" cy="719.8" r="1.2"/><circle cx="211" cy="720" r="1.2"/><circle cx="152.3" cy="724.8" r="1.2"/><circle cx="154.2" cy="729.8" r="1.2"/><circle cx="193.7" cy="728.6" r="1.2"/><circle cx="204.1" cy="727.3" r="1.2"/><circle cx="160.2" cy="734.5" r="1.2"/><circle cx="171.1" cy="733.6" r="1.2"/><circle cx="168.6" cy="737.7" r="1.2"/><circle cx="169.9" cy="738.9" r="1.2"/><circle cx="175.9" cy="737.7" r="1.2"/><circle cx="200" cy="731.7" r="1.2"/><circle cx="212.3" cy="733.6" r="1.2"/><circle cx="217.3" cy="730.5" r="1.2"/><circle cx="222" cy="734" r="1.2"/><circle cx="229.9" cy="731.7" r="1.2"/><circle cx="230.7" cy="727.3" r="1.2"/><circle cx="205.4" cy="737.4" r="1.2"/><circle cx="216.3" cy="740.8" r="1.2"/><circle cx="214.2" cy="741.8" r="1.2"/><circle cx="230.1" cy="741.5" r="1.2"/><circle cx="223.8" cy="743" r="1.2"/><circle cx="151.4" cy="741.5" r="1.2"/><circle cx="154.2" cy="748" r="1.2"/><circle cx="161.7" cy="751.2" r="1.2"/><circle cx="147.9" cy="752.2" r="1.2"/><circle cx="161.1" cy="752.4" r="1.2"/><circle cx="179.5" cy="751.2" r="1.2"/><circle cx="188.1" cy="749.7" r="1.2"/><circle cx="183.7" cy="752.4" r="1.2"/><circle cx="193.7" cy="753.7" r="1.2"/><circle cx="197.8" cy="753.7" r="1.2"/><circle cx="200" cy="747.4" r="1.2"/><circle cx="222.6" cy="750.5" r="1.2"/><circle cx="214.4" cy="758.1" r="1.2"/><circle cx="218.2" cy="760" r="1.2"/><circle cx="180.5" cy="761.8" r="1.2"/><circle cx="193.7" cy="762.5" r="1.2"/><circle cx="208.1" cy="762.9" r="1.2"/><circle cx="202.5" cy="765.2" r="1.2"/><circle cx="168" cy="765.6" r="1.2"/><circle cx="181.5" cy="766.2" r="1.2"/><circle cx="182.8" cy="767.5" r="1.2"/><circle cx="200.6" cy="768.8" r="1.2"/><circle cx="179.6" cy="772.5" r="1.2"/><circle cx="176.8" cy="773.8" r="1.2"/><circle cx="166.5" cy="770.6" r="1.2"/><circle cx="169.5" cy="776" r="1.2"/><circle cx="180.9" cy="776.3" r="1.2"/><circle cx="180.5" cy="778.2" r="1.2"/><circle cx="201.9" cy="776.9" r="1.2"/><circle cx="207.5" cy="775" r="1.2"/><circle cx="217.6" cy="772.5" r="1.2"/><circle cx="218.8" cy="778.2" r="1.2"/><circle cx="215" cy="780" r="1.2"/><circle cx="158.2" cy="779.8" r="1.2"/><circle cx="158.6" cy="784.4" r="1.2"/><circle cx="170.5" cy="784.2" r="1.2"/><circle cx="226.3" cy="775" r="1.2"/><circle cx="238.3" cy="713.3" r="1.2"/><circle cx="241.4" cy="712" r="1.2"/><circle cx="247.7" cy="711.4" r="1.2"/><circle cx="241.8" cy="719.4" r="1.2"/><circle cx="260.6" cy="723.2" r="1.2"/><circle cx="234.8" cy="729" r="1.2"/><circle cx="254.3" cy="728.3" r="1.2"/><circle cx="260.6" cy="741.1" r="1.2"/><circle cx="251.8" cy="746.2" r="1.2"/><circle cx="264" cy="752.2" r="1.2"/><circle cx="272.2" cy="750.2" r="1.2"/><circle cx="271.9" cy="755.2" r="1.2"/><circle cx="275.7" cy="755.6" r="1.2"/><circle cx="247.7" cy="753.1" r="1.2"/><circle cx="255.2" cy="754.3" r="1.2"/><circle cx="254" cy="759.3" r="1.2"/><circle cx="257.1" cy="761.2" r="1.2"/><circle cx="250.8" cy="761.2" r="1.2"/><circle cx="242.7" cy="760" r="1.2"/><circle cx="281.3" cy="761.2" r="1.2"/><circle cx="245.2" cy="765" r="1.2"/><circle cx="239.5" cy="765.2" r="1.2"/><circle cx="248.9" cy="766.6" r="1.2"/><circle cx="255.2" cy="766.2" r="1.2"/><circle cx="247.1" cy="769.6" r="1.2"/><circle cx="253.6" cy="769.6" r="1.2"/><circle cx="266.5" cy="769.6" r="1.2"/><circle cx="278.7" cy="769.8" r="1.2"/><circle cx="257.7" cy="772.9" r="1.2"/><circle cx="265.9" cy="773.8" r="1.2"/><circle cx="270.9" cy="774.8" r="1.2"/><circle cx="235.8" cy="772.5" r="1.2"/><circle cx="246.1" cy="774.2" r="1.2"/><circle cx="251.8" cy="776.3" r="1.2"/><circle cx="234.8" cy="776.7" r="1.2"/><circle cx="269.7" cy="778.2" r="1.2"/><circle cx="245.2" cy="779.4" r="1.2"/><circle cx="258.1" cy="783.2" r="1.2"/><circle cx="250.6" cy="784.4" r="1.2"/><circle cx="269.4" cy="783.8" r="1.2"/><circle cx="285.7" cy="783.2" r="1.2"/><circle cx="290" cy="776.5" r="1.2"/><circle cx="295.7" cy="783.8" r="1.2"/><circle cx="240.2" cy="785.7" r="1.2"/><circle cx="72.9" cy="788.3" r="1.2"/><circle cx="70" cy="791" r="1.2"/><circle cx="79.8" cy="787.6" r="1.2"/><circle cx="88.6" cy="788.5" r="1.2"/><circle cx="93.3" cy="786.6" r="1.2"/><circle cx="93.3" cy="793.3" r="1.2"/><circle cx="102.7" cy="787.6" r="1.2"/><circle cx="109.3" cy="787.6" r="1.2"/><circle cx="121.5" cy="791.3" r="1.2"/><circle cx="122.8" cy="792.9" r="1.2"/><circle cx="111.9" cy="796" r="1.2"/><circle cx="114.9" cy="797.9" r="1.2"/><circle cx="131.6" cy="795.8" r="1.2"/><circle cx="141" cy="798.6" r="1.2"/><circle cx="141.6" cy="799.6" r="1.2"/><circle cx="138.8" cy="802.3" r="1.2"/><circle cx="137" cy="807.3" r="1.2"/><circle cx="144.1" cy="804.8" r="1.2"/><circle cx="107.7" cy="801.3" r="1.2"/><circle cx="103.3" cy="803.3" r="1.2"/><circle cx="90.5" cy="804.8" r="1.2"/><circle cx="95.5" cy="813" r="1.2"/><circle cx="105.8" cy="814.9" r="1.2"/><circle cx="125.3" cy="813.2" r="1.2"/><circle cx="145.4" cy="816.1" r="1.2"/><circle cx="93.6" cy="823" r="1.2"/><circle cx="128.8" cy="825.5" r="1.2"/><circle cx="113" cy="831.2" r="1.2"/><circle cx="161.1" cy="793.9" r="1.2"/><circle cx="163" cy="797" r="1.2"/><circle cx="147.9" cy="798.6" r="1.2"/><circle cx="159.2" cy="789.8" r="1.2"/><circle cx="172" cy="800.8" r="1.2"/><circle cx="157.1" cy="808" r="1.2"/><circle cx="179.3" cy="793.8" r="1.2"/><circle cx="183" cy="796" r="1.2"/><circle cx="181.8" cy="799.2" r="1.2"/><circle cx="194.7" cy="797.9" r="1.2"/><circle cx="190.6" cy="801.1" r="1.2"/><circle cx="207.3" cy="787.5" r="1.2"/><circle cx="207.5" cy="791" r="1.2"/><circle cx="207.1" cy="795" r="1.2"/><circle cx="213.8" cy="789.8" r="1.2"/><circle cx="215.7" cy="792.9" r="1.2"/><circle cx="216.9" cy="795.4" r="1.2"/><circle cx="210.4" cy="802.9" r="1.2"/><circle cx="230.1" cy="801.1" r="1.2"/><circle cx="231.4" cy="790.4" r="1.2"/><circle cx="227.4" cy="808" r="1.2"/><circle cx="192.5" cy="808" r="1.2"/><circle cx="190.9" cy="810.2" r="1.2"/><circle cx="205.6" cy="816.1" r="1.2"/><circle cx="227.4" cy="814.2" r="1.2"/><circle cx="230.1" cy="816.5" r="1.2"/><circle cx="228.2" cy="820.8" r="1.2"/><circle cx="166.7" cy="819.3" r="1.2"/><circle cx="152.3" cy="823" r="1.2"/><circle cx="167.3" cy="823.7" r="1.2"/><circle cx="146.4" cy="816.1" r="1.2"/><circle cx="236.8" cy="787.9" r="1.2"/><circle cx="240.5" cy="786.6" r="1.2"/><circle cx="238" cy="790.8" r="1.2"/><circle cx="243.3" cy="790.4" r="1.2"/><circle cx="250.2" cy="791" r="1.2"/><circle cx="245.8" cy="795.4" r="1.2"/><circle cx="266.1" cy="795.2" r="1.2"/><circle cx="280.1" cy="799.2" r="1.2"/><circle cx="302.1" cy="800.1" r="1.2"/><circle cx="252.1" cy="802.7" r="1.2"/><circle cx="259" cy="801.1" r="1.2"/><circle cx="275.9" cy="804.2" r="1.2"/><circle cx="283.9" cy="809.9" r="1.2"/><circle cx="234.8" cy="810.7" r="1.2"/><circle cx="265.9" cy="811.5" r="1.2"/><circle cx="233.3" cy="819.3" r="1.2"/><circle cx="244.2" cy="829.3" r="1.2"/><circle cx="236.1" cy="835.3" r="1.2"/><circle cx="55.3" cy="748.1" r="1.2"/><circle cx="48.9" cy="769.4" r="1.2"/><circle cx="117.3" cy="787.1" r="1.2"/><circle cx="146.6" cy="773.8" r="1.2"/><circle cx="166.6" cy="762.3" r="1.2"/><circle cx="125.7" cy="761.2" r="1.2"/><circle cx="139.4" cy="778.8" r="1.2"/><circle cx="153" cy="779.3" r="1.2"/><circle cx="172.4" cy="759.5" r="1.2"/><circle cx="127.9" cy="773.8" r="1.2"/><circle cx="151.7" cy="789.8" r="1.2"/><circle cx="132.9" cy="789.8" r="1.2"/><circle cx="137.6" cy="771.7" r="1.2"/><circle cx="161.2" cy="774.4" r="1.2"/><circle cx="134.2" cy="754.4" r="1.2"/><circle cx="120.4" cy="756.2" r="1.2"/><circle cx="128.2" cy="786.1" r="1.2"/><circle cx="149.8" cy="764.4" r="1.2"/><circle cx="124.6" cy="751.9" r="1.2"/><circle cx="164" cy="780.6" r="1.2"/><circle cx="123.4" cy="773" r="1.2"/><circle cx="130.8" cy="781" r="1.2"/><circle cx="146.2" cy="771.7" r="1.2"/><circle cx="137.9" cy="772" r="1.2"/><circle cx="137.9" cy="782.9" r="1.2"/><circle cx="117.3" cy="777.4" r="1.2"/><circle cx="127.5" cy="759.1" r="1.2"/><circle cx="234.2" cy="765.2" r="1.2"/><circle cx="214.6" cy="774" r="1.2"/><circle cx="241.7" cy="759.2" r="1.2"/><circle cx="212.7" cy="765.2" r="1.2"/><circle cx="193.7" cy="754.4" r="1.2"/><circle cx="235" cy="763.6" r="1.2"/><circle cx="241.2" cy="767.9" r="1.2"/><circle cx="276.8" cy="749.2" r="1.2"/><circle cx="200.2" cy="735.1" r="1.2"/><circle cx="257.4" cy="749.9" r="1.2"/><circle cx="192.9" cy="770.3" r="1.2"/><circle cx="216.7" cy="777.9" r="1.2"/><circle cx="229.1" cy="750.8" r="1.2"/><circle cx="228" cy="768" r="1.2"/><circle cx="229.6" cy="787" r="1.2"/><circle cx="223.9" cy="754.4" r="1.2"/><circle cx="240.2" cy="774.9" r="1.2"/><circle cx="241.4" cy="760.4" r="1.2"/><circle cx="235.8" cy="759.1" r="1.2"/><circle cx="261.2" cy="765.2" r="1.2"/><circle cx="232.8" cy="780.8" r="1.2"/><circle cx="213.7" cy="762.8" r="1.2"/><circle cx="267.7" cy="776.8" r="1.2"/><circle cx="218.6" cy="776.1" r="1.2"/><circle cx="242.7" cy="750.7" r="1.2"/><circle cx="237.7" cy="751.8" r="1.2"/><circle cx="220.9" cy="768" r="1.2"/><circle cx="240.9" cy="743.4" r="1.2"/><circle cx="211.5" cy="752.7" r="1.2"/><circle cx="227.2" cy="782" r="1.2"/><circle cx="166" cy="708.8" r="1.2"/><circle cx="187.6" cy="717.3" r="1.2"/><circle cx="165.4" cy="704.3" r="1.2"/><circle cx="142.8" cy="674.7" r="1.2"/><circle cx="194" cy="689.4" r="1.2"/><circle cx="182.5" cy="684.1" r="1.2"/><circle cx="194.5" cy="703.3" r="1.2"/><circle cx="167.1" cy="716.7" r="1.2"/><circle cx="178" cy="725.5" r="1.2"/><circle cx="188.3" cy="683.7" r="1.2"/><circle cx="156.3" cy="683" r="1.2"/><circle cx="170.3" cy="708.4" r="1.2"/><circle cx="173.9" cy="718.6" r="1.2"/><circle cx="168.8" cy="704.2" r="1.2"/><circle cx="156.3" cy="683.7" r="1.2"/><circle cx="153.4" cy="706.5" r="1.2"/><circle cx="181" cy="730.7" r="1.2"/><circle cx="170.2" cy="719.6" r="1.2"/><circle cx="159.6" cy="727.4" r="1.2"/><circle cx="210.8" cy="674.6" r="1.2"/><circle cx="174.2" cy="694.7" r="1.2"/><circle cx="188.7" cy="687.8" r="1.2"/><circle cx="194.8" cy="694.3" r="1.2"/><circle cx="160" cy="687.7" r="1.2"/><circle cx="143.4" cy="693" r="1.2"/></g>
<path class="g" style="stroke-width:1.05" d="M131.9 669.9L131.9 711.3M135.7 683.1L135.7 711.3M137.2 688.1L137.2 711.3M139.1 691.9L139.1 711.3M140.7 705.1L140.7 711.3M119.6 708.2L119.6 711.3M145.8 699.4L145.8 711.3M145.8 657.3L145.8 663M189.3 642.7L198.1 642.7M189.3 643.2L198.1 643.2M169.2 651.3L173.6 651.3M189.3 651.3L191.8 651.3M169 651.7L169 672.4M147.5 683.1H179.6V661.5H147.5ZM151.7 666.1L179.9 666.1M201.9 652.3L201.9 678.7M196.8 658.6L208.8 658.6M201.9 663.9L228.9 663.9M203.1 666.1L215.7 666.1M215.4 666.1L215.4 686.2M194.3 667.6L200 667.6M183.7 670.3L206.3 670.3M183.7 670.8L206.3 670.8M187.4 671.8L205 671.8M188.7 673.7L195 673.7M183.7 674.9L187.4 674.9M154.8 688.7H179.9V672.4H154.8ZM156 686.2H173V674.9H156ZM175.5 666.1L175.5 701.3M174.9 666.1L174.9 701.3M174.3 669.9L174.3 696.3M173 671.2L173 696.3M176.8 668.6L176.8 698.8M178 673.7L178 692.5M164.8 698.1H173V681.8H164.8ZM156.7 688.7H162.3V679.3H156.7ZM151.9 686.2L151.9 711.3M157.9 688.7L157.9 711.3M146 697.3L178.6 697.3M146 697.8L178.6 697.8M146.6 712.6H164.8V698.8H146.6ZM179.1 693.8L179.1 707.6M179.6 693.8L179.6 707.6M180.1 693.8L180.1 707.6M181.8 695H195.6V679.3H181.8ZM186.2 679.3L186.2 711.3M189.3 677.4L189.3 711.3M182.4 686.2L196.2 686.2M198.1 690H205.6V682.5H198.1ZM198.5 689.6H205.3V682.8H198.5ZM198.7 700H207.5V691.2H198.7ZM191.2 690.6L216.3 690.6M200.6 692.9L225.7 692.9M200.6 693.4L225.7 693.4M207.5 672.4L207.5 698.8M210.7 679.3L210.7 706.3M212.2 686.2L212.2 706.3M183.7 695.6L205 695.6M181.2 698.8L198.7 698.8M182.4 701.3L198.7 701.3M177.4 704.4L197.5 704.4M176.1 707.6L196.2 707.6M176.1 701.3L176.1 708.8M194.3 695L194.3 711.3M190.6 695L190.6 711.3M218.2 709.4H222.6V700.7H218.2ZM197.5 678.7L197.5 688.7M237 676.8L237 711.3M119.6 711L119.6 744.9M131.9 711L131.9 743.6M135.7 711L135.7 736.1M137.8 711L137.8 733.6M139.7 711L139.7 729.8M141.6 711L141.6 727.3M110.8 726.1L146.6 726.1M130.3 729.2L146.6 729.2M100.2 744.9L146.6 744.9M115.2 747.2L146.6 747.2M115.2 747.7L146.6 747.7M60.6 749.9L60.6 777.5M63.4 750.5L63.4 777.5M76.3 752.4L76.3 757.5M77.6 754.9L77.6 776.3M82 749.9L82 756.2M83.6 749.9L83.6 786.3M86.1 750.5L86.1 786.3M86.6 750.5L86.6 786.3M91.4 749.3L91.4 756.2M97.7 749.3L97.7 760M91.4 759.3L97.7 759.3M74.2 764.4L120.3 764.4M106.5 748.7L106.5 786.3M108.3 749.9L108.3 778.8M113.4 752.4L113.4 781.3M111.5 752.4L111.5 766.2M101.4 753.7L146.6 753.7M97.7 756.8L146.6 756.8M97.7 760.6L146.6 760.6M98.9 762.5L146.6 762.5M118.1 747.4L118.1 786.3M118.6 747.4L118.6 786.3M125.3 747.4L125.3 786.3M128.6 747.4L128.6 786.3M129 747.4L129 786.3M121.5 747.4L121.5 786.3M110.2 770L146.6 770M115.2 771.9L126.5 771.9M115.2 773.8L126.5 773.8M101.4 775L135.3 775M103.9 776.9L146.6 776.9M82.6 779.2L146.6 779.2M82.6 779.7L146.6 779.7M151.9 711L151.9 726.1M157.7 711L157.7 786.3M158.2 711L158.2 786.3M146 716L216.3 716M157.9 719.2L201.2 719.2M146 723.6L181.2 723.6M157.9 726.1L205 726.1M146 739.9L181.2 739.9M146 742.4L232.6 742.4M171.1 744.6L232.6 744.6M171.1 745.1L232.6 745.1M201.2 734.9L232.6 734.9M189.9 738L232.6 738M180.9 711L180.9 786.3M181.4 711L181.4 786.3M183 711L183 754.9M186.2 711L186.2 736.1M189.3 711L189.3 743.6M194.3 711L194.3 723.6M197.5 711L197.5 717.3M201.2 729.8L201.2 786.3M211.9 711L211.9 786.3M215.7 711L215.7 748.7M221.3 742.4L221.3 786.3M228.2 729.8L228.2 761.2M200 744.9H233.9V729.8H200ZM171.7 744.9L171.7 754.9M176.1 744.9L176.1 754.9M174.3 744.9L174.3 753.7M237 711L237 743.6M232 738L257.1 738M232 744L269.7 744M232 744.5L269.7 744.5M239.5 746.2L268.4 746.2M268.4 749.7L290.4 749.7M239.9 743.6L239.9 756.2M240.4 743.6L240.4 756.2M263.1 743.6L263.1 786.3M263.6 743.6L263.6 786.3M262.1 744.9L262.1 786.3M268.4 744.9L268.4 786.3M271.5 744.9L271.5 767.5M274.1 760L274.1 771.3M277.8 763.7L277.8 786.3M283.2 758.7L283.2 777.5M239.5 755.9L264.6 755.9M239.5 756.4L264.6 756.4M247.1 753.7L264.6 753.7M232 764.7L267.2 764.7M232 765.2L267.2 765.2M244.6 768.1L265.9 768.1M232 762.5L263.4 762.5M244.6 743.6L244.6 754.9M247.1 743.6L247.1 754.9M249.6 743.6L249.6 766.2M242.7 743.6L242.7 754.9M83.6 786L83.6 791.6M86.1 786L86.1 797.9M101.4 788.5L146.6 788.5M111.5 797.3H128.4V788.5H111.5ZM111.5 797.3L146.6 797.3M128.2 786L128.2 805.5M128.7 786L128.7 805.5M126.5 786L126.5 796M137.6 811.7H147.9V797.9H137.6ZM95.5 802.1L137.8 802.1M90.1 805.5L122.1 805.5M73.2 809.2L146.6 809.2M126.2 818.4L146.6 818.4M137.8 827.4L146.6 827.4M146 788.3L166.1 788.3M146 788.8L166.1 788.8M146 790.8L176.8 790.8M146 791.3L176.8 791.3M146 792.9L159.8 792.9M146 795.4L177.4 795.4M159.6 808.6H178.4V795.4H159.6ZM172 801.1L172 806.1M176.1 798.6L176.1 806.1M146 797.9L159.8 797.9M147.3 800.4L164.8 800.4M146 809.2L177.4 809.2M146 811.7L175.5 811.7M146 818.4L174.9 818.4M157.1 823.3L167.3 823.3M146 827.7L174.3 827.7M178.6 827.7L232.6 827.7M148.5 786L148.5 791M153.5 786L153.5 789.8M159.2 786L159.2 808.6M164.8 786L164.8 789.8M178.6 791.4L232.6 791.4M178.6 791.9L232.6 791.9M184.3 796H191.2V783.5H184.3ZM181.8 786L181.8 792.3M197.5 786L197.5 792.3M201.2 786L201.2 792.3M209.4 794.2H216.3V783.5H209.4ZM223.8 796H230.4V783.5H223.8ZM220.1 786L220.1 792.3M181.8 798.9L222.6 798.9M181.8 799.4L222.6 799.4M183.7 801.1L212.5 801.1M182.4 795.4L196.2 795.4M179.3 806.7L228.2 806.7M179.3 809.2L223.8 809.2M193.1 815.3L232.6 815.3M201.2 799.8L232.6 799.8M249.6 789.5H273.4V782.2H249.6ZM277.8 786L277.8 796M268.7 786L268.7 814.2M258.1 786L258.1 807.3M247.7 786L247.7 792.3M242.7 786L242.7 800.4M233.9 786L233.9 799.8M232 791.6L268.4 791.6M232 794.2L247.1 794.2M232 799.8L250.8 799.8M232 815.3L264.6 815.3M232 827.7L272.8 827.7M55.1 751L55.1 774.2M45.8 748.8L45.8 751.5M134.9 756.3L168.8 756.3M98.8 767.5H133.6V763.2H98.8ZM125 778.9H158.9V776.8H125ZM112.6 787.3H153.3V764.6H112.6ZM130.9 773.1H171.4V762.3H130.9ZM125 768.5L138.6 768.5M128.9 769.2H142.5V756.6H128.9ZM146.8 775.5H173V758.8H146.8ZM156.2 770.3L166.1 770.3M129.2 787.4L129.2 765.2M116.8 773.7L116.8 766.1M114.6 766.6L140.5 766.6M112.3 762.5L136.7 762.5M119.2 762.9L125.7 762.9M142.5 770.8L162.5 770.8M144.7 782.1H170.2V760.4H144.7ZM132.6 759.2L132.6 757M117.6 772.6L117.6 769.2M114.4 778.7H138.7V765.5H114.4ZM110.8 760.2L139.6 760.2M144.2 776.1L144.2 760.6M141.8 789L141.8 781.1M132.1 774.1L132.1 771.7M120.3 770.1H149V760.1H120.3ZM137.6 760.1L149.3 760.1M265.6 775.5L265.6 771.5M214.9 781L231.8 781M206.1 770L227.6 770M221.9 771.3H228.3V758.6H221.9ZM186.8 761.7H211.8V746.8H186.8ZM240.6 773.1L240.6 759.4M201.3 772.6L240 772.6M249.8 781.1L249.8 770.9M218.6 768.7L252.2 768.7M206.1 776.2L206.1 762.7M184.5 752.4L223.6 752.4M237.9 778H261.5V770.9H237.9ZM222.4 776.8L222.4 768.5M187.2 773.5H214.6V764.3H187.2ZM185.8 770.9L185.8 767.1M248.8 766.3L248.8 759M223.3 764.4H260.6V756.7H223.3ZM222.7 775.4H254.8V772.6H222.7ZM252.9 769L252.9 761.1M216 768H247.2V757.1H216ZM232 767.8L238.8 767.8M216.2 773.3H234.2V770.5H216.2ZM228.4 792L228.4 772.7M213.3 785.9H227.2V768.8H213.3ZM221.5 761.5L259.6 761.5M175.4 682.3L186.9 682.3M170.3 708.4H193.1V695.6H170.3ZM180.8 703.6L203.6 703.6M189 694.8L189 673.2M167.8 720.3H188.7V696.5H167.8ZM201.2 710.7L201.2 682.6M172.1 694.3L198 694.3M170.1 684.3L182.1 684.3M160.1 738.7L160.1 703.8M196.1 720.9L196.1 688.2M191.6 720.8L191.6 709.7M172.3 725.4L172.3 692.9M190.2 691.9H202.7V682.8H190.2ZM180.8 748.8H184.6V724.3H180.8ZM166.3 717.7L190.2 717.7M187.1 715.3H191.6V691.2H187.1ZM175 691.7H192.4V682.3H175ZM173.5 730.7H199.3V696.8H173.5ZM158.5 698.2L176.6 698.2M161.6 739.4L161.6 720.9M167.7 689.1L193.9 689.1M182.9 701.9L199.5 701.9M134 758.6L169.2 758.6M115 769.6H141.8V767.2H115ZM130.4 752.8L130.4 747.1M121.8 765.8L121.8 763.7M155 771.5L172.2 771.5M134.2 770L134.2 760.2M138.2 782.9H155.4V776.7H138.2ZM119.3 792.5L159 792.5M147.4 762.3H156.7V750.3H147.4ZM150 777.2H166.3V765.9H150ZM144 782.7L144 774.4M139.1 762.4L172.9 762.4M113.5 780.2H147.6V762.3H113.5ZM146.9 789.2L146.9 776.5M143.9 755.8L162.3 755.8M126.5 770.5H158.8V751.7H126.5ZM137 766.2H166.2V747.7H137ZM152 770.5H158.9V757.7H152ZM143.7 777.4H158V754.7H143.7ZM138.2 783.8L138.2 779.1M146.8 790.5L146.8 766.5M124.3 760.3H153.7V749.8H124.3ZM129.3 767.4L170.5 767.4M132.1 751.1L137.5 751.1M136.4 778.3L136.4 769.5M125.8 791.7H166.2V771.7H125.8ZM135.9 771.8L165.4 771.8M121.3 786.9H146.5V774.2H121.3ZM155.7 766.1L162.5 766.1M147.7 774.1L174.6 774.1M130.7 772.9H154.7V763.3H130.7ZM149.3 758.8L149.3 751.5M162 771.7L162 753.2M145.1 782.9H156.5V766.6H145.1ZM115.9 776.5L124 776.5M153.7 757.8H164.1V745.9H153.7ZM129.9 776.3H170.4V765.7H129.9ZM156.2 794.6L156.2 781M139.8 771.9H155V757.2H139.8ZM154.2 773.4H164.6V766H154.2ZM142.6 794.9H174.6V777.8H142.6ZM127.9 756.6L127.9 747.2M144.6 777.7L158.8 777.7M129.5 776.2L139.9 776.2M133.2 772.5H166.3V761.4H133.2ZM142.8 764.1L142.8 751.3M139.9 776.2H162.7V771.9H139.9ZM114.7 785.6H130.5V779.8H114.7ZM124.4 783H131V759.8H124.4ZM149 762.5H160.5V755.9H149ZM124.2 779.8L147.1 779.8M138.3 781.6L138.3 778.7M111.6 775.4H132V764H111.6ZM108.6 773L133.5 773M101.6 768.5H131.7V755.6H101.6ZM99.7 782.4H128.3V763.6H99.7ZM119 779.5H133.4V769.3H119ZM103.7 776.8H123.3V763.7H103.7ZM111.7 763.3L111.7 748M237.9 756.4H261.3V748.3H237.9ZM237.7 773L237.7 762.4M185.9 753.2L218.6 753.2M216.9 772.5L257.2 772.5M218.3 770H253.8V745.6H218.3ZM202 769.7H218.7V754.2H202ZM252.6 773.9H262.4V756.7H252.6ZM195.3 770.5L195.3 763.6M206.7 783.7H216.8V758.8H206.7ZM208.5 773.4H240.3V761.9H208.5ZM233.5 786.6H257.2V766.6H233.5ZM180.7 772.4H220.8V764.6H180.7ZM249.7 761.5L265.1 761.5M182 781.9H198.8V761.5H182ZM232.3 780.8L232.3 767.6M259.8 781.7H265.4V769.3H259.8ZM191.7 749H229V745.6H191.7ZM240 768.9H262.9V764.6H240ZM202.6 767.3L202.6 747M237 782.6H245.3V763.8H237ZM215.3 769.8H239.1V766.1H215.3ZM189.8 787.1H216.4V776.1H189.8ZM177.9 769.4H217.3V757.8H177.9ZM192.9 777.7L219.6 777.7M184.7 780.1H204.4V767.9H184.7ZM232.6 783.8L251.7 783.8M187.9 778.5H220.4V756.8H187.9ZM235.8 765.9H251.9V753.7H235.8ZM231.3 786.6L231.3 767.5M224.6 758.4L259.1 758.4M247.9 787.1H258.4V784.8H247.9ZM202.3 785.5L202.3 779.3M199.1 762.3L225.6 762.3M182.7 785.4H221.3V779H182.7ZM220.2 754.3L220.2 748.7M247.5 754.9H265.6V747H247.5ZM201.7 752H220.7V749.8H201.7ZM185.6 783L185.6 760.2M200.6 772.3L243.1 772.3M191.6 775.1L191.6 757.3M239.9 768.2L249.4 768.2M234.2 763.3L267 763.3M257.6 787.3H263.1V765.1H257.6ZM243 773.6L243 769.3M220.1 777.7L220.1 763.4M186.9 781.1L186.9 756.4M235.2 767.3L243.1 767.3M200.7 771.8L200.7 757.3M245.4 760.4L245.4 758.3M216.6 766.2H228.4V763.4H216.6ZM191 774.9L202.1 774.9M203 772.9H221.8V755.8H203ZM202.3 770.7H230.8V754.7H202.3ZM195.2 769.6L214.4 769.6M194.2 761.2H218.6V757.3H194.2ZM211.4 769H223.3V760.9H211.4ZM201.6 782.5L201.6 766.9M234.7 755.9L250.6 755.9M255.8 777.7L261.7 777.7M177.8 778.8H189.8V773.6H177.8ZM172.8 784.9H184.2V763.1H172.8ZM172.2 762.4H184V754.9H172.2ZM169.9 757.8L180.4 757.8M184.7 776H194.8V767.8H184.7ZM165 772.9L188.4 772.9M182.5 767.9L182.5 759.7M164.3 763.6L173.4 763.6M184 761.5L184 751.5M174.9 770.6L192.6 770.6M164.1 732.7L182.4 732.7M168.7 740L183.6 740M190.8 716.2L190.8 710.5M170.8 740.4L170.8 726M154.2 698.7L172.3 698.7M172 729.4H188.8V710.2H172ZM201.7 689.5L210.2 689.5M206.8 705.4H216.3V668.7H206.8ZM176.6 695.1H183V674.7H176.6ZM189 700.9H205.4V667.7H189ZM199.1 707.4L199.1 688.1M186.2 709.3H212.8V677.9H186.2ZM175.9 701.6H179.2V682.1H175.9ZM156.1 713.8L179.8 713.8M170.1 728.6L170.1 695.1M157.1 730.7L165.3 730.7M190.3 732.9H193.1V714.8H190.3ZM193.7 708.3L193.7 674.3M205.5 690.4H217.6V673H205.5ZM160 719.9H164V715.7H160ZM156.1 715.9L159.4 715.9M155.5 732.8H166.5V716.6H155.5Z"/>
<use href="#dots-e" opacity=".5"/>
<circle cx="182.4" cy="693.4" r="1.7" class="r" stroke-width="2.3"/><rect x="126.4" y="767.8" width="10.2" height="7.1" rx="1.6" class="r" stroke-width="2.2"/><rect x="223.2" y="763.5" width="8.8" height="6.8" rx="1.6" class="r" stroke-width="2.2"/>
<path class="ax" style="stroke:#9a9a9a" d="M43.7 628.4V835.9H311.2M43.7 835.9v-2.4M97.2 835.9v-2.4M150.7 835.9v-2.4M204.2 835.9v-2.4M257.7 835.9v-2.4M311.2 835.9v-2.4M43.7 835.9h1.6M43.7 815.1h1.6M43.7 794.4h1.6M43.7 773.6h1.6M43.7 752.9h1.6M43.7 732.1h1.6M43.7 711.4h1.6M43.7 690.6h1.6M43.7 669.9h1.6M43.7 649.1h1.6M43.7 628.4h1.6"/>
<text class="tk" text-anchor="middle" style="font-size:8.2px" x="43.7" y="847.9">0</text><text class="tk" text-anchor="middle" style="font-size:8.2px" x="97.2" y="847.9">1</text><text class="tk" text-anchor="middle" style="font-size:8.2px" x="150.7" y="847.9">2</text><text class="tk" text-anchor="middle" style="font-size:8.2px" x="204.2" y="847.9">3</text><text class="tk" text-anchor="middle" style="font-size:8.2px" x="257.7" y="847.9">4</text><text class="tk" text-anchor="middle" style="font-size:8.2px" x="311.2" y="847.9">5</text><text class="tk" text-anchor="end" style="font-size:8.2px" x="39.4" y="839.9">0</text><text class="tk" text-anchor="end" style="font-size:8.2px" x="39.4" y="819.1">0.5</text><text class="tk" text-anchor="end" style="font-size:8.2px" x="39.4" y="798.4">1</text><text class="tk" text-anchor="end" style="font-size:8.2px" x="39.4" y="777.6">1.5</text><text class="tk" text-anchor="end" style="font-size:8.2px" x="39.4" y="756.9">2</text><text class="tk" text-anchor="end" style="font-size:8.2px" x="39.4" y="736.1">2.5</text><text class="tk" text-anchor="end" style="font-size:8.2px" x="39.4" y="715.4">3</text><text class="tk" text-anchor="end" style="font-size:8.2px" x="39.4" y="694.6">3.5</text><text class="tk" text-anchor="end" style="font-size:8.2px" x="39.4" y="673.9">4</text><text class="tk" text-anchor="end" style="font-size:8.2px" x="39.4" y="653.1">4.5</text><text class="tk" text-anchor="end" style="font-size:8.2px" x="39.4" y="632.4">5</text>
<text class="ti" text-anchor="middle" style="font-size:12.05px" x="177.5" y="623.6">Data clustering</text>
<text class="al" text-anchor="middle" style="font-size:12.4px" x="177" y="863">X1</text>
<text class="al" text-anchor="middle" style="font-size:12.1px" transform="translate(21.9 732.5) rotate(-90)">X2</text>
<text class="cp" text-anchor="middle" x="162.7" y="896.3">(e)</text>
<rect x="210" y="631.4" width="128.8" height="12.5" fill="#fff" stroke="#8a8a8a" stroke-width=".7"/><path d="M212.5 637.6H237.6" stroke="#e8232b" stroke-width="2.3"/><text class="lg" style="font-size:8.18px" x="239.7" y="641">Cluster centers of the data</text>
</g>
<g id="panel-f">
<g class="d" id="dots-f"><circle cx="482.4" cy="651.7" r="1.2"/><circle cx="446.2" cy="667.2" r="1.2"/><circle cx="479.5" cy="667.6" r="1.2"/><circle cx="457.4" cy="672.4" r="1.2"/><circle cx="466.3" cy="671.6" r="1.2"/><circle cx="467.5" cy="674.2" r="1.2"/><circle cx="474.5" cy="677.6" r="1.2"/><circle cx="472.3" cy="680.5" r="1.2"/><circle cx="480.5" cy="683.6" r="1.2"/><circle cx="454.7" cy="690.5" r="1.2"/><circle cx="458.3" cy="692.7" r="1.2"/><circle cx="481" cy="695.8" r="1.2"/><circle cx="464.1" cy="706.5" r="1.2"/><circle cx="473.8" cy="704" r="1.2"/><circle cx="469.4" cy="711.7" r="1.2"/><circle cx="507.9" cy="642.9" r="1.2"/><circle cx="513" cy="646" r="1.2"/><circle cx="554.6" cy="649.4" r="1.2"/><circle cx="507.3" cy="654.4" r="1.2"/><circle cx="504.8" cy="658.2" r="1.2"/><circle cx="518.7" cy="655.1" r="1.2"/><circle cx="524.7" cy="655.7" r="1.2"/><circle cx="527.9" cy="656.3" r="1.2"/><circle cx="528.5" cy="655.1" r="1.2"/><circle cx="548.3" cy="657.2" r="1.2"/><circle cx="551.5" cy="657.2" r="1.2"/><circle cx="494.4" cy="659.7" r="1.2"/><circle cx="523.5" cy="660.4" r="1.2"/><circle cx="537.6" cy="663.5" r="1.2"/><circle cx="512.3" cy="664.2" r="1.2"/><circle cx="503.3" cy="666.7" r="1.2"/><circle cx="519.7" cy="667.2" r="1.2"/><circle cx="536" cy="666.6" r="1.2"/><circle cx="499.1" cy="669.2" r="1.2"/><circle cx="490.3" cy="671.6" r="1.2"/><circle cx="485.8" cy="673" r="1.2"/><circle cx="524.6" cy="669.5" r="1.2"/><circle cx="549" cy="668.8" r="1.2"/><circle cx="530" cy="671.6" r="1.2"/><circle cx="530.4" cy="674.7" r="1.2"/><circle cx="544.9" cy="674.5" r="1.2"/><circle cx="543.9" cy="676.4" r="1.2"/><circle cx="539.1" cy="676" r="1.2"/><circle cx="553.4" cy="678.3" r="1.2"/><circle cx="547.1" cy="679.5" r="1.2"/><circle cx="497.2" cy="674.7" r="1.2"/><circle cx="493.4" cy="675.1" r="1.2"/><circle cx="494.3" cy="681.8" r="1.2"/><circle cx="536.3" cy="681" r="1.2"/><circle cx="539.5" cy="681.6" r="1.2"/><circle cx="555" cy="682" r="1.2"/><circle cx="560.7" cy="683.3" r="1.2"/><circle cx="565.8" cy="681.6" r="1.2"/><circle cx="567.5" cy="684.5" r="1.2"/><circle cx="567" cy="689.2" r="1.2"/><circle cx="532.9" cy="685.8" r="1.2"/><circle cx="539.7" cy="687.7" r="1.2"/><circle cx="541.6" cy="687.3" r="1.2"/><circle cx="548.3" cy="687.7" r="1.2"/><circle cx="508.6" cy="685.8" r="1.2"/><circle cx="503.5" cy="689.3" r="1.2"/><circle cx="496.8" cy="691.2" r="1.2"/><circle cx="500.6" cy="690.8" r="1.2"/><circle cx="506" cy="691.4" r="1.2"/><circle cx="509.8" cy="693.9" r="1.2"/><circle cx="500.7" cy="694.6" r="1.2"/><circle cx="486.8" cy="694.8" r="1.2"/><circle cx="490" cy="696.4" r="1.2"/><circle cx="554.9" cy="693.1" r="1.2"/><circle cx="525" cy="699" r="1.2"/><circle cx="554.4" cy="700.8" r="1.2"/><circle cx="559.7" cy="704" r="1.2"/><circle cx="561.6" cy="705.2" r="1.2"/><circle cx="537.3" cy="705.2" r="1.2"/><circle cx="543.3" cy="705.9" r="1.2"/><circle cx="491.5" cy="705.9" r="1.2"/><circle cx="513" cy="706.2" r="1.2"/><circle cx="527.5" cy="706.5" r="1.2"/><circle cx="549.3" cy="709.4" r="1.2"/><circle cx="538.6" cy="710.2" r="1.2"/><circle cx="521.8" cy="710.2" r="1.2"/><circle cx="518.7" cy="711.5" r="1.2"/><circle cx="534.2" cy="702.7" r="1.2"/><circle cx="532.5" cy="688.9" r="1.2"/><circle cx="572.1" cy="699.8" r="1.2"/><circle cx="575.1" cy="703" r="1.2"/><circle cx="572.3" cy="706.5" r="1.2"/><circle cx="590.4" cy="707.4" r="1.2"/><circle cx="586.8" cy="711.9" r="1.2"/><circle cx="580.5" cy="712.1" r="1.2"/><circle cx="469.2" cy="712.8" r="1.2"/><circle cx="480.5" cy="716.6" r="1.2"/><circle cx="466.3" cy="720.2" r="1.2"/><circle cx="461.6" cy="726.8" r="1.2"/><circle cx="465" cy="726.2" r="1.2"/><circle cx="462.9" cy="728.5" r="1.2"/><circle cx="442.7" cy="730.6" r="1.2"/><circle cx="444.2" cy="734" r="1.2"/><circle cx="449.9" cy="735.2" r="1.2"/><circle cx="451.5" cy="739.4" r="1.2"/><circle cx="462.9" cy="738.1" r="1.2"/><circle cx="478.5" cy="735" r="1.2"/><circle cx="468.5" cy="744.4" r="1.2"/><circle cx="473.2" cy="745.3" r="1.2"/><circle cx="482.7" cy="744.4" r="1.2"/><circle cx="399.7" cy="748.8" r="1.2"/><circle cx="400.6" cy="750.7" r="1.2"/><circle cx="409.5" cy="750.3" r="1.2"/><circle cx="447.1" cy="749" r="1.2"/><circle cx="459.6" cy="748.8" r="1.2"/><circle cx="423.3" cy="753.2" r="1.2"/><circle cx="440.6" cy="752.2" r="1.2"/><circle cx="443.5" cy="756.3" r="1.2"/><circle cx="451.1" cy="754.7" r="1.2"/><circle cx="404.4" cy="756.3" r="1.2"/><circle cx="400.4" cy="759.8" r="1.2"/><circle cx="402.5" cy="763.5" r="1.2"/><circle cx="406.6" cy="763.8" r="1.2"/><circle cx="438.1" cy="759.8" r="1.2"/><circle cx="433.8" cy="767" r="1.2"/><circle cx="430.9" cy="768.6" r="1.2"/><circle cx="418.7" cy="769.7" r="1.2"/><circle cx="411.3" cy="774.3" r="1.2"/><circle cx="399.4" cy="777.3" r="1.2"/><circle cx="425" cy="775.1" r="1.2"/><circle cx="443.5" cy="771" r="1.2"/><circle cx="441.9" cy="776.1" r="1.2"/><circle cx="438.5" cy="778.5" r="1.2"/><circle cx="456.8" cy="773.3" r="1.2"/><circle cx="420.6" cy="781.4" r="1.2"/><circle cx="430.3" cy="784.2" r="1.2"/><circle cx="432.2" cy="784.5" r="1.2"/><circle cx="457.4" cy="785.4" r="1.2"/><circle cx="478.5" cy="782.4" r="1.2"/><circle cx="450.5" cy="767.2" r="1.2"/><circle cx="455.5" cy="765.7" r="1.2"/><circle cx="458.7" cy="762.6" r="1.2"/><circle cx="489" cy="715.9" r="1.2"/><circle cx="502.6" cy="714.1" r="1.2"/><circle cx="501.6" cy="717.4" r="1.2"/><circle cx="517.8" cy="713.7" r="1.2"/><circle cx="521.8" cy="718.1" r="1.2"/><circle cx="525" cy="716.8" r="1.2"/><circle cx="530" cy="714.3" r="1.2"/><circle cx="550.9" cy="714.3" r="1.2"/><circle cx="561.6" cy="716.8" r="1.2"/><circle cx="500.7" cy="724.1" r="1.2"/><circle cx="516.5" cy="721.2" r="1.2"/><circle cx="543.3" cy="721.2" r="1.2"/><circle cx="550" cy="721.5" r="1.2"/><circle cx="490.9" cy="726.2" r="1.2"/><circle cx="492.8" cy="731.2" r="1.2"/><circle cx="532.5" cy="730" r="1.2"/><circle cx="543" cy="728.7" r="1.2"/><circle cx="498.8" cy="735.9" r="1.2"/><circle cx="509.8" cy="735" r="1.2"/><circle cx="507.3" cy="739.1" r="1.2"/><circle cx="508.6" cy="740.3" r="1.2"/><circle cx="514.6" cy="739.1" r="1.2"/><circle cx="538.9" cy="733.1" r="1.2"/><circle cx="551.2" cy="735" r="1.2"/><circle cx="556.3" cy="731.9" r="1.2"/><circle cx="561" cy="735.4" r="1.2"/><circle cx="568.9" cy="733.1" r="1.2"/><circle cx="569.8" cy="728.7" r="1.2"/><circle cx="544.3" cy="738.8" r="1.2"/><circle cx="555.3" cy="742.1" r="1.2"/><circle cx="553.1" cy="743.1" r="1.2"/><circle cx="569.2" cy="742.9" r="1.2"/><circle cx="562.8" cy="744.4" r="1.2"/><circle cx="490" cy="742.9" r="1.2"/><circle cx="492.8" cy="749.4" r="1.2"/><circle cx="500.4" cy="752.6" r="1.2"/><circle cx="486.5" cy="753.6" r="1.2"/><circle cx="499.7" cy="753.8" r="1.2"/><circle cx="518.3" cy="752.6" r="1.2"/><circle cx="526.9" cy="751.1" r="1.2"/><circle cx="522.5" cy="753.8" r="1.2"/><circle cx="532.5" cy="755.1" r="1.2"/><circle cx="536.7" cy="755.1" r="1.2"/><circle cx="538.9" cy="748.8" r="1.2"/><circle cx="561.6" cy="751.9" r="1.2"/><circle cx="553.4" cy="759.5" r="1.2"/><circle cx="557.2" cy="761.3" r="1.2"/><circle cx="519.3" cy="763.2" r="1.2"/><circle cx="532.5" cy="763.8" r="1.2"/><circle cx="547.1" cy="764.2" r="1.2"/><circle cx="541.4" cy="766.6" r="1.2"/><circle cx="506.7" cy="767" r="1.2"/><circle cx="520.3" cy="767.6" r="1.2"/><circle cx="521.6" cy="768.9" r="1.2"/><circle cx="539.5" cy="770.1" r="1.2"/><circle cx="518.4" cy="773.9" r="1.2"/><circle cx="515.5" cy="775.1" r="1.2"/><circle cx="505.2" cy="772" r="1.2"/><circle cx="508.2" cy="777.4" r="1.2"/><circle cx="519.7" cy="777.6" r="1.2"/><circle cx="519.3" cy="779.5" r="1.2"/><circle cx="540.8" cy="778.3" r="1.2"/><circle cx="546.4" cy="776.4" r="1.2"/><circle cx="556.5" cy="773.9" r="1.2"/><circle cx="557.8" cy="779.5" r="1.2"/><circle cx="554" cy="781.4" r="1.2"/><circle cx="496.8" cy="781.2" r="1.2"/><circle cx="497.2" cy="785.8" r="1.2"/><circle cx="509.2" cy="785.5" r="1.2"/><circle cx="565.4" cy="776.4" r="1.2"/><circle cx="577.4" cy="714.7" r="1.2"/><circle cx="580.5" cy="713.4" r="1.2"/><circle cx="586.8" cy="712.8" r="1.2"/><circle cx="580.9" cy="720.8" r="1.2"/><circle cx="599.8" cy="724.6" r="1.2"/><circle cx="573.8" cy="730.4" r="1.2"/><circle cx="593.5" cy="729.7" r="1.2"/><circle cx="599.8" cy="742.5" r="1.2"/><circle cx="591" cy="747.5" r="1.2"/><circle cx="603.2" cy="753.6" r="1.2"/><circle cx="611.5" cy="751.6" r="1.2"/><circle cx="611.2" cy="756.6" r="1.2"/><circle cx="615" cy="756.9" r="1.2"/><circle cx="586.8" cy="754.4" r="1.2"/><circle cx="594.4" cy="755.7" r="1.2"/><circle cx="593.2" cy="760.7" r="1.2"/><circle cx="596.3" cy="762.6" r="1.2"/><circle cx="590" cy="762.6" r="1.2"/><circle cx="581.8" cy="761.3" r="1.2"/><circle cx="620.7" cy="762.6" r="1.2"/><circle cx="584.3" cy="766.4" r="1.2"/><circle cx="578.6" cy="766.6" r="1.2"/><circle cx="588.1" cy="768" r="1.2"/><circle cx="594.4" cy="767.6" r="1.2"/><circle cx="586.2" cy="771" r="1.2"/><circle cx="592.8" cy="771" r="1.2"/><circle cx="605.8" cy="771" r="1.2"/><circle cx="618" cy="771.1" r="1.2"/><circle cx="596.9" cy="774.3" r="1.2"/><circle cx="605.1" cy="775.1" r="1.2"/><circle cx="610.2" cy="776.1" r="1.2"/><circle cx="574.8" cy="773.9" r="1.2"/><circle cx="585.2" cy="775.5" r="1.2"/><circle cx="591" cy="777.6" r="1.2"/><circle cx="573.8" cy="778" r="1.2"/><circle cx="608.9" cy="779.5" r="1.2"/><circle cx="584.3" cy="780.8" r="1.2"/><circle cx="597.3" cy="784.5" r="1.2"/><circle cx="589.7" cy="785.8" r="1.2"/><circle cx="608.7" cy="785.2" r="1.2"/><circle cx="625.1" cy="784.5" r="1.2"/><circle cx="629.4" cy="777.9" r="1.2"/><circle cx="635.1" cy="785.2" r="1.2"/><circle cx="579.3" cy="787" r="1.2"/><circle cx="411.1" cy="789.6" r="1.2"/><circle cx="408.2" cy="792.4" r="1.2"/><circle cx="418" cy="789" r="1.2"/><circle cx="426.9" cy="789.9" r="1.2"/><circle cx="431.5" cy="788" r="1.2"/><circle cx="431.5" cy="794.6" r="1.2"/><circle cx="441" cy="789" r="1.2"/><circle cx="447.7" cy="789" r="1.2"/><circle cx="460" cy="792.6" r="1.2"/><circle cx="461.2" cy="794.2" r="1.2"/><circle cx="450.2" cy="797.4" r="1.2"/><circle cx="453.3" cy="799.3" r="1.2"/><circle cx="470.1" cy="797.1" r="1.2"/><circle cx="479.5" cy="799.9" r="1.2"/><circle cx="480.2" cy="800.9" r="1.2"/><circle cx="477.4" cy="803.7" r="1.2"/><circle cx="475.5" cy="808.7" r="1.2"/><circle cx="482.7" cy="806.2" r="1.2"/><circle cx="446.1" cy="802.7" r="1.2"/><circle cx="441.6" cy="804.7" r="1.2"/><circle cx="428.8" cy="806.2" r="1.2"/><circle cx="433.8" cy="814.3" r="1.2"/><circle cx="444.2" cy="816.2" r="1.2"/><circle cx="463.7" cy="814.6" r="1.2"/><circle cx="483.9" cy="817.4" r="1.2"/><circle cx="431.9" cy="824.3" r="1.2"/><circle cx="467.3" cy="826.9" r="1.2"/><circle cx="451.4" cy="832.5" r="1.2"/><circle cx="499.7" cy="795.3" r="1.2"/><circle cx="501.6" cy="798.4" r="1.2"/><circle cx="486.5" cy="799.9" r="1.2"/><circle cx="497.8" cy="791.1" r="1.2"/><circle cx="510.7" cy="802.1" r="1.2"/><circle cx="495.7" cy="809.3" r="1.2"/><circle cx="518" cy="795.1" r="1.2"/><circle cx="521.8" cy="797.4" r="1.2"/><circle cx="520.6" cy="800.5" r="1.2"/><circle cx="533.6" cy="799.3" r="1.2"/><circle cx="529.4" cy="802.4" r="1.2"/><circle cx="546.2" cy="788.9" r="1.2"/><circle cx="546.4" cy="792.4" r="1.2"/><circle cx="546.1" cy="796.4" r="1.2"/><circle cx="552.8" cy="791.1" r="1.2"/><circle cx="554.6" cy="794.2" r="1.2"/><circle cx="555.9" cy="796.8" r="1.2"/><circle cx="549.3" cy="804.3" r="1.2"/><circle cx="569.2" cy="802.4" r="1.2"/><circle cx="570.4" cy="791.7" r="1.2"/><circle cx="566.4" cy="809.3" r="1.2"/><circle cx="531.3" cy="809.3" r="1.2"/><circle cx="529.8" cy="811.6" r="1.2"/><circle cx="544.5" cy="817.4" r="1.2"/><circle cx="566.4" cy="815.6" r="1.2"/><circle cx="569.2" cy="817.8" r="1.2"/><circle cx="567.3" cy="822.1" r="1.2"/><circle cx="505.4" cy="820.6" r="1.2"/><circle cx="490.9" cy="824.3" r="1.2"/><circle cx="506" cy="825" r="1.2"/><circle cx="485" cy="817.4" r="1.2"/><circle cx="575.9" cy="789.2" r="1.2"/><circle cx="579.6" cy="788" r="1.2"/><circle cx="577.1" cy="792.1" r="1.2"/><circle cx="582.4" cy="791.7" r="1.2"/><circle cx="589.4" cy="792.4" r="1.2"/><circle cx="584.9" cy="796.8" r="1.2"/><circle cx="605.4" cy="796.5" r="1.2"/><circle cx="619.4" cy="800.5" r="1.2"/><circle cx="641.5" cy="801.4" r="1.2"/><circle cx="591.3" cy="804" r="1.2"/><circle cx="598.2" cy="802.4" r="1.2"/><circle cx="615.2" cy="805.5" r="1.2"/><circle cx="623.2" cy="811.2" r="1.2"/><circle cx="573.8" cy="812.1" r="1.2"/><circle cx="605.1" cy="812.8" r="1.2"/><circle cx="572.3" cy="820.6" r="1.2"/><circle cx="583.3" cy="830.6" r="1.2"/><circle cx="575.2" cy="836.6" r="1.2"/><circle cx="393.4" cy="749.5" r="1.2"/><circle cx="387" cy="770.8" r="1.2"/><circle cx="455.7" cy="788.5" r="1.2"/><circle cx="485.2" cy="775.1" r="1.2"/><circle cx="505.3" cy="763.7" r="1.2"/><circle cx="464.1" cy="762.5" r="1.2"/><circle cx="477.9" cy="780.2" r="1.2"/><circle cx="491.6" cy="780.7" r="1.2"/><circle cx="511.1" cy="760.9" r="1.2"/><circle cx="466.3" cy="775.2" r="1.2"/><circle cx="490.3" cy="791.2" r="1.2"/><circle cx="471.4" cy="791.1" r="1.2"/><circle cx="476.1" cy="773" r="1.2"/><circle cx="499.8" cy="775.8" r="1.2"/><circle cx="472.7" cy="755.8" r="1.2"/><circle cx="458.8" cy="757.6" r="1.2"/><circle cx="466.7" cy="787.5" r="1.2"/><circle cx="488.4" cy="765.7" r="1.2"/><circle cx="463.1" cy="753.3" r="1.2"/><circle cx="502.7" cy="781.9" r="1.2"/><circle cx="461.9" cy="774.4" r="1.2"/><circle cx="469.3" cy="782.3" r="1.2"/><circle cx="484.8" cy="773.1" r="1.2"/><circle cx="476.4" cy="773.4" r="1.2"/><circle cx="476.4" cy="784.2" r="1.2"/><circle cx="455.7" cy="778.7" r="1.2"/><circle cx="466" cy="760.5" r="1.2"/><circle cx="573.3" cy="766.6" r="1.2"/><circle cx="553.6" cy="775.3" r="1.2"/><circle cx="580.8" cy="760.6" r="1.2"/><circle cx="551.7" cy="766.6" r="1.2"/><circle cx="532.5" cy="755.8" r="1.2"/><circle cx="574" cy="765" r="1.2"/><circle cx="580.3" cy="769.2" r="1.2"/><circle cx="616.1" cy="750.6" r="1.2"/><circle cx="539.1" cy="736.5" r="1.2"/><circle cx="596.6" cy="751.3" r="1.2"/><circle cx="531.7" cy="771.7" r="1.2"/><circle cx="555.6" cy="779.3" r="1.2"/><circle cx="568.2" cy="752.2" r="1.2"/><circle cx="567" cy="769.4" r="1.2"/><circle cx="568.7" cy="788.3" r="1.2"/><circle cx="563" cy="755.8" r="1.2"/><circle cx="579.3" cy="776.3" r="1.2"/><circle cx="580.5" cy="761.8" r="1.2"/><circle cx="574.8" cy="760.5" r="1.2"/><circle cx="600.4" cy="766.6" r="1.2"/><circle cx="571.8" cy="782.1" r="1.2"/><circle cx="552.7" cy="764.2" r="1.2"/><circle cx="606.9" cy="778.2" r="1.2"/><circle cx="557.6" cy="777.5" r="1.2"/><circle cx="581.8" cy="752.1" r="1.2"/><circle cx="576.8" cy="753.2" r="1.2"/><circle cx="559.9" cy="769.4" r="1.2"/><circle cx="580" cy="744.8" r="1.2"/><circle cx="550.5" cy="754.1" r="1.2"/><circle cx="566.2" cy="783.4" r="1.2"/><circle cx="504.7" cy="710.2" r="1.2"/><circle cx="526.4" cy="718.7" r="1.2"/><circle cx="504.1" cy="705.8" r="1.2"/><circle cx="481.3" cy="676.2" r="1.2"/><circle cx="532.8" cy="690.9" r="1.2"/><circle cx="521.3" cy="685.5" r="1.2"/><circle cx="533.3" cy="704.7" r="1.2"/><circle cx="505.8" cy="718.1" r="1.2"/><circle cx="516.7" cy="726.9" r="1.2"/><circle cx="527.1" cy="685.1" r="1.2"/><circle cx="494.9" cy="684.5" r="1.2"/><circle cx="509" cy="709.8" r="1.2"/><circle cx="512.6" cy="720" r="1.2"/><circle cx="507.5" cy="705.6" r="1.2"/><circle cx="494.9" cy="685.2" r="1.2"/><circle cx="492" cy="707.9" r="1.2"/><circle cx="519.8" cy="732.1" r="1.2"/><circle cx="508.9" cy="721" r="1.2"/><circle cx="498.2" cy="728.8" r="1.2"/><circle cx="549.8" cy="676" r="1.2"/><circle cx="513" cy="696.1" r="1.2"/><circle cx="527.6" cy="689.2" r="1.2"/><circle cx="533.6" cy="695.7" r="1.2"/><circle cx="498.6" cy="689.1" r="1.2"/><circle cx="481.9" cy="694.4" r="1.2"/></g>
<path class="g" style="stroke-width:1.05" d="M470.4 671.4L470.4 712.7M474.2 684.5L474.2 712.7M475.7 689.5L475.7 712.7M477.6 693.3L477.6 712.7M479.3 706.5L479.3 712.7M458.1 709.6L458.1 712.7M484.3 700.8L484.3 712.7M484.3 658.8L484.3 664.5M528.1 644.1L537 644.1M528.1 644.6L537 644.6M507.9 652.8L512.3 652.8M528.1 652.8L530.7 652.8M507.7 653.2L507.7 673.9M486.1 684.5H518.4V663H486.1ZM490.3 667.6L518.7 667.6M540.8 653.8L540.8 680.1M535.7 660.1L547.7 660.1M540.8 665.3L567.9 665.3M542 667.6L554.6 667.6M554.4 667.6L554.4 687.7M533.2 669.1L538.9 669.1M522.5 671.7L545.2 671.7M522.5 672.2L545.2 672.2M526.2 673.2L543.9 673.2M527.5 675.1L533.8 675.1M522.5 676.4L526.2 676.4M493.4 690.2H518.7V673.9H493.4ZM494.7 687.7H511.7V676.4H494.7ZM514.2 667.6L514.2 702.7M513.6 667.6L513.6 702.7M513 671.4L513 697.7M511.7 672.6L511.7 697.7M515.5 670.1L515.5 700.2M516.8 675.1L516.8 693.9M503.5 699.6H511.7V683.3H503.5ZM495.3 690.2H501V680.8H495.3ZM490.5 687.7L490.5 712.7M496.6 690.2L496.6 712.7M484.6 698.7L517.4 698.7M484.6 699.2L517.4 699.2M485.2 714H503.5V700.2H485.2ZM517.9 695.2L517.9 709M518.4 695.2L518.4 709M518.9 695.2L518.9 709M520.6 696.4H534.4V680.8H520.6ZM525 680.8L525 712.7M528.1 678.9L528.1 712.7M521.2 687.7L535.1 687.7M537 691.4H544.5V683.9H537ZM537.3 691H544.2V684.3H537.3ZM537.6 701.5H546.4V692.7H537.6ZM530 692.1L555.3 692.1M539.5 694.3L564.7 694.3M539.5 694.8L564.7 694.8M546.4 673.9L546.4 700.2M549.6 680.8L549.6 707.7M551.1 687.7L551.1 707.7M522.5 697.1L543.9 697.1M519.9 700.2L537.6 700.2M521.2 702.7L537.6 702.7M516.1 705.9L536.3 705.9M514.9 709L535.1 709M514.9 702.7L514.9 710.2M533.2 696.4L533.2 712.7M529.4 696.4L529.4 712.7M557.2 710.9H561.6V702.1H557.2ZM536.3 680.1L536.3 690.2M576.1 678.3L576.1 712.7M458.1 712.4L458.1 746.3M470.4 712.4L470.4 745M474.2 712.4L474.2 737.5M476.4 712.4L476.4 735M478.3 712.4L478.3 731.2M480.2 712.4L480.2 728.7M449.2 727.5L485.2 727.5M468.8 730.6L485.2 730.6M438.5 746.3L485.2 746.3M453.6 748.5L485.2 748.5M453.6 749L485.2 749M398.7 751.3L398.7 778.9M401.5 751.9L401.5 778.9M414.5 753.8L414.5 758.8M415.8 756.3L415.8 777.6M420.2 751.3L420.2 757.6M421.8 751.3L421.8 787.7M424.4 751.9L424.4 787.7M424.9 751.9L424.9 787.7M429.7 750.7L429.7 757.6M436 750.7L436 761.3M429.7 760.7L436 760.7M412.4 765.7L458.7 765.7M444.8 750L444.8 787.7M446.7 751.3L446.7 780.2M451.7 753.8L451.7 782.7M449.9 753.8L449.9 767.6M439.8 755.1L485.2 755.1M436 758.2L485.2 758.2M436 762L485.2 762M437.2 763.8L485.2 763.8M456.5 748.8L456.5 787.7M457.1 748.8L457.1 787.7M463.7 748.8L463.7 787.7M467 748.8L467 787.7M467.5 748.8L467.5 787.7M460 748.8L460 787.7M448.6 771.4L485.2 771.4M453.6 773.3L465 773.3M453.6 775.1L465 775.1M439.8 776.4L473.8 776.4M442.3 778.3L485.2 778.3M420.8 780.5L485.2 780.5M420.8 781L485.2 781M490.5 712.4L490.5 727.5M496.3 712.4L496.3 787.7M496.8 712.4L496.8 787.7M484.6 717.4L555.3 717.4M496.6 720.6L540.1 720.6M484.6 725L519.9 725M496.6 727.5L543.9 727.5M484.6 741.3L519.9 741.3M484.6 743.8L571.7 743.8M509.8 746L571.7 746M509.8 746.5L571.7 746.5M540.1 736.3L571.7 736.3M528.8 739.4L571.7 739.4M519.7 712.4L519.7 787.7M520.2 712.4L520.2 787.7M521.8 712.4L521.8 756.3M525 712.4L525 737.5M528.1 712.4L528.1 745M533.2 712.4L533.2 725M536.3 712.4L536.3 718.7M540.1 731.2L540.1 787.7M550.9 712.4L550.9 787.7M554.6 712.4L554.6 750M560.3 743.8L560.3 787.7M567.3 731.2L567.3 762.6M538.9 746.3H572.9V731.2H538.9ZM510.5 746.3L510.5 756.3M514.9 746.3L514.9 756.3M513 746.3L513 755.1M576.1 712.4L576.1 745M571.1 739.4L596.3 739.4M571.1 745.4L608.9 745.4M571.1 745.9L608.9 745.9M578.6 747.5L607.7 747.5M607.7 751.1L629.8 751.1M579 745L579 757.6M579.5 745L579.5 757.6M602.4 745L602.4 787.7M602.9 745L602.9 787.7M601.4 746.3L601.4 787.7M607.7 746.3L607.7 787.7M610.8 746.3L610.8 768.9M613.4 761.3L613.4 772.6M617.1 765.1L617.1 787.7M622.6 760.1L622.6 778.9M578.6 757.3L603.9 757.3M578.6 757.8L603.9 757.8M586.2 755.1L603.9 755.1M571.1 766.1L606.4 766.1M571.1 766.6L606.4 766.6M583.7 769.5L605.1 769.5M571.1 763.8L602.6 763.8M583.7 745L583.7 756.3M586.2 745L586.2 756.3M588.7 745L588.7 767.6M581.8 745L581.8 756.3M421.8 787.3L421.8 793M424.4 787.3L424.4 799.3M439.8 789.9L485.2 789.9M449.9 798.6H466.9V789.9H449.9ZM449.9 798.6L485.2 798.6M466.6 787.3L466.6 806.8M467.2 787.3L467.2 806.8M465 787.3L465 797.4M476.1 813.1H486.5V799.3H476.1ZM433.8 803.4L476.4 803.4M428.4 806.8L460.6 806.8M411.3 810.6L485.2 810.6M464.6 819.7L485.2 819.7M476.4 828.7L485.2 828.7M484.6 789.6L504.8 789.6M484.6 790.1L504.8 790.1M484.6 792.1L515.5 792.1M484.6 792.6L515.5 792.6M484.6 794.2L498.5 794.2M484.6 796.8L516.1 796.8M498.2 809.9H517.1V796.8H498.2ZM510.7 802.4L510.7 807.4M514.9 799.9L514.9 807.4M484.6 799.3L498.5 799.3M485.8 801.8L503.5 801.8M484.6 810.6L516.1 810.6M484.6 813.1L514.2 813.1M484.6 819.7L513.6 819.7M495.7 824.6L506 824.6M484.6 829L513 829M517.4 829L571.7 829M487.1 787.3L487.1 792.4M492.2 787.3L492.2 791.1M497.8 787.3L497.8 809.9M503.5 787.3L503.5 791.1M517.4 792.7L571.7 792.7M517.4 793.2L571.7 793.2M523.1 797.4H530V784.8H523.1ZM520.6 787.3L520.6 793.6M536.3 787.3L536.3 793.6M540.1 787.3L540.1 793.6M548.3 795.5H555.3V784.8H548.3ZM562.8 797.4H569.4V784.8H562.8ZM559.1 787.3L559.1 793.6M520.6 800.3L561.6 800.3M520.6 800.8L561.6 800.8M522.5 802.4L551.5 802.4M521.2 796.8L535.1 796.8M518 808L567.3 808M518 810.6L562.8 810.6M531.9 816.6L571.7 816.6M540.1 801.1L571.7 801.1M588.7 790.9H612.7V783.6H588.7ZM617.1 787.3L617.1 797.4M607.9 787.3L607.9 815.6M597.3 787.3L597.3 808.7M586.8 787.3L586.8 793.6M581.8 787.3L581.8 801.8M572.9 787.3L572.9 801.1M571.1 793L607.7 793M571.1 795.5L586.2 795.5M571.1 801.1L590 801.1M571.1 816.6L603.9 816.6M571.1 829L612.1 829M393.1 752.4L393.1 775.6M383.8 750.2L383.8 752.8M473.4 757.6L507.5 757.6M437.1 768.8H472.1V764.6H437.1ZM463.5 780.3H497.5V778.1H463.5ZM450.9 788.7H491.9V766H450.9ZM469.3 774.4H510.1V763.6H469.3ZM463.4 769.8L477.1 769.8M467.4 770.6H481V758H467.4ZM485.4 776.9H511.7V760.2H485.4ZM494.8 771.7L504.7 771.7M467.7 788.8L467.7 766.6M455.2 775.1L455.2 767.5M453 768L479.1 768M450.7 763.9L475.2 763.9M457.7 764.3L464.2 764.3M481 772.1L501.2 772.1M483.2 783.5H508.9V761.8H483.2ZM471.1 760.5L471.1 758.3M456 773.9L456 770.6M452.8 780H477.2V766.9H452.8ZM449.2 761.5L478.1 761.5M482.7 777.4L482.7 762M480.4 790.4L480.4 782.5M470.6 775.4L470.6 773M458.7 771.4H487.6V761.5H458.7ZM476.2 761.5L487.8 761.5M604.9 776.8L604.9 772.8M553.9 782.3L570.9 782.3M545 771.4L566.6 771.4M560.9 772.7H567.3V760H560.9ZM525.6 763.1H550.7V748.2H525.6ZM579.7 774.4L579.7 760.7M540.1 773.9L579.1 773.9M588.9 782.4L588.9 772.3M557.6 770.1L591.4 770.1M545 777.5L545 764.1M523.3 753.8L562.6 753.8M577 779.4H600.7V772.2H577ZM561.4 778.1L561.4 769.9M526 774.8H553.5V765.7H526ZM524.6 772.3L524.6 768.5M588 767.6L588 760.4M562.3 765.8H599.8V758.1H562.3ZM561.7 776.7H594V773.9H561.7ZM592.1 770.4L592.1 762.5M554.9 769.4H586.4V758.5H554.9ZM571.1 769.1L577.9 769.1M555.2 774.6H573.3V771.9H555.2ZM567.5 793.3L567.5 774M552.3 787.3H566.2V770.1H552.3ZM560.5 762.9L598.8 762.9M514.1 683.8L525.7 683.8M509 709.8H532V697.1H509ZM519.5 705L542.5 705M527.8 696.2L527.8 674.7M506.5 721.7H527.6V698H506.5ZM540 712.1L540 684.1M510.8 695.8L536.9 695.8M508.8 685.8L520.9 685.8M498.8 740.1L498.8 705.2M534.9 722.3L534.9 689.6M530.4 722.2L530.4 711.1M511 726.8L511 694.3M529 693.4H541.6V684.2H529ZM519.6 750.2H523.4V725.7H519.6ZM505 719.1L529 719.1M525.9 716.7H530.4V692.6H525.9ZM513.7 693.1H531.2V683.8H513.7ZM512.2 732.1H538.2V698.2H512.2ZM497.1 699.6L515.4 699.6M500.3 740.8L500.3 722.3M506.4 690.5L532.8 690.5M521.6 703.3L538.4 703.3M472.5 760L507.9 760M453.4 770.9H480.4V768.5H453.4ZM468.9 754.2L468.9 748.5M460.2 767.2L460.2 765.1M493.7 772.9L510.9 772.9M472.7 771.4L472.7 761.5M476.7 784.2H494V778.1H476.7ZM457.8 793.8L497.7 793.8M486 763.7H495.3V751.7H486ZM488.6 778.6H505V767.3H488.6ZM482.5 784L482.5 775.7M477.6 763.8L511.6 763.8M451.9 781.5H486.2V763.7H451.9ZM485.5 790.5L485.5 777.9M482.5 757.2L500.9 757.2M464.9 771.8H497.4V753.1H464.9ZM475.5 767.6H504.9V749.1H475.5ZM490.6 771.9H497.6V759H490.6ZM482.3 778.8H496.7V756.1H482.3ZM476.7 785.2L476.7 780.5M485.4 791.8L485.4 767.9M462.8 761.7H492.4V751.2H462.8ZM467.8 768.7L509.2 768.7M470.6 752.5L476.1 752.5M474.9 779.6L474.9 770.9M464.3 793H504.9V773.1H464.3ZM474.5 773.1L504.1 773.1M459.8 788.2H485.1V775.6H459.8ZM494.4 767.4L501.1 767.4M486.3 775.5L513.3 775.5M469.2 774.3H493.3V764.7H469.2ZM487.9 760.2L487.9 752.9M500.7 773.1L500.7 754.6M483.7 784.3H495.2V768H483.7ZM454.3 777.9L462.4 777.9M492.4 759.2H502.8V747.3H492.4ZM468.4 777.7H509.2V767.1H468.4ZM494.8 795.9L494.8 782.3M478.3 773.3H493.6V758.6H478.3ZM492.9 774.8H503.3V767.3H492.9ZM481.1 796.2H513.3V779.2H481.1ZM466.4 758L466.4 748.6M483.2 779.1L497.4 779.1M467.9 777.5L478.5 777.5M471.7 773.8H505V762.7H471.7ZM481.4 765.4L481.4 752.7M478.5 777.6H501.4V773.2H478.5ZM453.1 786.9H469V781.1H453.1ZM462.9 784.4H469.5V761.2H462.9ZM487.6 763.9H499.1V757.3H487.6ZM462.7 781.2L485.7 781.2M476.9 782.9L476.9 780M450 776.7H470.5V765.4H450ZM447 774.3L472 774.3M440 769.9H470.1V756.9H440ZM438 783.7H466.8V765H438ZM457.5 780.9H471.9V770.7H457.5ZM442 778.1H461.8V765.1H442ZM450.1 764.7L450.1 749.4M576.9 757.8H600.6V749.7H576.9ZM576.8 774.3L576.8 763.8M524.7 754.6L557.6 754.6M555.9 773.8L596.4 773.8M557.3 771.3H593V747H557.3ZM540.8 771.1H557.7V755.6H540.8ZM591.8 775.3H601.6V758.1H591.8ZM534.2 771.9L534.2 765M545.6 785H555.8V760.1H545.6ZM547.5 774.7H579.4V763.3H547.5ZM572.6 787.9H596.4V768H572.6ZM519.5 773.8H559.8V765.9H519.5ZM588.9 762.9L604.4 762.9M520.8 783.3H537.7V762.9H520.8ZM571.3 782.2L571.3 769M599.1 783H604.6V770.7H599.1ZM530.6 750.4H568.1V746.9H530.6ZM579.1 770.3H602.1V765.9H579.1ZM541.5 768.7L541.5 748.4M576.1 784H584.4V765.2H576.1ZM554.2 771.2H578.2V767.4H554.2ZM528.6 788.4H555.4V777.5H528.6ZM516.6 770.8H556.3V759.1H516.6ZM531.7 779.1L558.6 779.1M523.5 781.4H543.3V769.3H523.5ZM571.6 785.2L590.8 785.2M526.7 779.9H559.3V758.1H526.7ZM574.8 767.3H591V755.1H574.8ZM570.4 787.9L570.4 768.9M563.7 759.8L598.3 759.8M587 788.4H597.7V786.1H587ZM541.2 786.9L541.2 780.6M538 763.6L564.6 763.6M521.5 786.8H560.3V780.3H521.5ZM559.2 755.6L559.2 750.1M586.7 756.2H604.8V748.4H586.7ZM540.6 753.4H559.7V751.2H540.6ZM524.4 784.4L524.4 761.5M539.4 773.7L582.3 773.7M530.4 776.4L530.4 758.7M579 769.6L588.6 769.6M573.2 764.6L606.2 764.6M596.8 788.7H602.3V766.5H596.8ZM582.2 775L582.2 770.6M559.1 779L559.1 764.8M525.7 782.5L525.7 757.8M574.3 768.6L582.3 768.6M539.5 773.2L539.5 758.7M584.5 761.8L584.5 759.6M555.6 767.6H567.4V764.7H555.6ZM529.8 776.3L541 776.3M541.9 774.2H560.8V757.2H541.9ZM541.2 772.1H569.9V756.1H541.2ZM534 771L553.4 771M533 762.6H557.6V758.7H533ZM550.3 770.3H562.3V762.2H550.3ZM540.5 783.8L540.5 768.3M573.8 757.3L589.8 757.3M595 779.1L600.9 779.1M516.6 780.1H528.6V774.9H516.6ZM511.6 786.2H523V764.4H511.6ZM510.9 763.8H522.8V756.3H510.9ZM508.6 759.1L519.2 759.1M523.5 777.3H533.7V769.2H523.5ZM503.7 774.3L527.2 774.3M521.3 769.3L521.3 761.1M503 765L512.1 765M522.8 762.9L522.8 752.9M513.6 771.9L531.4 771.9M502.8 734.1L521.1 734.1M507.4 741.4L522.4 741.4M529.6 717.6L529.6 711.9M509.5 741.8L509.5 727.5M492.9 700.2L511 700.2M510.8 730.8H527.7V711.7H510.8ZM540.6 690.9L549.2 690.9M545.7 706.8H555.3V670.2H545.7ZM515.3 696.5H521.7V676.2H515.3ZM527.8 702.4H544.3V669.2H527.8ZM537.9 708.8L537.9 689.5M525 710.7H551.7V679.3H525ZM514.6 703H517.9V683.6H514.6ZM494.7 715.2L518.5 715.2M508.8 730L508.8 696.5M495.7 732.1L504 732.1M529.1 734.3H531.9V716.3H529.1ZM532.5 709.7L532.5 675.7M544.4 691.8H556.5V674.4H544.4ZM498.7 721.3H502.6V717.1H498.7ZM494.7 717.3L498.1 717.3M494.1 734.2H505.2V718H494.1Z"/>
<use href="#dots-f" opacity=".5"/>
<rect x="514" y="688.2" width="14.1" height="11.8" rx="1.6" class="r" stroke-width="2.4"/><rect x="463.2" y="767.2" width="12.5" height="10" rx="1.6" class="r" stroke-width="2.4"/><rect x="560.2" y="764.4" width="14.3" height="8.5" rx="1.6" class="r" stroke-width="2.4"/>
<path class="ax" d="M381.7 629.9V837.2H650.7M381.7 837.2v-2.4M435.5 837.2v-2.4M489.3 837.2v-2.4M543.1 837.2v-2.4M596.9 837.2v-2.4M650.7 837.2v-2.4M381.7 837.2h1.6M381.7 816.5h1.6M381.7 795.7h1.6M381.7 775h1.6M381.7 754.3h1.6M381.7 733.6h1.6M381.7 712.8h1.6M381.7 692.1h1.6M381.7 671.4h1.6M381.7 650.6h1.6M381.7 629.9h1.6"/>
<text class="tk" text-anchor="middle" style="font-size:8.2px" x="381.7" y="849.2">0</text><text class="tk" text-anchor="middle" style="font-size:8.2px" x="435.5" y="849.2">1</text><text class="tk" text-anchor="middle" style="font-size:8.2px" x="489.3" y="849.2">2</text><text class="tk" text-anchor="middle" style="font-size:8.2px" x="543.1" y="849.2">3</text><text class="tk" text-anchor="middle" style="font-size:8.2px" x="596.9" y="849.2">4</text><text class="tk" text-anchor="middle" style="font-size:8.2px" x="650.7" y="849.2">5</text><text class="tk" text-anchor="end" style="font-size:8.2px" x="376.9" y="841.2">0</text><text class="tk" text-anchor="end" style="font-size:8.2px" x="376.9" y="820.4">0.5</text><text class="tk" text-anchor="end" style="font-size:8.2px" x="376.9" y="799.7">1</text><text class="tk" text-anchor="end" style="font-size:8.2px" x="376.9" y="779">1.5</text><text class="tk" text-anchor="end" style="font-size:8.2px" x="376.9" y="758.2">2</text><text class="tk" text-anchor="end" style="font-size:8.2px" x="376.9" y="737.5">2.5</text><text class="tk" text-anchor="end" style="font-size:8.2px" x="376.9" y="716.8">3</text><text class="tk" text-anchor="end" style="font-size:8.2px" x="376.9" y="696">3.5</text><text class="tk" text-anchor="end" style="font-size:8.2px" x="376.9" y="675.3">4</text><text class="tk" text-anchor="end" style="font-size:8.2px" x="376.9" y="654.6">4.5</text><text class="tk" text-anchor="end" style="font-size:8.2px" x="376.9" y="633.9">5</text>
<text class="ti" text-anchor="middle" style="font-size:12.3px" x="516.1" y="625.8">Optimization of cluster centers</text>
<text class="al" text-anchor="middle" style="font-size:12.4px" x="515.5" y="864">X1</text>
<text class="al" text-anchor="middle" style="font-size:12.1px" transform="translate(360.6 733.8) rotate(-90)">X2</text>
<text class="cp" text-anchor="middle" x="511" y="896.4">(f)</text>
<rect x="510.3" y="632.8" width="168.5" height="11.3" fill="#fff" stroke="#8a8a8a" stroke-width=".7"/><path d="M512.2 638.5H537.3" stroke="#e8232b" stroke-width="2.3"/><text class="lg" style="font-size:8.25px" x="540" y="640.9">Optimized granular clustering centers</text>
</g>
</svg>
</body></html>
